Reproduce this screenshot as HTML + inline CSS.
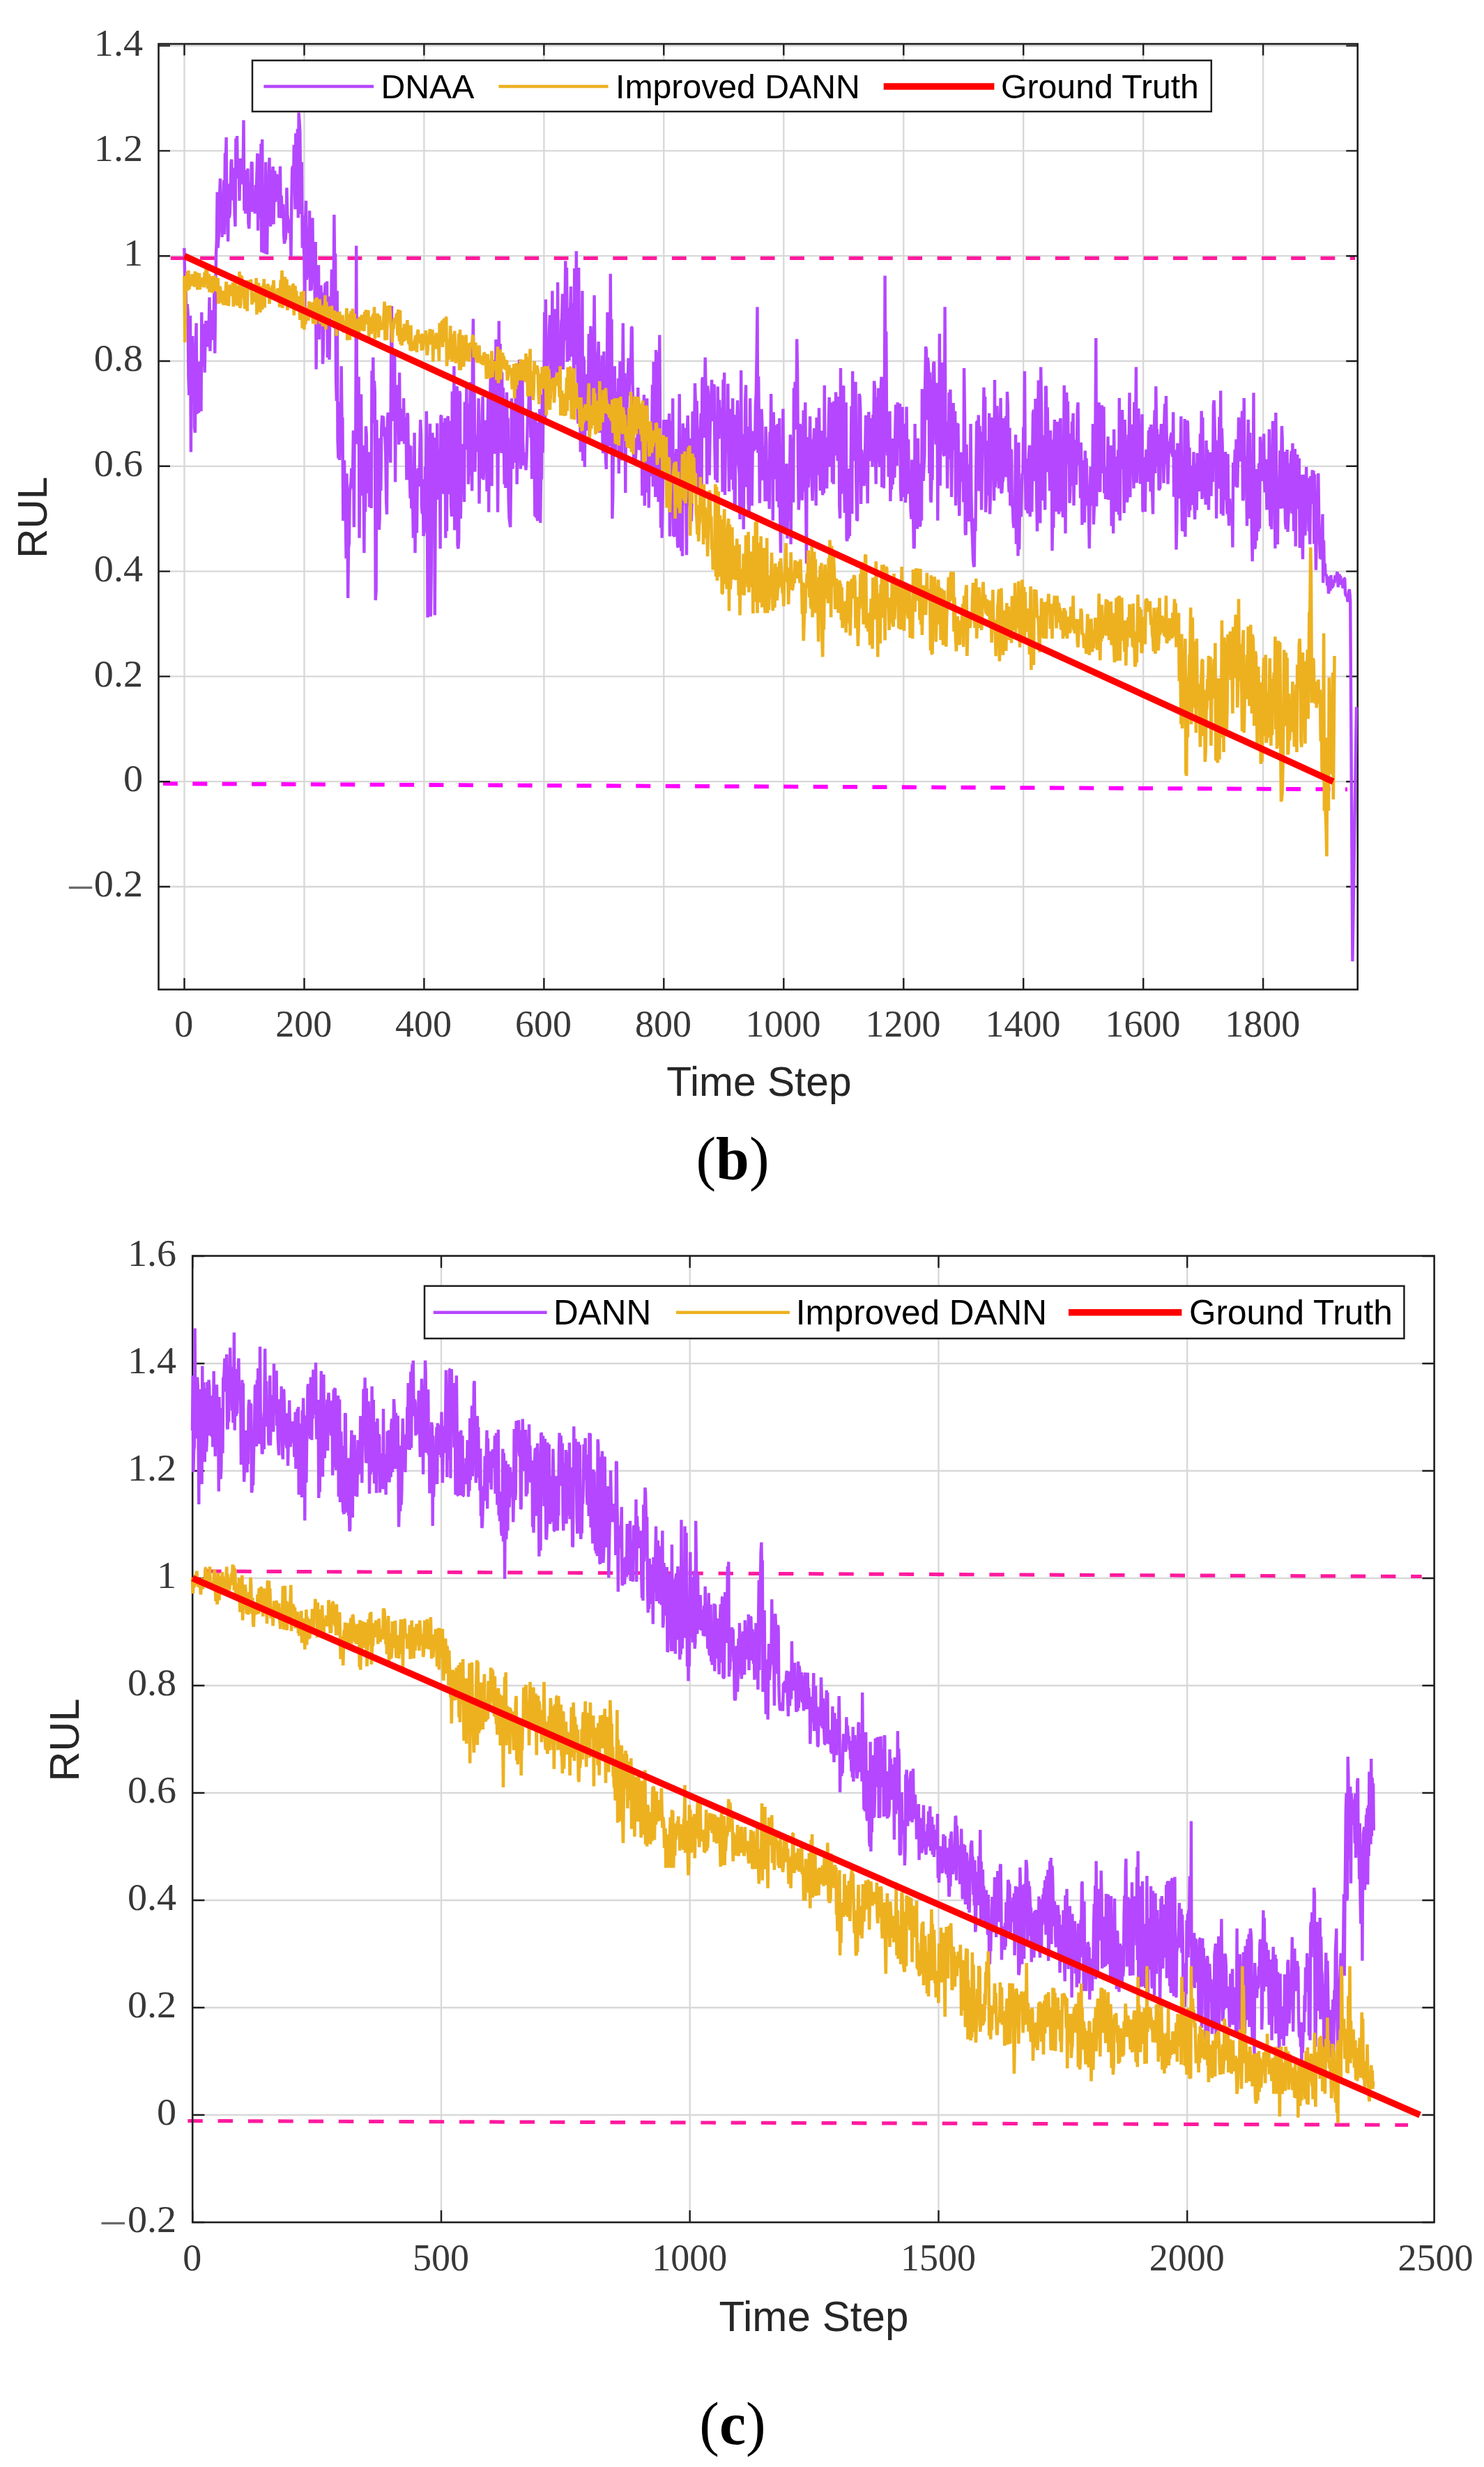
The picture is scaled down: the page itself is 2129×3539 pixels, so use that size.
<!DOCTYPE html>
<html><head><meta charset="utf-8"><title>RUL prediction</title>
<style>
html,body{margin:0;padding:0;background:#fff;}
svg{display:block;}
.tk{font-family:"Liberation Serif",serif;fill:#383838;}
.sn{font-family:"Liberation Sans",sans-serif;fill:#262626;}
.lg{font-family:"Liberation Sans",sans-serif;fill:#000;}
.cap{font-family:"Liberation Serif",serif;fill:#000;}
</style></head><body>
<svg width="2129" height="3539" viewBox="0 0 2129 3539">
<rect width="2129" height="3539" fill="#fff"/>
<path d="M264.5,63.0V1419.5 M436.5,63.0V1419.5 M608.4,63.0V1419.5 M780.4,63.0V1419.5 M952.3,63.0V1419.5 M1124.3,63.0V1419.5 M1296.3,63.0V1419.5 M1468.2,63.0V1419.5 M1640.2,63.0V1419.5 M1812.1,63.0V1419.5 M227.5,1272.0H1947.7 M227.5,1121.2H1947.7 M227.5,970.4H1947.7 M227.5,819.6H1947.7 M227.5,668.8H1947.7 M227.5,518.0H1947.7 M227.5,367.2H1947.7 M227.5,216.4H1947.7 M227.5,65.6H1947.7" stroke="#d8d8d8" stroke-width="2.3" fill="none"/>
<path d="M244.8,370.4 L1944,370.4" stroke="#ff1a9e" stroke-width="5.2" stroke-dasharray="20.8 21.5" fill="none"/>
<path d="M233.9,1124.2 L1933,1132.3" stroke="#ff00ff" stroke-width="5.8" stroke-dasharray="21 21.4" fill="none"/>
<path d="M264.5,1419.5v-16.5 M264.5,63.0v16.5 M436.5,1419.5v-16.5 M436.5,63.0v16.5 M608.4,1419.5v-16.5 M608.4,63.0v16.5 M780.4,1419.5v-16.5 M780.4,63.0v16.5 M952.3,1419.5v-16.5 M952.3,63.0v16.5 M1124.3,1419.5v-16.5 M1124.3,63.0v16.5 M1296.3,1419.5v-16.5 M1296.3,63.0v16.5 M1468.2,1419.5v-16.5 M1468.2,63.0v16.5 M1640.2,1419.5v-16.5 M1640.2,63.0v16.5 M1812.1,1419.5v-16.5 M1812.1,63.0v16.5 M227.5,1272.0h16.5 M1947.7,1272.0h-16.5 M227.5,1121.2h16.5 M1947.7,1121.2h-16.5 M227.5,970.4h16.5 M1947.7,970.4h-16.5 M227.5,819.6h16.5 M1947.7,819.6h-16.5 M227.5,668.8h16.5 M1947.7,668.8h-16.5 M227.5,518.0h16.5 M1947.7,518.0h-16.5 M227.5,367.2h16.5 M1947.7,367.2h-16.5 M227.5,216.4h16.5 M1947.7,216.4h-16.5 M227.5,65.6h16.5 M1947.7,65.6h-16.5" stroke="#1e1e1e" stroke-width="2.4" fill="none"/>
<rect x="227.5" y="63.0" width="1720.2" height="1356.5" fill="none" stroke="#1e1e1e" stroke-width="2.6"/>
<g fill="none" stroke-linejoin="bevel">
<path d="M264.4,355.7 L265.3,408.1 L266.1,389.8 L267.0,439.1 L267.8,465.6 L268.7,436.1 L269.6,448.1 L270.4,540.6 L271.3,566.8 L272.1,465.2 L273.0,452.7 L273.9,648.4 L274.7,513.0 L275.6,529.5 L276.4,481.9 L277.3,569.8 L278.2,498.6 L279.0,613.7 L279.9,620.7 L280.7,509.2 L281.6,463.5 L282.5,594.0 L283.3,565.0 L284.2,559.2 L285.0,592.3 L285.9,518.7 L286.8,568.8 L287.6,585.6 L288.5,589.9 L289.3,448.1 L290.2,526.3 L291.1,464.5 L291.9,476.5 L292.8,488.7 L293.6,534.4 L294.5,486.7 L295.4,460.1 L296.2,483.2 L297.1,468.8 L297.9,497.6 L298.8,465.8 L299.7,467.3 L300.5,426.6 L301.4,503.6 L302.2,469.6 L303.1,487.5 L304.0,445.1 L304.8,487.9 L305.7,469.7 L306.5,461.8 L307.4,417.3 L308.3,506.7 L309.1,434.9 L310.0,364.0 L310.8,347.2 L311.7,275.6 L312.6,355.7 L313.4,343.4 L314.3,327.4 L315.1,280.1 L316.0,256.2 L316.9,295.3 L317.7,280.9 L318.6,340.3 L319.4,301.1 L320.3,324.0 L321.2,258.6 L322.0,336.2 L322.9,219.4 L323.7,243.8 L324.6,197.0 L325.5,316.1 L326.3,312.0 L327.2,346.4 L328.0,263.4 L328.9,312.4 L329.8,306.4 L330.6,278.4 L331.5,232.4 L332.3,228.7 L333.2,287.2 L334.1,278.5 L334.9,240.9 L335.8,265.7 L336.6,305.9 L337.5,324.9 L338.4,198.5 L339.2,238.2 L340.1,195.0 L340.9,255.9 L341.8,239.9 L342.7,232.7 L343.5,287.9 L344.4,227.5 L345.2,232.1 L346.1,247.9 L347.0,244.9 L347.8,264.3 L348.7,242.3 L349.5,172.4 L350.4,302.2 L351.2,244.0 L352.1,306.4 L353.0,251.0 L353.8,253.6 L354.7,261.1 L355.5,241.7 L356.4,320.6 L357.3,328.0 L358.1,296.8 L359.0,262.3 L359.8,296.8 L360.7,234.0 L361.6,232.4 L362.4,303.8 L363.3,298.4 L364.1,280.4 L365.0,300.2 L365.9,306.2 L366.7,265.2 L367.6,277.7 L368.4,252.7 L369.3,220.1 L370.2,330.8 L371.0,220.9 L371.9,234.1 L372.7,260.8 L373.6,313.9 L374.5,205.9 L375.3,361.8 L376.2,200.1 L377.0,319.1 L377.9,362.8 L378.8,302.2 L379.6,326.0 L380.5,363.8 L381.3,232.4 L382.2,317.8 L383.1,364.9 L383.9,300.8 L384.8,257.0 L385.6,269.2 L386.5,226.3 L387.4,304.4 L388.2,324.9 L389.1,266.5 L389.9,309.3 L390.8,248.3 L391.7,238.9 L392.5,321.8 L393.4,274.9 L394.2,244.8 L395.1,289.6 L396.0,276.4 L396.8,249.7 L397.7,269.3 L398.5,251.1 L399.4,270.0 L400.3,312.5 L401.1,275.4 L402.0,238.6 L402.8,313.0 L403.7,280.7 L404.6,303.9 L405.4,301.1 L406.3,293.0 L407.1,336.5 L408.0,349.5 L408.9,344.1 L409.7,342.8 L410.6,323.7 L411.4,269.4 L412.3,307.9 L413.2,314.5 L414.0,316.7 L414.9,334.5 L415.7,322.1 L416.6,331.4 L417.5,368.0 L418.3,293.3 L419.2,242.5 L420.0,238.2 L420.9,273.4 L421.8,207.8 L422.6,245.5 L423.5,300.2 L424.3,191.3 L425.2,213.6 L426.1,251.9 L426.9,184.8 L427.8,312.5 L428.6,161.6 L429.5,172.9 L430.4,189.4 L431.2,271.0 L432.1,306.9 L432.9,232.4 L433.8,355.7 L434.7,309.3 L435.5,346.5 L436.4,366.0 L437.2,463.5 L438.1,320.1 L439.0,287.9 L439.8,401.5 L440.7,394.2 L441.5,326.5 L442.4,365.7 L443.3,381.0 L444.1,302.2 L445.0,417.3 L445.8,406.5 L446.7,416.2 L447.6,366.5 L448.4,312.5 L449.3,406.5 L450.1,404.8 L451.0,383.0 L451.9,434.6 L452.7,347.1 L453.6,529.8 L454.4,438.4 L455.3,446.3 L456.2,413.2 L457.0,380.3 L457.9,486.9 L458.7,425.4 L459.6,416.1 L460.5,409.3 L461.3,433.2 L462.2,422.6 L463.0,522.1 L463.9,500.2 L464.8,419.8 L465.6,429.7 L466.5,408.1 L467.3,406.1 L468.2,449.6 L469.1,403.5 L469.9,512.9 L470.8,425.3 L471.6,450.9 L472.5,515.9 L473.4,444.0 L474.2,426.6 L475.1,443.2 L475.9,386.5 L476.8,455.3 L477.7,448.1 L478.5,432.6 L479.4,307.9 L480.2,388.5 L481.1,363.7 L482.0,540.6 L482.8,575.1 L483.7,417.3 L484.5,631.4 L485.4,657.6 L486.3,576.7 L487.1,660.0 L488.0,599.2 L488.8,651.5 L489.7,525.2 L490.6,609.1 L491.4,598.7 L492.3,747.0 L493.1,734.4 L494.0,660.2 L494.9,712.5 L495.7,734.7 L496.6,801.3 L497.4,679.2 L498.3,725.9 L499.2,857.9 L500.0,786.3 L500.9,779.2 L501.7,706.8 L502.6,697.6 L503.5,691.3 L504.3,671.5 L505.2,700.9 L506.0,686.2 L506.9,617.6 L507.8,756.2 L508.6,629.7 L509.5,636.9 L510.3,615.4 L511.2,352.6 L512.1,602.2 L512.9,622.6 L513.8,637.1 L514.6,540.6 L515.5,771.7 L516.4,660.8 L517.2,695.8 L518.1,565.6 L518.9,711.0 L519.8,681.4 L520.7,639.1 L521.5,678.9 L522.4,793.2 L523.2,646.5 L524.1,734.2 L524.9,611.4 L525.8,624.0 L526.7,707.6 L527.5,672.1 L528.4,673.6 L529.2,648.6 L530.1,727.3 L531.0,725.4 L531.8,686.3 L532.7,729.0 L533.5,531.7 L534.4,607.1 L535.3,512.8 L536.1,595.0 L537.0,546.4 L537.8,562.1 L538.7,861.0 L539.6,847.5 L540.4,602.2 L541.3,687.6 L542.1,629.6 L543.0,686.5 L543.9,759.8 L544.7,742.3 L545.6,628.2 L546.4,703.9 L547.3,614.4 L548.2,596.0 L549.0,611.2 L549.9,597.4 L550.7,625.8 L551.6,612.8 L552.5,631.0 L553.3,653.1 L554.2,720.0 L555.0,737.8 L555.9,602.2 L556.8,591.7 L557.6,621.4 L558.5,652.1 L559.3,616.3 L560.2,663.8 L561.1,514.1 L561.9,438.9 L562.8,540.1 L563.6,528.1 L564.5,604.0 L565.4,570.5 L566.2,509.7 L567.1,691.5 L567.9,562.7 L568.8,571.2 L569.7,552.4 L570.5,615.6 L571.4,577.6 L572.2,637.8 L573.1,534.4 L574.0,633.0 L574.8,622.0 L575.7,586.4 L576.5,627.8 L577.4,632.1 L578.3,630.8 L579.1,571.4 L580.0,636.8 L580.8,598.8 L581.7,628.7 L582.6,615.2 L583.4,688.5 L584.3,592.6 L585.1,596.0 L586.0,666.8 L586.9,638.4 L587.7,681.4 L588.6,715.0 L589.4,639.6 L590.3,729.5 L591.2,706.4 L592.0,712.9 L592.9,771.6 L593.7,714.6 L594.6,620.7 L595.5,793.2 L596.3,708.7 L597.2,682.9 L598.0,764.6 L598.9,677.8 L599.8,671.8 L600.6,677.5 L601.5,697.8 L602.3,645.5 L603.2,602.2 L604.1,623.7 L604.9,725.4 L605.8,737.1 L606.6,687.5 L607.5,769.0 L608.4,763.3 L609.2,758.9 L610.1,669.2 L610.9,714.4 L611.8,589.9 L612.7,639.8 L613.5,885.7 L614.4,850.5 L615.2,808.2 L616.1,763.8 L617.0,607.8 L617.8,884.4 L618.7,819.5 L619.5,669.0 L620.4,620.7 L621.3,649.0 L622.1,646.5 L623.0,627.7 L623.8,882.6 L624.7,728.1 L625.6,694.5 L626.4,667.8 L627.3,607.2 L628.1,714.7 L629.0,715.1 L629.9,664.6 L630.7,643.7 L631.6,787.1 L632.4,596.9 L633.3,596.0 L634.2,670.9 L635.0,708.6 L635.9,606.1 L636.7,622.0 L637.6,686.4 L638.5,599.7 L639.3,771.7 L640.2,682.3 L641.0,761.9 L641.9,602.2 L642.8,597.0 L643.6,699.1 L644.5,708.8 L645.3,603.7 L646.2,660.1 L647.1,725.4 L647.9,740.8 L648.8,561.4 L649.6,668.2 L650.5,713.9 L651.4,525.2 L652.2,760.5 L653.1,636.9 L653.9,553.8 L654.8,620.2 L655.7,554.4 L656.5,782.0 L657.4,787.1 L658.2,774.8 L659.1,561.0 L660.0,565.2 L660.8,743.9 L661.7,690.3 L662.5,678.7 L663.4,636.9 L664.3,641.6 L665.1,657.6 L666.0,720.0 L666.8,576.4 L667.7,603.4 L668.6,622.3 L669.4,556.0 L670.3,645.0 L671.1,579.0 L672.0,694.6 L672.9,661.3 L673.7,682.2 L674.6,557.4 L675.4,548.2 L676.3,573.9 L677.2,704.3 L678.0,513.5 L678.9,457.4 L679.7,585.5 L680.6,563.7 L681.5,676.8 L682.3,623.8 L683.2,628.7 L684.0,645.8 L684.9,647.5 L685.8,623.7 L686.6,571.4 L687.5,722.4 L688.3,639.8 L689.2,686.5 L690.1,645.0 L690.9,622.3 L691.8,586.0 L692.6,568.5 L693.5,688.5 L694.3,662.3 L695.2,615.6 L696.1,609.2 L696.9,602.9 L697.8,634.8 L698.6,704.9 L699.5,616.4 L700.4,565.2 L701.2,734.7 L702.1,604.5 L702.9,585.4 L703.8,539.7 L704.7,620.5 L705.5,697.2 L706.4,522.1 L707.2,516.3 L708.1,579.6 L709.0,618.1 L709.8,650.9 L710.7,584.8 L711.5,487.1 L712.4,583.8 L713.3,613.2 L714.1,734.7 L715.0,613.5 L715.8,460.4 L716.7,617.8 L717.6,493.1 L718.4,577.6 L719.3,649.9 L720.1,533.8 L721.0,617.6 L721.9,556.0 L722.7,625.8 L723.6,694.6 L724.4,613.2 L725.3,700.1 L726.2,605.9 L727.0,562.7 L727.9,643.4 L728.7,599.6 L729.6,715.1 L730.5,743.3 L731.3,749.0 L732.2,756.2 L733.0,689.7 L733.9,571.4 L734.8,629.5 L735.6,672.8 L736.5,585.8 L737.3,663.6 L738.2,653.4 L739.1,662.8 L739.9,548.1 L740.8,537.0 L741.6,694.6 L742.5,639.8 L743.4,559.0 L744.2,587.9 L745.1,515.9 L745.9,624.7 L746.8,672.8 L747.7,636.3 L748.5,654.1 L749.4,534.4 L750.2,633.3 L751.1,667.6 L752.0,649.0 L752.8,663.8 L753.7,660.1 L754.5,674.3 L755.4,657.7 L756.3,629.2 L757.1,592.4 L758.0,608.2 L758.8,565.2 L759.7,566.8 L760.6,568.0 L761.4,627.7 L762.3,612.8 L763.1,687.0 L764.0,645.0 L764.9,626.4 L765.7,595.9 L766.6,658.5 L767.4,740.8 L768.3,591.8 L769.2,742.8 L770.0,605.9 L770.9,745.4 L771.7,746.7 L772.6,658.9 L773.5,624.2 L774.3,586.8 L775.2,750.1 L776.0,687.3 L776.9,686.9 L777.8,566.1 L778.6,649.4 L779.5,572.5 L780.3,558.2 L781.2,448.1 L782.1,602.2 L782.9,429.6 L783.8,538.4 L784.6,531.6 L785.5,497.5 L786.4,512.7 L787.2,511.5 L788.1,471.4 L788.9,452.0 L789.8,571.4 L790.7,509.0 L791.5,515.8 L792.4,417.3 L793.2,541.8 L794.1,559.7 L795.0,501.3 L795.8,443.2 L796.7,483.4 L797.5,527.5 L798.4,495.9 L799.3,546.8 L800.1,405.0 L801.0,531.5 L801.8,540.6 L802.7,538.9 L803.6,517.5 L804.4,513.7 L805.3,461.0 L806.1,457.2 L807.0,421.5 L807.9,529.9 L808.7,489.6 L809.6,485.3 L810.4,451.0 L811.3,374.2 L812.2,469.3 L813.0,383.9 L813.9,519.0 L814.7,441.3 L815.6,450.6 L816.5,517.0 L817.3,481.8 L818.2,442.5 L819.0,411.1 L819.9,511.5 L820.8,505.7 L821.6,500.3 L822.5,435.1 L823.3,571.4 L824.2,385.0 L825.1,422.5 L825.9,523.0 L826.8,360.3 L827.6,441.9 L828.5,518.9 L829.4,607.8 L830.2,383.9 L831.1,512.5 L831.9,525.2 L832.8,648.4 L833.7,629.2 L834.5,612.6 L835.4,417.3 L836.2,661.3 L837.1,511.2 L838.0,519.0 L838.8,670.0 L839.7,573.0 L840.5,607.7 L841.4,536.9 L842.3,567.3 L843.1,617.7 L844.0,560.4 L844.8,478.9 L845.7,631.6 L846.6,537.9 L847.4,467.7 L848.3,497.9 L849.1,544.6 L850.0,482.4 L850.9,602.2 L851.7,510.4 L852.6,423.5 L853.4,502.7 L854.3,515.0 L855.2,582.4 L856.0,612.1 L856.9,586.7 L857.7,526.3 L858.6,490.0 L859.5,531.6 L860.3,620.7 L861.2,562.1 L862.0,527.1 L862.9,612.0 L863.8,509.7 L864.6,645.2 L865.5,650.1 L866.3,504.2 L867.2,595.7 L868.0,561.2 L868.9,656.4 L869.8,673.1 L870.6,574.0 L871.5,448.1 L872.3,539.2 L873.2,624.7 L874.1,640.4 L874.9,626.3 L875.8,392.7 L876.6,545.9 L877.5,457.9 L878.4,743.9 L879.2,712.6 L880.1,621.1 L880.9,553.4 L881.8,525.2 L882.7,649.5 L883.5,609.2 L884.4,562.0 L885.2,610.1 L886.1,609.4 L887.0,542.7 L887.8,679.2 L888.7,578.6 L889.5,518.2 L890.4,538.2 L891.3,560.5 L892.1,660.5 L893.0,565.4 L893.8,463.5 L894.7,584.8 L895.6,607.0 L896.4,535.3 L897.3,706.9 L898.1,560.8 L899.0,604.1 L899.9,570.5 L900.7,551.3 L901.6,513.8 L902.4,567.5 L903.3,545.7 L904.2,548.8 L905.0,530.6 L905.9,469.4 L906.7,469.7 L907.6,551.5 L908.5,593.5 L909.3,663.8 L910.2,666.2 L911.0,660.0 L911.9,656.9 L912.8,641.4 L913.6,627.7 L914.5,645.1 L915.3,556.0 L916.2,643.9 L917.1,612.9 L917.9,645.6 L918.8,627.2 L919.6,637.3 L920.5,610.3 L921.4,710.9 L922.2,613.4 L923.1,623.4 L923.9,566.2 L924.8,725.4 L925.7,576.2 L926.5,656.8 L927.4,599.2 L928.2,571.4 L929.1,706.5 L930.0,640.4 L930.8,728.5 L931.7,639.6 L932.5,643.9 L933.4,683.5 L934.3,607.5 L935.1,624.0 L936.0,552.1 L936.8,698.0 L937.7,519.0 L938.6,614.3 L939.4,582.3 L940.3,713.1 L941.1,501.9 L942.0,586.5 L942.9,635.9 L943.7,505.3 L944.6,720.0 L945.4,595.8 L946.3,480.5 L947.2,633.5 L948.0,756.9 L948.9,661.9 L949.7,771.7 L950.6,717.7 L951.5,655.3 L952.3,602.2 L953.2,640.7 L954.0,617.6 L954.9,636.1 L955.8,602.1 L956.6,709.1 L957.5,688.4 L958.3,626.6 L959.2,631.5 L960.1,593.2 L960.9,769.4 L961.8,723.9 L962.6,603.7 L963.5,709.8 L964.4,687.4 L965.2,571.4 L966.1,768.6 L966.9,768.3 L967.8,769.5 L968.7,761.1 L969.5,661.6 L970.4,644.0 L971.2,748.9 L972.1,783.5 L973.0,785.3 L973.8,676.0 L974.7,565.2 L975.5,656.7 L976.4,701.9 L977.3,790.4 L978.1,731.9 L979.0,797.8 L979.8,607.4 L980.7,667.1 L981.6,711.0 L982.4,723.6 L983.3,613.7 L984.1,697.1 L985.0,796.3 L985.9,617.7 L986.7,596.0 L987.6,635.5 L988.4,629.0 L989.3,726.1 L990.2,628.9 L991.0,664.9 L991.9,747.8 L992.7,717.3 L993.6,591.0 L994.5,591.7 L995.3,689.4 L996.2,621.0 L997.0,549.8 L997.9,578.5 L998.8,710.0 L999.6,575.1 L1000.5,626.7 L1001.3,707.6 L1002.2,706.8 L1003.1,688.9 L1003.9,614.3 L1004.8,619.1 L1005.6,592.8 L1006.5,702.5 L1007.4,544.4 L1008.2,541.2 L1009.1,593.2 L1009.9,628.0 L1010.8,586.2 L1011.7,512.8 L1012.5,551.8 L1013.4,586.4 L1014.2,694.6 L1015.1,553.5 L1016.0,564.1 L1016.8,605.4 L1017.7,681.7 L1018.5,630.2 L1019.4,577.0 L1020.3,573.9 L1021.1,544.8 L1022.0,604.4 L1022.8,563.0 L1023.7,552.9 L1024.6,551.7 L1025.4,640.2 L1026.3,688.5 L1027.1,620.5 L1028.0,624.0 L1028.9,692.3 L1029.7,554.5 L1030.6,626.2 L1031.4,629.4 L1032.3,573.6 L1033.2,621.1 L1034.0,588.0 L1034.9,610.8 L1035.7,584.7 L1036.6,705.8 L1037.5,544.4 L1038.3,657.2 L1039.2,534.4 L1040.0,710.0 L1040.9,640.2 L1041.7,611.5 L1042.6,611.7 L1043.5,642.9 L1044.3,550.4 L1045.2,644.3 L1046.0,705.0 L1046.9,586.5 L1047.8,688.1 L1048.6,606.4 L1049.5,664.1 L1050.3,621.7 L1051.2,571.4 L1052.1,702.5 L1052.9,595.0 L1053.8,724.8 L1054.6,725.4 L1055.5,614.0 L1056.4,667.0 L1057.2,604.8 L1058.1,574.4 L1058.9,611.9 L1059.8,666.5 L1060.7,682.2 L1061.5,745.0 L1062.4,692.3 L1063.2,531.3 L1064.1,719.7 L1065.0,734.0 L1065.8,648.3 L1066.7,759.3 L1067.5,622.7 L1068.4,656.6 L1069.3,572.3 L1070.1,552.4 L1071.0,698.7 L1071.8,636.7 L1072.7,612.0 L1073.6,719.2 L1074.4,738.1 L1075.3,714.5 L1076.1,571.4 L1077.0,650.3 L1077.9,715.1 L1078.7,725.4 L1079.6,654.3 L1080.4,618.3 L1081.3,646.7 L1082.2,643.6 L1083.0,645.0 L1083.9,580.6 L1084.7,566.6 L1085.6,514.0 L1086.5,440.4 L1087.3,649.4 L1088.2,539.9 L1089.0,620.8 L1089.9,721.8 L1090.8,626.4 L1091.6,663.2 L1092.5,586.8 L1093.3,606.1 L1094.2,689.0 L1095.1,674.7 L1095.9,651.4 L1096.8,640.2 L1097.6,719.3 L1098.5,612.1 L1099.4,634.0 L1100.2,719.0 L1101.1,699.5 L1101.9,660.6 L1102.8,692.2 L1103.7,730.0 L1104.5,619.5 L1105.4,637.9 L1106.2,565.0 L1107.1,656.9 L1108.0,599.6 L1108.8,746.8 L1109.7,591.3 L1110.5,644.7 L1111.4,626.1 L1112.3,641.7 L1113.1,687.5 L1114.0,609.9 L1114.8,719.3 L1115.7,608.1 L1116.6,633.1 L1117.4,728.1 L1118.3,600.1 L1119.1,738.1 L1120.0,793.0 L1120.9,670.6 L1121.7,760.5 L1122.6,684.8 L1123.4,586.6 L1124.3,725.4 L1125.2,688.3 L1126.0,764.4 L1126.9,666.8 L1127.7,751.5 L1128.6,665.1 L1129.5,772.4 L1130.3,698.7 L1131.2,675.2 L1132.0,747.6 L1132.9,689.3 L1133.8,623.5 L1134.6,780.7 L1135.5,677.1 L1136.3,628.4 L1137.2,689.1 L1138.1,720.8 L1138.9,556.6 L1139.8,616.5 L1140.6,547.9 L1141.5,615.7 L1142.4,601.6 L1143.2,486.4 L1144.1,532.4 L1144.9,657.0 L1145.8,731.4 L1146.7,709.9 L1147.5,608.1 L1148.4,612.9 L1149.2,692.4 L1150.1,686.9 L1151.0,717.6 L1151.8,675.6 L1152.7,588.5 L1153.5,705.1 L1154.4,671.2 L1155.3,577.3 L1156.1,707.9 L1157.0,808.4 L1157.8,627.1 L1158.7,694.7 L1159.6,699.3 L1160.4,675.7 L1161.3,641.2 L1162.1,597.3 L1163.0,667.5 L1163.9,630.2 L1164.7,692.9 L1165.6,718.4 L1166.4,673.0 L1167.3,635.2 L1168.2,614.3 L1169.0,683.6 L1169.9,665.6 L1170.7,725.2 L1171.6,599.1 L1172.5,681.2 L1173.3,671.9 L1174.2,645.3 L1175.0,585.3 L1175.9,652.4 L1176.8,703.8 L1177.6,680.4 L1178.5,617.9 L1179.3,653.2 L1180.2,710.3 L1181.1,688.3 L1181.9,707.5 L1182.8,552.7 L1183.6,659.4 L1184.5,632.1 L1185.4,641.9 L1186.2,700.6 L1187.1,627.7 L1187.9,656.7 L1188.8,609.9 L1189.7,569.9 L1190.5,669.8 L1191.4,581.8 L1192.2,577.3 L1193.1,607.1 L1194.0,692.1 L1194.8,608.2 L1195.7,694.4 L1196.5,575.6 L1197.4,624.1 L1198.3,653.4 L1199.1,562.5 L1200.0,606.1 L1200.8,612.5 L1201.7,661.3 L1202.6,635.7 L1203.4,569.0 L1204.3,725.5 L1205.1,743.7 L1206.0,528.0 L1206.9,708.5 L1207.7,623.3 L1208.6,582.0 L1209.4,556.4 L1210.3,553.5 L1211.1,689.6 L1212.0,735.6 L1212.9,687.8 L1213.7,577.3 L1214.6,773.2 L1215.4,776.1 L1216.3,749.3 L1217.2,772.6 L1218.0,672.2 L1218.9,769.0 L1219.7,679.4 L1220.6,671.5 L1221.5,582.4 L1222.3,736.9 L1223.2,532.6 L1224.0,661.3 L1224.9,612.9 L1225.8,648.2 L1226.6,605.2 L1227.5,547.7 L1228.3,690.0 L1229.2,746.8 L1230.1,745.7 L1230.9,638.4 L1231.8,692.3 L1232.6,565.0 L1233.5,568.4 L1234.4,589.0 L1235.2,722.9 L1236.1,645.3 L1236.9,654.2 L1237.8,659.8 L1238.7,677.0 L1239.5,697.2 L1240.4,683.8 L1241.2,643.3 L1242.1,595.8 L1243.0,645.6 L1243.8,660.0 L1244.7,722.1 L1245.5,638.9 L1246.4,590.8 L1247.3,661.4 L1248.1,627.5 L1249.0,624.9 L1249.8,622.1 L1250.7,600.1 L1251.6,669.8 L1252.4,595.0 L1253.3,619.6 L1254.1,546.5 L1255.0,555.3 L1255.9,648.9 L1256.7,694.4 L1257.6,576.4 L1258.4,570.3 L1259.3,606.1 L1260.2,556.7 L1261.0,655.0 L1261.9,670.0 L1262.7,658.7 L1263.6,561.9 L1264.5,540.5 L1265.3,699.1 L1266.2,541.3 L1267.0,558.9 L1267.9,700.6 L1268.8,607.8 L1269.6,395.5 L1270.5,606.4 L1271.3,475.5 L1272.2,628.7 L1273.1,653.3 L1273.9,592.7 L1274.8,684.1 L1275.6,665.9 L1276.5,590.0 L1277.4,719.0 L1278.2,674.8 L1279.1,702.3 L1279.9,629.1 L1280.8,694.9 L1281.7,654.4 L1282.5,680.4 L1283.4,685.2 L1284.2,624.4 L1285.1,580.5 L1286.0,618.6 L1286.8,668.0 L1287.7,577.3 L1288.5,643.5 L1289.4,627.4 L1290.3,614.6 L1291.1,578.9 L1292.0,698.8 L1292.8,719.0 L1293.7,674.2 L1294.6,583.7 L1295.4,713.0 L1296.3,614.2 L1297.1,607.8 L1298.0,631.2 L1298.9,721.0 L1299.7,708.3 L1300.6,583.5 L1301.4,667.6 L1302.3,658.5 L1303.2,630.2 L1304.0,708.2 L1304.9,699.7 L1305.7,698.7 L1306.6,732.2 L1307.5,744.7 L1308.3,659.5 L1309.2,697.8 L1310.0,732.7 L1310.9,786.8 L1311.8,784.3 L1312.6,608.1 L1313.5,718.6 L1314.3,696.8 L1315.2,632.3 L1316.1,758.8 L1316.9,628.7 L1317.8,707.6 L1318.6,704.1 L1319.5,755.5 L1320.4,752.3 L1321.2,665.1 L1322.1,746.8 L1322.9,558.2 L1323.8,562.0 L1324.7,690.0 L1325.5,669.5 L1326.4,652.3 L1327.2,550.2 L1328.1,497.2 L1329.0,502.9 L1329.8,602.4 L1330.7,513.2 L1331.5,518.3 L1332.4,534.0 L1333.3,679.0 L1334.1,534.2 L1335.0,716.0 L1335.8,720.7 L1336.7,677.9 L1337.6,689.0 L1338.4,553.4 L1339.3,521.4 L1340.1,518.8 L1341.0,583.1 L1341.9,611.9 L1342.7,637.7 L1343.6,549.7 L1344.4,552.0 L1345.3,746.8 L1346.2,579.0 L1347.0,694.9 L1347.9,478.7 L1348.7,696.6 L1349.6,619.9 L1350.5,644.1 L1351.3,635.5 L1352.2,519.9 L1353.0,613.7 L1353.9,652.8 L1354.8,653.1 L1355.6,440.2 L1356.5,623.3 L1357.3,645.6 L1358.2,604.7 L1359.1,700.6 L1359.9,636.8 L1360.8,658.7 L1361.6,563.0 L1362.5,596.4 L1363.4,558.8 L1364.2,632.8 L1365.1,713.1 L1365.9,641.3 L1366.8,608.8 L1367.7,578.1 L1368.5,645.9 L1369.4,628.3 L1370.2,589.8 L1371.1,725.2 L1372.0,631.1 L1372.8,680.0 L1373.7,608.5 L1374.5,608.1 L1375.4,693.4 L1376.3,739.9 L1377.1,674.5 L1378.0,660.8 L1378.8,648.7 L1379.7,677.9 L1380.6,690.8 L1381.4,663.6 L1382.3,720.4 L1383.1,528.0 L1384.0,597.1 L1384.8,765.3 L1385.7,767.2 L1386.6,637.6 L1387.4,692.8 L1388.3,666.4 L1389.1,719.1 L1390.0,748.1 L1390.9,699.4 L1391.7,693.7 L1392.6,608.1 L1393.4,707.5 L1394.3,753.6 L1395.2,777.2 L1396.0,801.7 L1396.9,811.3 L1397.7,813.0 L1398.6,743.3 L1399.5,762.2 L1400.3,675.9 L1401.2,605.3 L1402.0,605.0 L1402.9,643.9 L1403.8,595.4 L1404.6,704.5 L1405.5,610.9 L1406.3,688.5 L1407.2,633.2 L1408.1,731.4 L1408.9,664.2 L1409.8,619.9 L1410.6,621.2 L1411.5,555.7 L1412.4,624.2 L1413.2,568.9 L1414.1,734.8 L1414.9,715.1 L1415.8,632.2 L1416.7,639.0 L1417.5,693.3 L1418.4,710.6 L1419.2,592.7 L1420.1,737.5 L1421.0,710.9 L1421.8,663.7 L1422.7,598.8 L1423.5,635.4 L1424.4,668.4 L1425.3,614.9 L1426.1,718.3 L1427.0,545.0 L1427.8,699.1 L1428.7,683.6 L1429.6,599.0 L1430.4,582.3 L1431.3,627.9 L1432.1,639.4 L1433.0,700.6 L1433.9,682.8 L1434.7,619.0 L1435.6,571.1 L1436.4,705.9 L1437.3,707.2 L1438.2,691.0 L1439.0,689.3 L1439.9,599.8 L1440.7,654.3 L1441.6,628.8 L1442.5,684.5 L1443.3,596.9 L1444.2,637.2 L1445.0,561.9 L1445.9,582.8 L1446.8,687.4 L1447.6,706.2 L1448.5,613.8 L1449.3,725.2 L1450.2,644.8 L1451.1,646.8 L1451.9,726.8 L1452.8,724.8 L1453.6,749.0 L1454.5,757.3 L1455.4,750.8 L1456.2,718.9 L1457.1,623.5 L1457.9,780.4 L1458.8,658.4 L1459.7,651.2 L1460.5,797.6 L1461.4,634.8 L1462.2,788.3 L1463.1,713.8 L1464.0,699.7 L1464.8,741.4 L1465.7,703.5 L1466.5,679.1 L1467.4,680.4 L1468.3,612.5 L1469.1,659.9 L1470.0,532.6 L1470.8,666.2 L1471.7,729.5 L1472.6,731.4 L1473.4,658.1 L1474.3,734.3 L1475.1,736.0 L1476.0,653.7 L1476.9,638.7 L1477.7,741.2 L1478.6,700.2 L1479.4,674.6 L1480.3,734.4 L1481.2,653.3 L1482.0,592.7 L1482.9,587.8 L1483.7,592.1 L1484.6,690.3 L1485.5,571.9 L1486.3,649.2 L1487.2,713.2 L1488.0,762.2 L1488.9,625.4 L1489.8,545.5 L1490.6,660.2 L1491.5,709.7 L1492.3,750.5 L1493.2,526.5 L1494.1,586.1 L1494.9,663.4 L1495.8,624.5 L1496.6,718.0 L1497.5,697.0 L1498.4,681.6 L1499.2,731.4 L1500.1,553.9 L1500.9,555.7 L1501.8,677.3 L1502.7,584.4 L1503.5,640.0 L1504.4,626.0 L1505.2,664.0 L1506.1,704.3 L1507.0,617.6 L1507.8,691.3 L1508.7,630.5 L1509.5,789.9 L1510.4,729.0 L1511.3,757.2 L1512.1,640.8 L1513.0,602.0 L1513.8,659.6 L1514.7,641.3 L1515.6,734.0 L1516.4,667.7 L1517.3,605.1 L1518.1,686.9 L1519.0,737.5 L1519.9,657.4 L1520.7,604.9 L1521.6,600.1 L1522.4,733.8 L1523.3,678.9 L1524.2,727.3 L1525.0,742.2 L1525.9,674.5 L1526.7,552.7 L1527.6,602.1 L1528.5,765.3 L1529.3,660.5 L1530.2,563.0 L1531.0,610.0 L1531.9,575.8 L1532.8,666.1 L1533.6,621.7 L1534.5,721.7 L1535.3,706.0 L1536.2,643.0 L1537.1,696.9 L1537.9,604.7 L1538.8,621.1 L1539.6,592.7 L1540.5,725.2 L1541.4,658.4 L1542.2,689.4 L1543.1,630.8 L1543.9,695.5 L1544.8,645.3 L1545.7,587.9 L1546.5,577.3 L1547.4,658.0 L1548.2,666.7 L1549.1,638.2 L1550.0,714.8 L1550.8,634.8 L1551.7,684.6 L1552.5,752.9 L1553.4,667.4 L1554.2,660.3 L1555.1,743.2 L1556.0,749.5 L1556.8,646.6 L1557.7,725.4 L1558.5,657.4 L1559.4,689.7 L1560.3,718.1 L1561.1,698.7 L1562.0,741.1 L1562.8,786.8 L1563.7,717.2 L1564.6,669.6 L1565.4,708.9 L1566.3,682.3 L1567.1,725.4 L1568.0,608.1 L1568.9,752.3 L1569.7,730.5 L1570.6,668.4 L1571.4,620.6 L1572.3,484.9 L1573.2,726.5 L1574.0,588.1 L1574.9,615.2 L1575.7,688.1 L1576.6,577.3 L1577.5,703.6 L1578.3,705.4 L1579.2,613.9 L1580.0,625.5 L1580.9,581.2 L1581.8,636.7 L1582.6,678.9 L1583.5,583.5 L1584.3,707.6 L1585.2,684.8 L1586.1,716.0 L1586.9,703.6 L1587.8,670.2 L1588.6,697.9 L1589.5,626.3 L1590.4,717.0 L1591.2,664.2 L1592.1,700.0 L1592.9,651.9 L1593.8,638.9 L1594.7,754.6 L1595.5,697.3 L1596.4,646.3 L1597.2,765.3 L1598.1,615.9 L1599.0,680.6 L1599.8,655.1 L1600.7,688.7 L1601.5,734.2 L1602.4,678.8 L1603.3,683.3 L1604.1,645.3 L1605.0,738.5 L1605.8,571.1 L1606.7,746.8 L1607.6,654.5 L1608.4,668.4 L1609.3,621.5 L1610.1,587.9 L1611.0,672.8 L1611.9,638.0 L1612.7,736.0 L1613.6,602.0 L1614.4,643.4 L1615.3,666.9 L1616.2,697.4 L1617.0,720.5 L1617.9,709.4 L1618.7,623.5 L1619.6,634.8 L1620.5,563.4 L1621.3,713.2 L1622.2,609.9 L1623.0,614.5 L1623.9,627.6 L1624.8,608.8 L1625.6,662.2 L1626.5,700.6 L1627.3,577.1 L1628.2,634.6 L1629.1,615.4 L1629.9,526.5 L1630.8,692.8 L1631.6,642.4 L1632.5,591.5 L1633.4,586.1 L1634.2,627.8 L1635.1,662.2 L1635.9,694.3 L1636.8,643.3 L1637.7,650.9 L1638.5,594.3 L1639.4,732.9 L1640.2,733.4 L1641.1,655.9 L1642.0,682.5 L1642.8,734.2 L1643.7,675.8 L1644.5,644.9 L1645.4,679.7 L1646.3,691.2 L1647.1,662.7 L1648.0,617.4 L1648.8,689.9 L1649.7,612.7 L1650.6,705.3 L1651.4,609.0 L1652.3,685.2 L1653.1,703.6 L1654.0,737.5 L1654.9,651.4 L1655.7,625.0 L1656.6,588.2 L1657.4,679.0 L1658.3,554.2 L1659.2,619.1 L1660.0,615.5 L1660.9,669.5 L1661.7,623.3 L1662.6,703.2 L1663.5,700.6 L1664.3,700.0 L1665.2,626.2 L1666.0,608.1 L1666.9,629.7 L1667.8,654.2 L1668.6,635.2 L1669.5,693.1 L1670.3,605.7 L1671.2,579.4 L1672.1,665.9 L1672.9,568.1 L1673.8,631.6 L1674.6,668.0 L1675.5,694.4 L1676.4,656.3 L1677.2,633.1 L1678.1,650.5 L1678.9,630.4 L1679.8,625.1 L1680.7,620.7 L1681.5,649.5 L1682.4,655.1 L1683.2,591.2 L1684.1,712.7 L1685.0,668.1 L1685.8,645.2 L1686.7,685.7 L1687.5,788.4 L1688.4,747.4 L1689.3,635.8 L1690.1,708.1 L1691.0,636.6 L1691.8,715.3 L1692.7,647.8 L1693.6,646.8 L1694.4,597.3 L1695.3,717.9 L1696.1,761.4 L1697.0,760.1 L1697.9,738.1 L1698.7,745.4 L1699.6,601.0 L1700.4,769.9 L1701.3,695.7 L1702.2,671.0 L1703.0,603.5 L1703.9,606.2 L1704.7,637.2 L1705.6,741.9 L1706.5,642.1 L1707.3,732.3 L1708.2,668.1 L1709.0,724.5 L1709.9,705.3 L1710.8,676.8 L1711.6,688.0 L1712.5,648.2 L1713.3,719.6 L1714.2,745.2 L1715.1,686.5 L1715.9,664.9 L1716.8,731.7 L1717.6,650.1 L1718.5,668.3 L1719.4,685.0 L1720.2,694.7 L1721.1,704.8 L1721.9,622.2 L1722.8,703.4 L1723.7,589.6 L1724.5,716.0 L1725.4,598.8 L1726.2,713.3 L1727.1,686.3 L1727.9,687.7 L1728.8,690.3 L1729.7,724.0 L1730.5,631.9 L1731.4,697.1 L1732.2,645.1 L1733.1,693.1 L1734.0,731.4 L1734.8,668.9 L1735.7,683.7 L1736.5,648.7 L1737.4,711.8 L1738.3,663.8 L1739.1,650.8 L1740.0,691.4 L1740.8,581.7 L1741.7,574.2 L1742.6,608.3 L1743.4,657.3 L1744.3,631.4 L1745.1,743.7 L1746.0,652.9 L1746.9,634.4 L1747.7,701.0 L1748.6,649.3 L1749.4,598.1 L1750.3,690.0 L1751.2,560.4 L1752.0,737.2 L1752.9,614.3 L1753.7,640.1 L1754.6,739.8 L1755.5,688.6 L1756.3,716.9 L1757.2,680.7 L1758.0,648.2 L1758.9,665.0 L1759.8,715.3 L1760.6,737.5 L1761.5,651.3 L1762.3,733.1 L1763.2,754.2 L1764.1,715.4 L1764.9,734.7 L1765.8,741.6 L1766.6,730.6 L1767.5,723.0 L1768.4,785.3 L1769.2,663.6 L1770.1,691.2 L1770.9,675.7 L1771.8,644.7 L1772.7,698.1 L1773.5,630.2 L1774.4,682.0 L1775.2,699.5 L1776.1,656.9 L1777.0,598.9 L1777.8,614.1 L1778.7,642.3 L1779.5,655.8 L1780.4,661.7 L1781.3,611.9 L1782.1,589.6 L1783.0,718.0 L1783.8,716.0 L1784.7,571.1 L1785.6,670.6 L1786.4,654.6 L1787.3,668.4 L1788.1,689.0 L1789.0,754.5 L1789.9,669.2 L1790.7,602.0 L1791.6,744.1 L1792.4,622.7 L1793.3,621.1 L1794.2,714.2 L1795.0,698.3 L1795.9,762.7 L1796.7,805.3 L1797.6,733.0 L1798.5,563.4 L1799.3,763.4 L1800.2,787.5 L1801.0,783.1 L1801.9,672.8 L1802.8,775.4 L1803.6,704.0 L1804.5,760.1 L1805.3,762.2 L1806.2,664.5 L1807.1,758.3 L1807.9,626.6 L1808.8,676.1 L1809.6,670.3 L1810.5,690.1 L1811.4,635.9 L1812.2,641.2 L1813.1,622.4 L1813.9,683.2 L1814.8,706.3 L1815.7,688.5 L1816.5,658.7 L1817.4,731.4 L1818.2,691.8 L1819.1,685.3 L1820.0,721.9 L1820.8,615.8 L1821.7,722.4 L1822.5,754.9 L1823.4,701.0 L1824.3,759.3 L1825.1,661.8 L1826.0,604.0 L1826.8,651.7 L1827.7,664.8 L1828.6,698.3 L1829.4,786.8 L1830.3,592.1 L1831.1,673.7 L1832.0,711.3 L1832.9,781.0 L1833.7,686.3 L1834.6,692.7 L1835.4,728.6 L1836.3,646.2 L1837.2,729.8 L1838.0,672.2 L1838.9,611.2 L1839.7,630.4 L1840.6,729.3 L1841.5,662.8 L1842.3,648.1 L1843.2,706.0 L1844.0,749.5 L1844.9,759.1 L1845.8,689.6 L1846.6,645.1 L1847.5,763.0 L1848.3,740.4 L1849.2,727.3 L1850.1,664.9 L1850.9,732.9 L1851.8,662.5 L1852.6,646.9 L1853.5,736.7 L1854.4,635.9 L1855.2,691.5 L1856.1,762.0 L1856.9,726.0 L1857.8,644.0 L1858.7,783.8 L1859.5,679.4 L1860.4,708.1 L1861.2,652.1 L1862.1,701.1 L1863.0,729.7 L1863.8,657.4 L1864.7,785.9 L1865.5,746.3 L1866.4,731.8 L1867.3,681.1 L1868.1,759.7 L1869.0,802.2 L1869.8,681.1 L1870.7,684.5 L1871.6,746.6 L1872.4,768.3 L1873.3,730.4 L1874.1,669.7 L1875.0,723.9 L1875.9,685.8 L1876.7,712.7 L1877.6,762.0 L1878.4,745.7 L1879.3,780.7 L1880.2,682.9 L1881.0,693.0 L1881.9,723.0 L1882.7,674.3 L1883.6,697.8 L1884.5,675.3 L1885.3,780.3 L1886.2,680.2 L1887.0,745.7 L1887.9,817.6 L1888.8,771.3 L1889.6,752.7 L1890.5,744.8 L1891.3,679.0 L1892.2,744.6 L1893.1,776.2 L1893.9,801.4 L1894.8,798.2 L1895.6,802.3 L1896.5,785.4 L1897.4,737.5 L1898.2,836.1 L1899.1,775.4 L1899.9,824.0 L1900.8,808.4 L1901.6,825.5 L1902.5,823.8 L1903.4,827.2 L1904.2,840.1 L1905.1,826.9 L1905.9,851.5 L1906.8,846.5 L1907.7,844.8 L1908.5,847.5 L1909.4,825.0 L1910.2,843.4 L1911.1,842.1 L1912.0,841.5 L1912.8,838.8 L1913.7,831.9 L1914.5,836.5 L1915.4,825.5 L1916.3,831.4 L1917.1,833.4 L1918.0,822.0 L1918.8,820.7 L1919.7,842.3 L1920.6,825.6 L1921.4,823.6 L1922.3,834.4 L1923.1,825.9 L1924.0,838.8 L1924.9,833.9 L1925.7,832.4 L1926.6,844.0 L1927.4,836.8 L1928.3,829.5 L1929.2,830.0 L1930.0,851.5 L1930.9,854.7 L1931.7,854.6 L1932.6,854.4 L1933.5,863.6 L1934.3,853.0 L1935.2,847.9 L1936.0,845.4 L1937.2,861.1 L1940.4,1379.1 L1946.0,1014.1" stroke="#b447ff" stroke-width="4.4"/>
<path d="M264.4,395.7 L265.3,491.3 L266.1,415.9 L267.0,417.3 L267.8,404.6 L268.7,390.7 L269.6,416.6 L270.4,388.0 L271.3,414.7 L272.1,407.2 L273.0,410.0 L273.9,407.6 L274.7,410.0 L275.6,393.1 L276.4,401.8 L277.3,409.3 L278.2,394.5 L279.0,411.7 L279.9,389.4 L280.7,400.2 L281.6,393.8 L282.5,391.2 L283.3,415.6 L284.2,400.5 L285.0,404.7 L285.9,391.9 L286.8,415.3 L287.6,407.0 L288.5,404.0 L289.3,398.1 L290.2,407.8 L291.1,410.6 L291.9,405.6 L292.8,412.2 L293.6,390.7 L294.5,404.8 L295.4,386.6 L296.2,389.9 L297.1,386.5 L297.9,414.2 L298.8,404.5 L299.7,393.1 L300.5,419.1 L301.4,397.3 L302.2,408.5 L303.1,406.5 L304.0,396.2 L304.8,420.3 L305.7,407.5 L306.5,397.9 L307.4,412.0 L308.3,395.5 L309.1,412.0 L310.0,416.9 L310.8,416.5 L311.7,417.4 L312.6,398.8 L313.4,435.8 L314.3,415.5 L315.1,411.4 L316.0,412.7 L316.9,425.4 L317.7,430.1 L318.6,434.6 L319.4,417.1 L320.3,437.4 L321.2,420.3 L322.0,437.7 L322.9,426.6 L323.7,418.6 L324.6,404.1 L325.5,416.7 L326.3,437.9 L327.2,431.7 L328.0,438.9 L328.9,409.0 L329.8,410.5 L330.6,416.3 L331.5,417.6 L332.3,413.4 L333.2,424.9 L334.1,405.2 L334.9,439.6 L335.8,433.8 L336.6,429.0 L337.5,398.2 L338.4,431.5 L339.2,437.0 L340.1,411.8 L340.9,438.6 L341.8,410.4 L342.7,424.5 L343.5,389.6 L344.4,442.0 L345.2,436.0 L346.1,396.8 L347.0,396.6 L347.8,425.6 L348.7,409.1 L349.5,426.8 L350.4,427.5 L351.2,442.8 L352.1,426.9 L353.0,405.4 L353.8,432.9 L354.7,446.3 L355.5,401.9 L356.4,410.9 L357.3,416.2 L358.1,404.0 L359.0,413.5 L359.8,400.8 L360.7,408.3 L361.6,436.9 L362.4,420.4 L363.3,423.8 L364.1,433.4 L365.0,424.9 L365.9,419.4 L366.7,432.7 L367.6,398.8 L368.4,451.2 L369.3,415.3 L370.2,413.7 L371.0,405.8 L371.9,423.5 L372.7,447.2 L373.6,446.4 L374.5,410.0 L375.3,428.6 L376.2,444.3 L377.0,409.7 L377.9,416.1 L378.8,400.2 L379.6,441.4 L380.5,412.4 L381.3,425.3 L382.2,415.4 L383.1,416.7 L383.9,407.8 L384.8,409.8 L385.6,412.6 L386.5,435.8 L387.4,421.9 L388.2,413.3 L389.1,415.4 L389.9,424.8 L390.8,409.0 L391.7,418.2 L392.5,401.9 L393.4,417.2 L394.2,428.5 L395.1,428.9 L396.0,424.3 L396.8,423.0 L397.7,421.8 L398.5,413.7 L399.4,416.9 L400.3,416.8 L401.1,440.7 L402.0,419.7 L402.8,401.6 L403.7,406.4 L404.6,388.0 L405.4,442.0 L406.3,409.3 L407.1,409.6 L408.0,401.1 L408.9,397.3 L409.7,412.5 L410.6,437.3 L411.4,400.5 L412.3,445.2 L413.2,431.7 L414.0,428.2 L414.9,409.5 L415.7,420.3 L416.6,434.6 L417.5,424.9 L418.3,413.0 L419.2,442.2 L420.0,408.1 L420.9,408.4 L421.8,452.5 L422.6,422.6 L423.5,410.0 L424.3,437.6 L425.2,417.3 L426.1,441.1 L426.9,437.4 L427.8,426.8 L428.6,426.0 L429.5,442.8 L430.4,458.8 L431.2,436.1 L432.1,418.7 L432.9,429.8 L433.8,470.9 L434.7,450.5 L435.5,417.3 L436.4,472.8 L437.2,450.5 L438.1,465.2 L439.0,458.0 L439.8,457.4 L440.7,440.7 L441.5,448.4 L442.4,459.9 L443.3,432.3 L444.1,453.1 L445.0,444.9 L445.8,453.3 L446.7,453.2 L447.6,433.6 L448.4,453.5 L449.3,464.2 L450.1,438.4 L451.0,455.0 L451.9,428.7 L452.7,465.4 L453.6,440.6 L454.4,426.6 L455.3,460.7 L456.2,444.7 L457.0,456.1 L457.9,442.8 L458.7,429.3 L459.6,464.5 L460.5,444.3 L461.3,439.0 L462.2,443.8 L463.0,468.2 L463.9,439.7 L464.8,438.5 L465.6,461.9 L466.5,423.5 L467.3,472.8 L468.2,433.2 L469.1,452.8 L469.9,451.0 L470.8,442.5 L471.6,459.6 L472.5,439.7 L473.4,455.6 L474.2,442.8 L475.1,456.4 L475.9,438.6 L476.8,453.3 L477.7,456.0 L478.5,454.8 L479.4,470.8 L480.2,445.5 L481.1,453.0 L482.0,448.1 L482.8,482.0 L483.7,447.6 L484.5,454.1 L485.4,451.9 L486.3,454.3 L487.1,446.8 L488.0,465.4 L488.8,461.1 L489.7,453.2 L490.6,468.3 L491.4,451.8 L492.3,472.2 L493.1,477.0 L494.0,460.2 L494.9,472.2 L495.7,464.0 L496.6,460.9 L497.4,442.0 L498.3,488.2 L499.2,450.0 L500.0,456.7 L500.9,471.0 L501.7,487.7 L502.6,469.0 L503.5,446.3 L504.3,468.4 L505.2,453.4 L506.0,442.8 L506.9,464.7 L507.8,477.3 L508.6,450.1 L509.5,469.4 L510.3,460.6 L511.2,476.8 L512.1,472.1 L512.9,457.3 L513.8,473.3 L514.6,483.0 L515.5,469.8 L516.4,454.5 L517.2,458.5 L518.1,474.3 L518.9,451.6 L519.8,468.9 L520.7,464.0 L521.5,471.6 L522.4,474.9 L523.2,447.4 L524.1,465.5 L524.9,444.7 L525.8,449.6 L526.7,463.9 L527.5,460.1 L528.4,445.0 L529.2,485.1 L530.1,455.8 L531.0,476.6 L531.8,465.9 L532.7,479.1 L533.5,453.7 L534.4,469.7 L535.3,450.4 L536.1,475.0 L537.0,440.3 L537.8,486.4 L538.7,449.9 L539.6,459.1 L540.4,464.1 L541.3,455.3 L542.1,449.9 L543.0,484.2 L543.9,461.5 L544.7,453.0 L545.6,468.0 L546.4,463.2 L547.3,473.0 L548.2,469.4 L549.0,464.2 L549.9,463.7 L550.7,452.0 L551.6,432.7 L552.5,488.2 L553.3,477.0 L554.2,480.8 L555.0,487.6 L555.9,438.6 L556.8,459.9 L557.6,444.5 L558.5,449.9 L559.3,438.2 L560.2,460.9 L561.1,471.9 L561.9,472.8 L562.8,491.3 L563.6,468.0 L564.5,472.1 L565.4,458.7 L566.2,456.3 L567.1,464.1 L567.9,460.9 L568.8,450.7 L569.7,450.4 L570.5,481.4 L571.4,444.0 L572.2,475.7 L573.1,489.7 L574.0,445.0 L574.8,494.3 L575.7,473.3 L576.5,495.6 L577.4,480.7 L578.3,470.4 L579.1,490.2 L580.0,464.6 L580.8,481.7 L581.7,468.7 L582.6,488.3 L583.4,478.2 L584.3,459.0 L585.1,476.0 L586.0,490.7 L586.9,493.7 L587.7,472.1 L588.6,502.9 L589.4,466.6 L590.3,503.6 L591.2,492.3 L592.0,488.8 L592.9,497.3 L593.7,490.1 L594.6,502.8 L595.5,485.9 L596.3,481.2 L597.2,499.7 L598.0,505.1 L598.9,478.0 L599.8,472.8 L600.6,492.5 L601.5,482.5 L602.3,486.9 L603.2,482.6 L604.1,482.1 L604.9,503.0 L605.8,478.7 L606.6,501.6 L607.5,484.8 L608.4,484.6 L609.2,493.5 L610.1,486.8 L610.9,474.1 L611.8,493.2 L612.7,509.7 L613.5,502.9 L614.4,490.1 L615.2,494.5 L616.1,479.4 L617.0,472.1 L617.8,488.7 L618.7,493.8 L619.5,484.1 L620.4,472.8 L621.3,519.0 L622.1,483.3 L623.0,495.5 L623.8,482.1 L624.7,500.7 L625.6,477.5 L626.4,491.3 L627.3,486.6 L628.1,484.7 L629.0,491.3 L629.9,518.1 L630.7,463.4 L631.6,481.1 L632.4,480.8 L633.3,470.2 L634.2,460.2 L635.0,498.0 L635.9,458.6 L636.7,462.2 L637.6,457.0 L638.5,491.0 L639.3,458.8 L640.2,454.3 L641.0,525.2 L641.9,510.3 L642.8,486.8 L643.6,516.3 L644.5,503.5 L645.3,497.5 L646.2,467.4 L647.1,514.9 L647.9,489.7 L648.8,518.9 L649.6,479.2 L650.5,495.6 L651.4,511.8 L652.2,474.9 L653.1,505.3 L653.9,521.1 L654.8,511.8 L655.7,505.8 L656.5,511.2 L657.4,504.3 L658.2,478.6 L659.1,531.0 L660.0,472.8 L660.8,531.3 L661.7,501.0 L662.5,495.3 L663.4,481.0 L664.3,490.6 L665.1,526.2 L666.0,506.6 L666.8,508.5 L667.7,495.6 L668.6,480.5 L669.4,517.5 L670.3,493.5 L671.1,494.3 L672.0,507.3 L672.9,518.5 L673.7,509.6 L674.6,496.3 L675.4,491.4 L676.3,497.0 L677.2,495.8 L678.0,481.8 L678.9,482.0 L679.7,512.8 L680.6,500.5 L681.5,495.3 L682.3,491.5 L683.2,516.8 L684.0,498.0 L684.9,520.3 L685.8,514.8 L686.6,502.0 L687.5,495.5 L688.3,517.8 L689.2,512.9 L690.1,521.7 L690.9,510.1 L691.8,520.5 L692.6,523.0 L693.5,521.1 L694.3,505.8 L695.2,507.1 L696.1,516.7 L696.9,509.7 L697.8,543.6 L698.6,523.7 L699.5,507.9 L700.4,529.8 L701.2,536.0 L702.1,540.7 L702.9,542.0 L703.8,526.5 L704.7,516.1 L705.5,503.5 L706.4,541.1 L707.2,519.5 L708.1,530.3 L709.0,525.8 L709.8,523.0 L710.7,518.2 L711.5,525.4 L712.4,545.2 L713.3,512.3 L714.1,497.4 L715.0,549.8 L715.8,506.1 L716.7,507.5 L717.6,501.3 L718.4,544.3 L719.3,524.0 L720.1,529.6 L721.0,505.9 L721.9,514.9 L722.7,511.2 L723.6,518.9 L724.4,524.2 L725.3,530.3 L726.2,518.3 L727.0,517.1 L727.9,545.7 L728.7,541.5 L729.6,531.5 L730.5,523.6 L731.3,537.2 L732.2,530.6 L733.0,528.2 L733.9,536.6 L734.8,558.4 L735.6,546.2 L736.5,547.9 L737.3,522.1 L738.2,571.4 L739.1,533.7 L739.9,558.2 L740.8,520.7 L741.6,552.5 L742.5,529.5 L743.4,521.9 L744.2,532.8 L745.1,528.2 L745.9,545.7 L746.8,515.6 L747.7,523.1 L748.5,522.6 L749.4,545.3 L750.2,539.7 L751.1,516.0 L752.0,541.3 L752.8,525.5 L753.7,548.2 L754.5,507.0 L755.4,546.0 L756.3,517.4 L757.1,568.7 L758.0,511.9 L758.8,534.0 L759.7,519.7 L760.6,500.5 L761.4,568.3 L762.3,532.2 L763.1,556.4 L764.0,539.7 L764.9,574.0 L765.7,559.3 L766.6,518.1 L767.4,532.4 L768.3,534.3 L769.2,536.3 L770.0,524.4 L770.9,527.4 L771.7,532.6 L772.6,565.4 L773.5,579.9 L774.3,540.1 L775.2,565.7 L776.0,535.9 L776.9,550.5 L777.8,526.4 L778.6,557.6 L779.5,529.0 L780.3,539.4 L781.2,553.1 L782.1,528.6 L782.9,525.2 L783.8,596.0 L784.6,570.4 L785.5,525.2 L786.4,561.8 L787.2,529.3 L788.1,541.8 L788.9,587.9 L789.8,561.2 L790.7,559.4 L791.5,554.4 L792.4,543.7 L793.2,548.5 L794.1,542.1 L795.0,577.7 L795.8,563.1 L796.7,541.0 L797.5,550.2 L798.4,553.4 L799.3,537.0 L800.1,534.9 L801.0,539.2 L801.8,544.1 L802.7,569.6 L803.6,525.2 L804.4,596.0 L805.3,584.4 L806.1,560.4 L807.0,595.8 L807.9,590.0 L808.7,564.5 L809.6,596.8 L810.4,578.8 L811.3,595.8 L812.2,576.8 L813.0,541.5 L813.9,589.6 L814.7,526.9 L815.6,573.8 L816.5,545.7 L817.3,527.3 L818.2,527.4 L819.0,543.5 L819.9,601.1 L820.8,546.3 L821.6,535.3 L822.5,554.6 L823.3,528.2 L824.2,602.2 L825.1,552.8 L825.9,583.2 L826.8,549.4 L827.6,581.2 L828.5,580.3 L829.4,586.0 L830.2,569.9 L831.1,590.1 L831.9,612.3 L832.8,610.3 L833.7,570.0 L834.5,616.6 L835.4,617.7 L836.2,596.0 L837.1,606.8 L838.0,584.6 L838.8,594.7 L839.7,580.0 L840.5,589.0 L841.4,598.3 L842.3,603.4 L843.1,589.5 L844.0,570.6 L844.8,549.8 L845.7,629.9 L846.6,613.5 L847.4,587.7 L848.3,615.1 L849.1,581.5 L850.0,596.3 L850.9,610.2 L851.7,556.7 L852.6,573.9 L853.4,564.3 L854.3,621.2 L855.2,621.7 L856.0,575.0 L856.9,579.3 L857.7,584.1 L858.6,618.9 L859.5,611.8 L860.3,546.7 L861.2,617.6 L862.0,570.6 L862.9,585.7 L863.8,577.1 L864.6,605.7 L865.5,559.4 L866.3,563.8 L867.2,583.4 L868.0,592.8 L868.9,556.6 L869.8,572.7 L870.6,578.4 L871.5,580.6 L872.3,594.4 L873.2,580.1 L874.1,597.4 L874.9,598.3 L875.8,594.1 L876.6,601.7 L877.5,603.0 L878.4,573.1 L879.2,621.0 L880.1,613.2 L880.9,587.1 L881.8,571.4 L882.7,636.1 L883.5,593.9 L884.4,637.4 L885.2,587.9 L886.1,571.3 L887.0,605.9 L887.8,639.3 L888.7,574.8 L889.5,605.2 L890.4,569.0 L891.3,616.7 L892.1,587.3 L893.0,622.7 L893.8,584.4 L894.7,591.0 L895.6,615.1 L896.4,595.1 L897.3,614.2 L898.1,632.9 L899.0,612.0 L899.9,641.6 L900.7,613.3 L901.6,642.7 L902.4,585.4 L903.3,599.1 L904.2,643.1 L905.0,562.1 L905.9,648.4 L906.7,593.7 L907.6,588.2 L908.5,651.6 L909.3,599.8 L910.2,568.7 L911.0,572.4 L911.9,620.2 L912.8,622.6 L913.6,590.0 L914.5,569.1 L915.3,615.1 L916.2,570.3 L917.1,599.3 L917.9,578.8 L918.8,607.0 L919.6,623.4 L920.5,617.8 L921.4,633.2 L922.2,574.5 L923.1,663.8 L923.9,624.7 L924.8,658.2 L925.7,662.1 L926.5,582.3 L927.4,583.7 L928.2,586.3 L929.1,617.0 L930.0,624.3 L930.8,633.4 L931.7,654.8 L932.5,604.7 L933.4,607.5 L934.3,637.5 L935.1,649.5 L936.0,635.7 L936.8,641.0 L937.7,620.8 L938.6,617.9 L939.4,632.7 L940.3,632.6 L941.1,607.0 L942.0,608.3 L942.9,666.9 L943.7,654.7 L944.6,615.8 L945.4,656.8 L946.3,614.2 L947.2,649.9 L948.0,629.5 L948.9,630.7 L949.7,637.5 L950.6,677.5 L951.5,624.1 L952.3,662.3 L953.2,667.2 L954.0,664.0 L954.9,674.6 L955.8,626.8 L956.6,728.5 L957.5,686.3 L958.3,677.5 L959.2,655.9 L960.1,660.8 L960.9,734.9 L961.8,706.2 L962.6,687.3 L963.5,690.4 L964.4,691.2 L965.2,683.2 L966.1,681.0 L966.9,670.8 L967.8,663.8 L968.7,743.9 L969.5,662.2 L970.4,683.4 L971.2,678.9 L972.1,723.9 L973.0,676.8 L973.8,729.3 L974.7,700.8 L975.5,736.2 L976.4,698.9 L977.3,701.2 L978.1,714.6 L979.0,651.4 L979.8,706.7 L980.7,711.2 L981.6,718.2 L982.4,647.5 L983.3,722.2 L984.1,712.5 L985.0,658.9 L985.9,685.6 L986.7,681.3 L987.6,641.6 L988.4,701.9 L989.3,639.2 L990.2,768.6 L991.0,697.1 L991.9,682.9 L992.7,722.3 L993.6,650.9 L994.5,701.8 L995.3,656.0 L996.2,692.4 L997.0,680.0 L997.9,679.2 L998.8,735.2 L999.6,744.9 L1000.5,766.6 L1001.3,724.5 L1002.2,776.7 L1003.1,752.2 L1003.9,748.7 L1004.8,684.4 L1005.6,740.4 L1006.5,726.8 L1007.4,736.1 L1008.2,694.6 L1009.1,780.9 L1009.9,694.6 L1010.8,764.2 L1011.7,727.9 L1012.5,772.5 L1013.4,743.7 L1014.2,740.4 L1015.1,798.2 L1016.0,757.0 L1016.8,714.5 L1017.7,703.6 L1018.5,706.8 L1019.4,758.9 L1020.3,740.5 L1021.1,788.4 L1022.0,778.7 L1022.8,817.5 L1023.7,799.7 L1024.6,792.9 L1025.4,795.6 L1026.3,694.6 L1027.1,827.1 L1028.0,698.2 L1028.9,832.9 L1029.7,790.4 L1030.6,705.0 L1031.4,793.4 L1032.3,827.5 L1033.2,739.3 L1034.0,817.9 L1034.9,745.2 L1035.7,851.3 L1036.6,850.9 L1037.5,800.5 L1038.3,757.9 L1039.2,730.4 L1040.0,815.0 L1040.9,838.0 L1041.7,791.0 L1042.6,844.9 L1043.5,776.8 L1044.3,754.0 L1045.2,743.9 L1046.0,876.4 L1046.9,752.4 L1047.8,845.3 L1048.6,828.4 L1049.5,800.4 L1050.3,756.4 L1051.2,813.6 L1052.1,820.3 L1052.9,831.1 L1053.8,782.7 L1054.6,786.1 L1055.5,832.2 L1056.4,814.9 L1057.2,772.9 L1058.1,809.0 L1058.9,793.0 L1059.8,854.2 L1060.7,780.9 L1061.5,882.6 L1062.4,817.4 L1063.2,845.5 L1064.1,822.2 L1065.0,815.9 L1065.8,852.9 L1066.7,794.2 L1067.5,854.3 L1068.4,809.5 L1069.3,829.8 L1070.1,767.7 L1071.0,820.9 L1071.8,815.3 L1072.7,842.4 L1073.6,763.0 L1074.4,849.8 L1075.3,813.6 L1076.1,817.4 L1077.0,830.3 L1077.9,791.3 L1078.7,842.2 L1079.6,816.9 L1080.4,880.1 L1081.3,768.8 L1082.2,863.4 L1083.0,840.8 L1083.9,748.8 L1084.7,833.8 L1085.6,747.0 L1086.5,879.5 L1087.3,817.0 L1088.2,802.2 L1089.0,802.6 L1089.9,778.6 L1090.8,864.6 L1091.6,769.3 L1092.5,830.4 L1093.3,871.2 L1094.2,799.5 L1095.1,791.0 L1095.9,786.1 L1096.8,858.5 L1097.6,879.5 L1098.5,829.8 L1099.4,871.2 L1100.2,771.7 L1101.1,879.5 L1101.9,825.2 L1102.8,874.9 L1103.7,853.2 L1104.5,834.0 L1105.4,852.2 L1106.2,831.9 L1107.1,792.8 L1108.0,846.1 L1108.8,876.2 L1109.7,835.2 L1110.5,821.5 L1111.4,871.8 L1112.3,808.4 L1113.1,861.5 L1114.0,813.3 L1114.8,861.4 L1115.7,845.6 L1116.6,842.4 L1117.4,842.2 L1118.3,805.6 L1119.1,836.3 L1120.0,801.0 L1120.9,815.9 L1121.7,826.6 L1122.6,851.5 L1123.4,840.6 L1124.3,869.7 L1125.2,823.6 L1126.0,834.9 L1126.9,802.1 L1127.7,779.1 L1128.6,826.4 L1129.5,814.1 L1130.3,826.2 L1131.2,866.9 L1132.0,838.7 L1132.9,841.5 L1133.8,838.9 L1134.6,792.2 L1135.5,822.8 L1136.3,845.7 L1137.2,845.3 L1138.1,836.7 L1138.9,823.9 L1139.8,836.7 L1140.6,803.7 L1141.5,810.2 L1142.4,819.5 L1143.2,808.4 L1144.1,829.5 L1144.9,827.9 L1145.8,805.4 L1146.7,814.0 L1147.5,836.4 L1148.4,802.4 L1149.2,831.0 L1150.1,837.4 L1151.0,881.2 L1151.8,835.5 L1152.7,919.3 L1153.5,895.9 L1154.4,861.8 L1155.3,880.3 L1156.1,836.8 L1157.0,843.5 L1157.8,822.3 L1158.7,840.1 L1159.6,789.6 L1160.4,816.7 L1161.3,857.0 L1162.1,823.6 L1163.0,867.4 L1163.9,873.1 L1164.7,783.8 L1165.6,885.4 L1166.4,806.8 L1167.3,835.2 L1168.2,791.5 L1169.0,879.4 L1169.9,802.4 L1170.7,864.9 L1171.6,833.2 L1172.5,866.0 L1173.3,866.9 L1174.2,920.5 L1175.0,827.7 L1175.9,840.0 L1176.8,811.5 L1177.6,875.0 L1178.5,807.6 L1179.3,912.5 L1180.2,942.4 L1181.1,857.2 L1181.9,903.4 L1182.8,833.9 L1183.6,809.8 L1184.5,834.8 L1185.4,842.6 L1186.2,858.9 L1187.1,822.5 L1187.9,865.5 L1188.8,800.3 L1189.7,833.8 L1190.5,774.5 L1191.4,799.3 L1192.2,885.4 L1193.1,783.3 L1194.0,815.4 L1194.8,840.9 L1195.7,794.9 L1196.5,812.3 L1197.4,835.4 L1198.3,873.9 L1199.1,862.7 L1200.0,829.7 L1200.8,863.9 L1201.7,834.4 L1202.6,879.3 L1203.4,854.2 L1204.3,832.5 L1205.1,837.5 L1206.0,838.2 L1206.9,889.5 L1207.7,842.3 L1208.6,900.8 L1209.4,889.8 L1210.3,873.8 L1211.1,864.5 L1212.0,874.5 L1212.9,862.4 L1213.7,907.5 L1214.6,872.4 L1215.4,869.1 L1216.3,835.5 L1217.2,834.8 L1218.0,894.3 L1218.9,846.0 L1219.7,911.8 L1220.6,875.5 L1221.5,831.4 L1222.3,858.6 L1223.2,830.0 L1224.0,844.4 L1224.9,826.9 L1225.8,825.4 L1226.6,835.2 L1227.5,901.1 L1228.3,885.6 L1229.2,856.2 L1230.1,890.4 L1230.9,927.0 L1231.8,898.2 L1232.6,863.0 L1233.5,873.5 L1234.4,823.2 L1235.2,859.0 L1236.1,806.4 L1236.9,812.6 L1237.8,837.7 L1238.7,895.6 L1239.5,859.3 L1240.4,851.1 L1241.2,797.0 L1242.1,796.1 L1243.0,901.3 L1243.8,880.9 L1244.7,879.2 L1245.5,906.1 L1246.4,887.9 L1247.3,883.3 L1248.1,925.5 L1249.0,884.7 L1249.8,858.8 L1250.7,895.5 L1251.6,930.8 L1252.4,828.6 L1253.3,869.6 L1254.1,888.6 L1255.0,879.2 L1255.9,878.4 L1256.7,805.3 L1257.6,843.3 L1258.4,856.3 L1259.3,942.4 L1260.2,851.5 L1261.0,884.3 L1261.9,873.0 L1262.7,923.1 L1263.6,838.4 L1264.5,851.8 L1265.3,810.2 L1266.2,886.3 L1267.0,811.3 L1267.9,811.8 L1268.8,847.3 L1269.6,918.4 L1270.5,856.6 L1271.3,814.4 L1272.2,814.6 L1273.1,860.4 L1273.9,872.1 L1274.8,857.2 L1275.6,903.9 L1276.5,883.0 L1277.4,877.9 L1278.2,874.4 L1279.1,872.4 L1279.9,833.0 L1280.8,892.9 L1281.7,899.1 L1282.5,822.9 L1283.4,888.5 L1284.2,854.7 L1285.1,830.2 L1286.0,848.1 L1286.8,859.4 L1287.7,853.6 L1288.5,867.1 L1289.4,901.4 L1290.3,833.5 L1291.1,894.3 L1292.0,903.0 L1292.8,871.2 L1293.7,813.0 L1294.6,890.4 L1295.4,894.2 L1296.3,899.7 L1297.1,904.8 L1298.0,835.5 L1298.9,862.9 L1299.7,846.2 L1300.6,873.6 L1301.4,867.4 L1302.3,882.8 L1303.2,887.4 L1304.0,841.6 L1304.9,856.0 L1305.7,914.9 L1306.6,890.6 L1307.5,893.1 L1308.3,868.6 L1309.2,916.2 L1310.0,817.0 L1310.9,855.3 L1311.8,841.8 L1312.6,877.6 L1313.5,847.2 L1314.3,815.4 L1315.2,838.3 L1316.1,815.6 L1316.9,832.5 L1317.8,862.0 L1318.6,820.0 L1319.5,889.1 L1320.4,816.1 L1321.2,895.9 L1322.1,863.2 L1322.9,910.9 L1323.8,860.9 L1324.7,839.7 L1325.5,846.0 L1326.4,869.1 L1327.2,868.9 L1328.1,882.2 L1329.0,856.0 L1329.8,821.7 L1330.7,857.2 L1331.5,861.3 L1332.4,848.0 L1333.3,855.7 L1334.1,845.4 L1335.0,933.2 L1335.8,825.2 L1336.7,937.4 L1337.6,937.8 L1338.4,856.3 L1339.3,853.6 L1340.1,827.8 L1341.0,829.8 L1341.9,855.9 L1342.7,920.6 L1343.6,889.7 L1344.4,863.0 L1345.3,895.6 L1346.2,831.5 L1347.0,870.3 L1347.9,844.2 L1348.7,844.7 L1349.6,918.1 L1350.5,844.3 L1351.3,861.1 L1352.2,845.9 L1353.0,925.5 L1353.9,858.1 L1354.8,847.4 L1355.6,894.2 L1356.5,867.1 L1357.3,927.6 L1358.2,883.5 L1359.1,863.1 L1359.9,863.7 L1360.8,828.3 L1361.6,870.2 L1362.5,837.3 L1363.4,829.2 L1364.2,822.0 L1365.1,821.5 L1365.9,862.1 L1366.8,820.7 L1367.7,822.2 L1368.5,905.9 L1369.4,856.5 L1370.2,886.0 L1371.1,918.3 L1372.0,934.3 L1372.8,905.7 L1373.7,884.1 L1374.5,902.3 L1375.4,915.9 L1376.3,922.8 L1377.1,924.8 L1378.0,890.4 L1378.8,896.7 L1379.7,897.8 L1380.6,874.7 L1381.4,866.6 L1382.3,927.9 L1383.1,854.6 L1384.0,877.8 L1384.8,901.6 L1385.7,848.5 L1386.6,839.2 L1387.4,940.9 L1388.3,902.6 L1389.1,898.0 L1390.0,884.9 L1390.9,879.5 L1391.7,900.8 L1392.6,888.2 L1393.4,879.6 L1394.3,889.1 L1395.2,858.7 L1396.0,836.1 L1396.9,880.0 L1397.7,878.6 L1398.6,900.6 L1399.5,889.2 L1400.3,830.0 L1401.2,915.8 L1402.0,891.7 L1402.9,855.8 L1403.8,873.0 L1404.6,842.6 L1405.5,878.9 L1406.3,900.8 L1407.2,866.3 L1408.1,903.9 L1408.9,888.8 L1409.8,845.8 L1410.6,834.8 L1411.5,867.2 L1412.4,866.2 L1413.2,853.2 L1414.1,875.0 L1414.9,880.5 L1415.8,859.6 L1416.7,882.8 L1417.5,863.3 L1418.4,884.0 L1419.2,861.4 L1420.1,896.9 L1421.0,885.3 L1421.8,882.0 L1422.7,921.8 L1423.5,882.1 L1424.4,846.1 L1425.3,894.5 L1426.1,888.7 L1427.0,897.8 L1427.8,900.8 L1428.7,941.2 L1429.6,910.8 L1430.4,926.1 L1431.3,869.4 L1432.1,864.2 L1433.0,845.4 L1433.9,948.6 L1434.7,919.8 L1435.6,859.2 L1436.4,843.9 L1437.3,880.1 L1438.2,895.5 L1439.0,939.7 L1439.9,892.6 L1440.7,875.5 L1441.6,909.4 L1442.5,903.8 L1443.3,933.7 L1444.2,865.2 L1445.0,877.6 L1445.9,872.8 L1446.8,870.2 L1447.6,897.2 L1448.5,918.2 L1449.3,894.7 L1450.2,888.9 L1451.1,922.4 L1451.9,855.3 L1452.8,858.2 L1453.6,893.0 L1454.5,904.0 L1455.4,899.0 L1456.2,836.4 L1457.1,907.6 L1457.9,864.9 L1458.8,898.6 L1459.7,901.4 L1460.5,891.6 L1461.4,833.7 L1462.2,868.5 L1463.1,928.8 L1464.0,869.9 L1464.8,853.6 L1465.7,898.5 L1466.5,831.5 L1467.4,921.6 L1468.3,863.2 L1469.1,842.0 L1470.0,918.4 L1470.8,849.2 L1471.7,894.6 L1472.6,890.8 L1473.4,894.9 L1474.3,906.4 L1475.1,888.4 L1476.0,872.9 L1476.9,939.0 L1477.7,905.9 L1478.6,841.3 L1479.4,960.9 L1480.3,905.4 L1481.2,950.6 L1482.0,913.0 L1482.9,954.0 L1483.7,845.4 L1484.6,883.7 L1485.5,879.7 L1486.3,846.2 L1487.2,864.6 L1488.0,885.9 L1488.9,883.5 L1489.8,891.2 L1490.6,920.2 L1491.5,935.6 L1492.3,889.6 L1493.2,914.3 L1494.1,858.3 L1494.9,881.6 L1495.8,906.6 L1496.6,864.4 L1497.5,916.0 L1498.4,863.6 L1499.2,873.8 L1500.1,867.5 L1500.9,916.2 L1501.8,875.1 L1502.7,863.7 L1503.5,863.7 L1504.4,851.9 L1505.2,879.6 L1506.1,865.6 L1507.0,902.0 L1507.8,875.8 L1508.7,880.9 L1509.5,916.2 L1510.4,868.3 L1511.3,867.8 L1512.1,868.6 L1513.0,854.6 L1513.8,883.0 L1514.7,862.3 L1515.6,901.5 L1516.4,854.6 L1517.3,869.0 L1518.1,893.0 L1519.0,864.7 L1519.9,875.3 L1520.7,872.2 L1521.6,895.2 L1522.4,903.6 L1523.3,880.8 L1524.2,877.4 L1525.0,916.2 L1525.9,876.8 L1526.7,872.3 L1527.6,900.8 L1528.5,875.8 L1529.3,912.5 L1530.2,900.9 L1531.0,916.2 L1531.9,893.6 L1532.8,887.1 L1533.6,885.0 L1534.5,906.8 L1535.3,906.6 L1536.2,870.4 L1537.1,883.2 L1537.9,884.4 L1538.8,901.0 L1539.6,854.6 L1540.5,903.9 L1541.4,903.2 L1542.2,908.4 L1543.1,894.7 L1543.9,892.9 L1544.8,888.1 L1545.7,920.6 L1546.5,928.6 L1547.4,908.7 L1548.2,888.6 L1549.1,897.3 L1550.0,898.4 L1550.8,873.1 L1551.7,878.4 L1552.5,909.7 L1553.4,909.7 L1554.2,908.1 L1555.1,929.6 L1556.0,911.2 L1556.8,916.0 L1557.7,927.3 L1558.5,937.8 L1559.4,907.5 L1560.3,880.8 L1561.1,899.9 L1562.0,898.5 L1562.8,939.8 L1563.7,924.4 L1564.6,904.7 L1565.4,887.7 L1566.3,911.9 L1567.1,935.1 L1568.0,907.9 L1568.9,930.2 L1569.7,903.4 L1570.6,918.7 L1571.4,886.1 L1572.3,917.3 L1573.2,898.0 L1574.0,932.4 L1574.9,900.8 L1575.7,923.4 L1576.6,851.5 L1577.5,913.5 L1578.3,947.1 L1579.2,897.2 L1580.0,920.3 L1580.9,867.6 L1581.8,915.9 L1582.6,883.3 L1583.5,897.1 L1584.3,903.0 L1585.2,911.3 L1586.1,878.6 L1586.9,859.5 L1587.8,911.9 L1588.6,861.0 L1589.5,883.4 L1590.4,891.6 L1591.2,918.1 L1592.1,863.9 L1592.9,891.3 L1593.8,862.9 L1594.7,925.5 L1595.5,908.8 L1596.4,879.4 L1597.2,913.2 L1598.1,928.0 L1599.0,950.1 L1599.8,938.7 L1600.7,916.3 L1601.5,857.8 L1602.4,947.9 L1603.3,925.6 L1604.1,856.0 L1605.0,863.2 L1605.8,854.6 L1606.7,947.6 L1607.6,898.3 L1608.4,864.9 L1609.3,857.3 L1610.1,900.3 L1611.0,918.6 L1611.9,913.4 L1612.7,911.3 L1613.6,935.0 L1614.4,890.0 L1615.3,954.8 L1616.2,914.0 L1617.0,928.1 L1617.9,893.4 L1618.7,885.7 L1619.6,909.8 L1620.5,866.9 L1621.3,882.0 L1622.2,915.3 L1623.0,901.9 L1623.9,886.8 L1624.8,927.4 L1625.6,865.8 L1626.5,929.5 L1627.3,905.8 L1628.2,956.3 L1629.1,953.8 L1629.9,933.1 L1630.8,950.4 L1631.6,903.3 L1632.5,853.1 L1633.4,921.1 L1634.2,916.2 L1635.1,870.9 L1635.9,917.6 L1636.8,874.2 L1637.7,936.6 L1638.5,934.7 L1639.4,902.2 L1640.2,915.7 L1641.1,885.1 L1642.0,887.5 L1642.8,924.3 L1643.7,862.2 L1644.5,859.7 L1645.4,860.2 L1646.3,864.9 L1647.1,874.6 L1648.0,877.1 L1648.8,869.7 L1649.7,862.3 L1650.6,883.2 L1651.4,896.7 L1652.3,888.3 L1653.1,910.2 L1654.0,914.8 L1654.9,934.4 L1655.7,871.9 L1656.6,897.1 L1657.4,937.8 L1658.3,928.1 L1659.2,901.2 L1660.0,890.9 L1660.9,871.3 L1661.7,933.2 L1662.6,916.7 L1663.5,857.8 L1664.3,910.8 L1665.2,888.2 L1666.0,907.7 L1666.9,883.4 L1667.8,886.5 L1668.6,900.5 L1669.5,900.8 L1670.3,911.5 L1671.2,910.9 L1672.1,913.3 L1672.9,854.6 L1673.8,922.4 L1674.6,920.8 L1675.5,890.8 L1676.4,891.5 L1677.2,918.9 L1678.1,886.9 L1678.9,892.1 L1679.8,916.1 L1680.7,906.2 L1681.5,915.6 L1682.4,878.7 L1683.2,891.2 L1684.1,889.4 L1685.0,859.2 L1685.8,913.2 L1686.7,865.3 L1687.5,928.4 L1688.4,912.4 L1689.3,920.3 L1690.1,912.6 L1691.0,879.3 L1691.8,977.3 L1692.7,926.7 L1693.6,973.4 L1694.4,1038.9 L1695.3,909.5 L1696.1,1044.9 L1697.0,1001.6 L1697.9,946.2 L1698.7,986.6 L1699.6,958.6 L1700.4,916.2 L1701.3,1108.4 L1702.2,1112.9 L1703.0,999.3 L1703.9,1057.7 L1704.7,979.6 L1705.6,969.0 L1706.5,938.9 L1707.3,939.7 L1708.2,871.6 L1709.0,1038.9 L1709.9,1018.4 L1710.8,885.7 L1711.6,961.8 L1712.5,928.4 L1713.3,1015.3 L1714.2,919.7 L1715.1,943.6 L1715.9,1051.3 L1716.8,916.2 L1717.6,987.4 L1718.5,984.6 L1719.4,989.5 L1720.2,981.1 L1721.1,1030.8 L1721.9,1071.5 L1722.8,986.4 L1723.7,967.3 L1724.5,947.1 L1725.4,946.7 L1726.2,1055.8 L1727.1,1029.6 L1727.9,989.8 L1728.8,1092.9 L1729.7,1076.9 L1730.5,1020.4 L1731.4,1014.0 L1732.2,974.0 L1733.1,991.3 L1734.0,940.9 L1734.8,1005.0 L1735.7,1000.5 L1736.5,942.3 L1737.4,1069.7 L1738.3,1000.6 L1739.1,965.0 L1740.0,979.5 L1740.8,971.2 L1741.7,945.3 L1742.6,1002.1 L1743.4,922.4 L1744.3,1088.7 L1745.1,1090.9 L1746.0,1024.5 L1746.9,1094.4 L1747.7,977.5 L1748.6,973.3 L1749.4,1089.4 L1750.3,1002.4 L1751.2,1023.6 L1752.0,1058.0 L1752.9,890.1 L1753.7,958.5 L1754.6,919.4 L1755.5,1079.0 L1756.3,914.5 L1757.2,929.8 L1758.0,1026.6 L1758.9,1004.2 L1759.8,1046.2 L1760.6,1012.4 L1761.5,910.1 L1762.3,925.9 L1763.2,937.4 L1764.1,967.1 L1764.9,905.8 L1765.8,975.4 L1766.6,934.0 L1767.5,959.9 L1768.4,1023.5 L1769.2,899.3 L1770.1,960.3 L1770.9,972.5 L1771.8,928.5 L1772.7,881.7 L1773.5,971.7 L1774.4,934.3 L1775.2,1014.9 L1776.1,984.5 L1777.0,859.2 L1777.8,951.1 L1778.7,977.3 L1779.5,968.5 L1780.4,924.2 L1781.3,987.5 L1782.1,1048.9 L1783.0,921.9 L1783.8,903.9 L1784.7,1051.3 L1785.6,1007.4 L1786.4,953.8 L1787.3,989.1 L1788.1,1002.9 L1789.0,939.3 L1789.9,983.0 L1790.7,898.7 L1791.6,941.6 L1792.4,1012.8 L1793.3,972.4 L1794.2,896.2 L1795.0,946.8 L1795.9,1023.5 L1796.7,910.4 L1797.6,915.2 L1798.5,939.5 L1799.3,1041.3 L1800.2,986.2 L1801.0,934.3 L1801.9,941.6 L1802.8,999.5 L1803.6,1067.6 L1804.5,1005.1 L1805.3,956.3 L1806.2,1029.9 L1807.1,985.3 L1807.9,978.9 L1808.8,1095.9 L1809.6,1032.0 L1810.5,1092.7 L1811.4,1040.8 L1812.2,978.9 L1813.1,943.6 L1813.9,1056.0 L1814.8,1005.1 L1815.7,939.4 L1816.5,1065.5 L1817.4,1061.5 L1818.2,992.7 L1819.1,996.0 L1820.0,1058.3 L1820.8,1009.1 L1821.7,944.4 L1822.5,993.4 L1823.4,1069.7 L1824.3,984.7 L1825.1,1054.5 L1826.0,973.6 L1826.8,1012.0 L1827.7,964.8 L1828.6,993.8 L1829.4,913.2 L1830.3,1046.6 L1831.1,988.2 L1832.0,1073.9 L1832.9,1066.3 L1833.7,919.3 L1834.6,957.9 L1835.4,921.9 L1836.3,923.2 L1837.2,1068.5 L1838.0,1149.9 L1838.9,1145.4 L1839.7,1133.6 L1840.6,1093.9 L1841.5,1007.8 L1842.3,932.2 L1843.2,1031.3 L1844.0,1041.5 L1844.9,936.3 L1845.8,1009.5 L1846.6,943.4 L1847.5,1082.5 L1848.3,1079.0 L1849.2,995.1 L1850.1,1062.1 L1850.9,1036.6 L1851.8,1016.4 L1852.6,1050.4 L1853.5,1029.5 L1854.4,977.9 L1855.2,1034.1 L1856.1,1018.3 L1856.9,1071.2 L1857.8,1030.1 L1858.7,1029.6 L1859.5,981.9 L1860.4,1079.0 L1861.2,953.6 L1862.1,956.6 L1863.0,987.8 L1863.8,923.4 L1864.7,916.2 L1865.5,962.6 L1866.4,1062.3 L1867.3,1071.8 L1868.1,973.8 L1869.0,936.1 L1869.8,1008.1 L1870.7,963.8 L1871.6,1001.0 L1872.4,1066.7 L1873.3,948.6 L1874.1,953.6 L1875.0,963.1 L1875.9,931.7 L1876.7,1031.2 L1877.6,955.6 L1878.4,877.6 L1879.3,886.9 L1880.2,785.3 L1881.0,832.2 L1881.9,1008.1 L1882.7,956.1 L1883.6,944.5 L1884.5,947.1 L1885.3,980.5 L1886.2,1001.5 L1887.0,1009.3 L1887.9,977.9 L1888.8,1015.4 L1889.6,988.1 L1890.5,1009.2 L1891.3,974.9 L1892.2,1007.4 L1893.1,1007.6 L1893.9,989.6 L1894.8,1063.6 L1895.6,1010.0 L1896.5,1101.9 L1897.4,1117.2 L1898.2,1083.4 L1899.1,908.5 L1899.9,1163.2 L1900.8,1124.6 L1901.6,1163.6 L1902.5,1185.9 L1903.4,1228.4 L1904.2,1058.0 L1905.1,1154.9 L1905.9,1163.0 L1906.8,971.7 L1907.7,1044.7 L1908.5,1100.6 L1909.4,1110.5 L1910.2,1029.4 L1911.1,1071.0 L1912.0,964.7 L1912.8,1146.8 L1913.7,1039.9 L1914.5,940.9" stroke="#edb120" stroke-width="4.6"/>
<path d="M264.5,367.2 L1912.7,1121.2" stroke="#ff0000" stroke-width="9.5" stroke-linecap="butt"/>
</g>
<text class="tk" transform="translate(263.7,1487.3) scale(1.0,1)" font-size="54" text-anchor="middle">0</text>
<text class="tk" transform="translate(435.7,1487.3) scale(1.0,1)" font-size="54" text-anchor="middle">200</text>
<text class="tk" transform="translate(607.6,1487.3) scale(1.0,1)" font-size="54" text-anchor="middle">400</text>
<text class="tk" transform="translate(779.6,1487.3) scale(1.0,1)" font-size="54" text-anchor="middle">600</text>
<text class="tk" transform="translate(951.5,1487.3) scale(1.0,1)" font-size="54" text-anchor="middle">800</text>
<text class="tk" transform="translate(1123.5,1487.3) scale(1.0,1)" font-size="54" text-anchor="middle">1000</text>
<text class="tk" transform="translate(1295.5,1487.3) scale(1.0,1)" font-size="54" text-anchor="middle">1200</text>
<text class="tk" transform="translate(1467.4,1487.3) scale(1.0,1)" font-size="54" text-anchor="middle">1400</text>
<text class="tk" transform="translate(1639.4,1487.3) scale(1.0,1)" font-size="54" text-anchor="middle">1600</text>
<text class="tk" transform="translate(1811.3,1487.3) scale(1.0,1)" font-size="54" text-anchor="middle">1800</text>
<text class="tk" style="fill:#6a6a6a" transform="translate(135.8,1293.8) scale(1.33,1.15)" font-size="54" text-anchor="end">−</text>
<text class="tk" transform="translate(205.0,1286.2) scale(1.04,1)" font-size="54" text-anchor="end">0.2</text>
<text class="tk" transform="translate(205.0,1135.4) scale(1.04,1)" font-size="54" text-anchor="end">0</text>
<text class="tk" transform="translate(205.0,984.6) scale(1.04,1)" font-size="54" text-anchor="end">0.2</text>
<text class="tk" transform="translate(205.0,833.8) scale(1.04,1)" font-size="54" text-anchor="end">0.4</text>
<text class="tk" transform="translate(205.0,683.0) scale(1.04,1)" font-size="54" text-anchor="end">0.6</text>
<text class="tk" transform="translate(205.0,532.2) scale(1.04,1)" font-size="54" text-anchor="end">0.8</text>
<text class="tk" transform="translate(205.0,381.4) scale(1.04,1)" font-size="54" text-anchor="end">1</text>
<text class="tk" transform="translate(205.0,230.6) scale(1.04,1)" font-size="54" text-anchor="end">1.2</text>
<text class="tk" transform="translate(205.0,79.8) scale(1.04,1)" font-size="54" text-anchor="end">1.4</text>
<text class="sn" transform="translate(67,742.3) rotate(-90)" font-size="58.5" text-anchor="middle">RUL</text>
<text class="sn" x="1089" y="1572" font-size="58.7" text-anchor="middle">Time Step</text>
<rect x="362" y="86.7" width="1375.8" height="73.3" fill="#fff" stroke="#1e1e1e" stroke-width="2.5"/>
<path d="M378.4,124 H536.1" stroke="#b447ff" stroke-width="4.4"/>
<text class="lg" x="546.5" y="141.2" font-size="48.2">DNAA</text>
<path d="M715.4,124 H872.6" stroke="#edb120" stroke-width="4.6"/>
<text class="lg" x="883" y="141.2" font-size="48.2">Improved DANN</text>
<path d="M1267.7,124 H1426.4" stroke="#ff0000" stroke-width="9.5"/>
<text class="lg" x="1436" y="141.2" font-size="48.2">Ground Truth</text>
<text class="cap" x="1051" y="1691" font-size="86" text-anchor="middle">(<tspan font-weight="bold">b</tspan>)</text>
<path d="M633.0,1801.6V3188.0 M989.7,1801.6V3188.0 M1346.5,1801.6V3188.0 M1703.2,1801.6V3188.0 M276.2,3034.0H2057.6 M276.2,2880.0H2057.6 M276.2,2726.0H2057.6 M276.2,2572.0H2057.6 M276.2,2418.0H2057.6 M276.2,2264.0H2057.6 M276.2,2110.0H2057.6 M276.2,1956.0H2057.6" stroke="#d8d8d8" stroke-width="2.3" fill="none"/>
<path d="M296.2,2254 L2039.7,2261.5" stroke="#ff1a9e" stroke-width="5.2" stroke-dasharray="21.4 21.8" fill="none"/>
<path d="M269.3,3042.5 L2020,3048.4" stroke="#ff1a9e" stroke-width="5.2" stroke-dasharray="21.5 21.8" fill="none"/>
<path d="M276.2,3188.0v-17.2 M276.2,1801.6v17.2 M633.0,3188.0v-17.2 M633.0,1801.6v17.2 M989.7,3188.0v-17.2 M989.7,1801.6v17.2 M1346.5,3188.0v-17.2 M1346.5,1801.6v17.2 M1703.2,3188.0v-17.2 M1703.2,1801.6v17.2 M276.2,3188.0h17.2 M2057.6,3188.0h-17.2 M276.2,3034.0h17.2 M2057.6,3034.0h-17.2 M276.2,2880.0h17.2 M2057.6,2880.0h-17.2 M276.2,2726.0h17.2 M2057.6,2726.0h-17.2 M276.2,2572.0h17.2 M2057.6,2572.0h-17.2 M276.2,2418.0h17.2 M2057.6,2418.0h-17.2 M276.2,2264.0h17.2 M2057.6,2264.0h-17.2 M276.2,2110.0h17.2 M2057.6,2110.0h-17.2 M276.2,1956.0h17.2 M2057.6,1956.0h-17.2 M276.2,1802.0h17.2 M2057.6,1802.0h-17.2" stroke="#1e1e1e" stroke-width="2.4" fill="none"/>
<rect x="276.2" y="1801.6" width="1781.3999999999999" height="1386.4" fill="none" stroke="#1e1e1e" stroke-width="2.6"/>
<g fill="none" stroke-linejoin="bevel">
<path d="M276.0,2052.0 L276.7,1973.2 L277.4,2111.9 L278.1,2080.7 L278.9,2074.9 L279.6,1905.5 L280.3,2042.6 L281.0,2055.6 L281.7,2063.5 L282.4,1994.1 L283.1,1975.5 L283.8,1988.7 L284.6,2066.9 L285.3,2158.1 L286.0,1993.1 L286.7,1997.6 L287.4,1992.8 L288.1,2042.7 L288.8,2086.0 L289.6,2129.1 L290.3,1959.4 L291.0,2040.0 L291.7,2054.3 L292.4,1983.1 L293.1,2051.9 L293.8,2097.2 L294.6,1991.3 L295.3,2068.9 L296.0,2082.6 L296.7,2068.8 L297.4,1982.5 L298.1,2009.0 L298.8,2045.7 L299.5,1979.5 L300.3,1989.7 L301.0,2059.5 L301.7,2027.3 L302.4,2045.5 L303.1,2036.0 L303.8,2061.2 L304.5,2001.9 L305.3,2075.7 L306.0,2031.4 L306.7,1967.1 L307.4,2048.7 L308.1,2049.9 L308.8,2089.3 L309.5,2038.7 L310.3,2027.2 L311.0,1986.2 L311.7,2034.4 L312.4,2054.3 L313.1,2026.1 L313.8,2139.6 L314.5,2004.1 L315.2,2060.7 L316.0,2092.8 L316.7,2121.6 L317.4,2104.0 L318.1,2024.3 L318.8,2019.8 L319.5,2084.8 L320.2,1975.8 L321.0,1981.6 L321.7,1965.6 L322.4,1948.6 L323.1,1986.2 L323.8,1996.4 L324.5,1978.7 L325.2,1942.9 L326.0,2048.0 L326.7,2050.3 L327.4,2005.9 L328.1,2039.8 L328.8,1996.0 L329.5,1974.7 L330.2,1933.2 L330.9,1982.7 L331.7,1961.2 L332.4,1971.0 L333.1,2023.8 L333.8,2007.1 L334.5,2041.0 L335.2,2005.4 L335.9,1911.6 L336.7,2051.8 L337.4,1984.0 L338.1,1963.9 L338.8,2031.4 L339.5,1970.6 L340.2,2028.0 L340.9,1999.2 L341.7,1966.8 L342.4,1948.6 L343.1,2003.0 L343.8,2000.9 L344.5,1997.6 L345.2,2007.5 L345.9,2101.2 L346.6,2082.0 L347.4,1979.4 L348.1,2068.5 L348.8,1984.2 L349.5,2080.5 L350.2,2125.8 L350.9,2103.5 L351.6,2108.1 L352.4,2052.1 L353.1,2079.5 L353.8,2093.2 L354.5,2112.2 L355.2,2059.2 L355.9,2100.4 L356.6,2018.2 L357.4,2008.0 L358.1,2019.8 L358.8,2071.9 L359.5,2013.3 L360.2,2016.0 L360.9,2141.2 L361.6,2138.5 L362.3,2097.8 L363.1,2130.6 L363.8,2092.3 L364.5,2064.6 L365.2,2034.2 L365.9,1989.3 L366.6,1986.6 L367.3,2027.2 L368.1,2074.9 L368.8,1979.4 L369.5,2062.3 L370.2,1962.9 L370.9,1986.6 L371.6,2050.0 L372.3,2071.5 L373.0,1931.7 L373.8,2023.8 L374.5,2030.3 L375.2,2064.8 L375.9,2085.6 L376.6,2084.2 L377.3,2034.0 L378.0,2044.2 L378.8,2079.0 L379.5,1995.6 L380.2,1934.7 L380.9,2015.0 L381.6,2017.1 L382.3,1981.3 L383.0,2046.3 L383.8,2037.2 L384.5,2016.7 L385.2,2067.8 L385.9,2073.3 L386.6,2070.0 L387.3,1973.2 L388.0,2073.4 L388.7,2027.4 L389.5,2027.9 L390.2,2001.3 L390.9,2039.6 L391.6,2006.4 L392.3,2053.9 L393.0,1956.3 L393.7,2030.1 L394.5,2013.0 L395.2,1988.9 L395.9,2017.2 L396.6,1966.3 L397.3,2045.2 L398.0,2019.0 L398.7,2061.9 L399.5,2077.9 L400.2,2087.6 L400.9,2007.2 L401.6,2046.0 L402.3,2010.8 L403.0,2055.2 L403.7,1988.7 L404.4,2044.1 L405.2,2086.5 L405.9,2093.4 L406.6,1993.4 L407.3,1994.7 L408.0,2023.7 L408.7,2052.9 L409.4,2064.0 L410.2,2068.9 L410.9,2073.9 L411.6,2077.2 L412.3,2027.2 L413.0,2102.7 L413.7,2071.0 L414.4,2052.2 L415.2,2008.7 L415.9,2044.6 L416.6,2075.5 L417.3,2066.5 L418.0,2044.8 L418.7,2068.5 L419.4,2039.1 L420.1,2046.1 L420.9,2069.6 L421.6,2056.8 L422.3,2090.3 L423.0,2076.2 L423.7,2025.6 L424.4,2107.0 L425.1,2094.8 L425.9,2065.7 L426.6,2021.0 L427.3,2069.9 L428.0,2018.3 L428.7,2144.3 L429.4,2042.1 L430.1,2066.0 L430.9,2081.4 L431.6,2057.0 L432.3,2059.4 L433.0,2148.0 L433.7,2023.3 L434.4,2052.5 L435.1,2005.6 L435.8,2041.7 L436.6,2060.4 L437.3,2181.2 L438.0,2030.4 L438.7,2126.0 L439.4,2126.3 L440.1,2069.7 L440.8,2041.1 L441.6,1988.2 L442.3,1985.6 L443.0,2020.1 L443.7,2049.3 L444.4,2051.8 L445.1,2064.0 L445.8,1975.6 L446.6,1993.3 L447.3,2065.7 L448.0,1979.6 L448.7,2035.0 L449.4,1964.8 L450.1,1984.3 L450.8,1973.2 L451.5,2006.5 L452.3,2028.8 L453.0,1954.8 L453.7,2039.7 L454.4,2064.6 L455.1,2059.0 L455.8,2049.2 L456.5,2008.1 L457.3,2148.9 L458.0,2068.6 L458.7,2140.4 L459.4,2068.8 L460.1,2042.8 L460.8,1966.8 L461.5,2101.5 L462.2,2010.2 L463.0,2118.5 L463.7,2022.4 L464.4,1971.7 L465.1,2088.3 L465.8,2091.7 L466.5,2055.1 L467.2,2066.4 L468.0,2055.5 L468.7,2031.4 L469.4,2007.7 L470.1,2081.1 L470.8,2008.9 L471.5,1997.9 L472.2,2015.0 L473.0,2054.7 L473.7,2051.7 L474.4,2044.8 L475.1,2059.4 L475.8,2046.8 L476.5,2009.3 L477.2,2116.5 L477.9,2061.8 L478.7,1993.3 L479.4,2104.7 L480.1,1992.4 L480.8,1991.7 L481.5,2042.8 L482.2,2109.0 L482.9,2071.6 L483.7,2098.5 L484.4,2065.9 L485.1,2002.0 L485.8,2146.9 L486.5,2096.5 L487.2,2007.5 L487.9,2155.0 L488.7,2138.4 L489.4,2053.5 L490.1,2096.6 L490.8,2073.9 L491.5,2147.0 L492.2,2167.5 L492.9,2169.7 L493.6,2171.9 L494.4,2141.4 L495.1,2027.2 L495.8,2029.5 L496.5,2134.4 L497.2,2169.6 L497.9,2115.1 L498.6,2130.4 L499.4,2091.6 L500.1,2174.2 L500.8,2161.3 L501.5,2196.6 L502.2,2193.3 L502.9,2125.5 L503.6,2087.4 L504.4,2051.8 L505.1,2115.9 L505.8,2176.9 L506.5,2091.4 L507.2,2061.3 L507.9,2073.4 L508.6,2058.5 L509.3,2146.0 L510.1,2097.3 L510.8,2083.9 L511.5,2120.9 L512.2,2147.3 L512.9,2095.8 L513.6,2065.7 L514.3,2115.1 L515.1,2108.9 L515.8,2109.4 L516.5,2089.4 L517.2,2031.4 L517.9,2053.2 L518.6,2049.5 L519.3,2127.3 L520.1,2036.7 L520.8,2074.0 L521.5,1992.6 L522.2,1996.0 L522.9,2031.3 L523.6,1976.3 L524.3,2074.5 L525.0,2098.4 L525.8,1991.5 L526.5,2099.1 L527.2,2094.0 L527.9,2045.4 L528.6,2010.2 L529.3,2046.0 L530.0,2142.7 L530.8,2088.2 L531.5,2115.2 L532.2,2031.5 L532.9,2075.8 L533.6,1988.7 L534.3,2064.6 L535.0,2111.7 L535.8,2008.1 L536.5,2105.0 L537.2,2128.1 L537.9,2039.7 L538.6,2055.1 L539.3,2069.3 L540.0,2141.7 L540.7,2063.0 L541.5,2034.9 L542.2,2098.2 L542.9,2063.7 L543.6,2057.4 L544.3,2061.2 L545.0,2141.2 L545.7,2110.1 L546.5,2092.5 L547.2,2094.0 L547.9,2094.4 L548.6,2085.0 L549.3,2136.1 L550.0,2021.0 L550.7,2112.4 L551.4,2094.7 L552.2,2091.8 L552.9,2109.6 L553.6,2144.3 L554.3,2086.2 L555.0,2122.1 L555.7,2053.2 L556.4,2125.6 L557.2,2055.4 L557.9,2051.8 L558.6,2126.4 L559.3,2073.6 L560.0,2102.4 L560.7,2118.9 L561.4,2043.2 L562.2,2035.2 L562.9,2111.9 L563.6,2043.2 L564.3,2068.0 L565.0,2007.1 L565.7,2019.5 L566.4,2050.5 L567.1,2107.1 L567.9,2026.7 L568.6,2078.2 L569.3,2067.8 L570.0,2046.8 L570.7,2030.7 L571.4,2097.6 L572.1,2190.5 L572.9,2153.4 L573.6,2082.4 L574.3,2168.0 L575.0,2073.8 L575.7,2158.6 L576.4,2138.4 L577.1,2074.9 L577.9,2034.9 L578.6,2106.6 L579.3,2084.2 L580.0,2095.1 L580.7,2082.7 L581.4,2111.9 L582.1,2062.5 L582.8,2057.8 L583.6,2079.3 L584.3,2018.4 L585.0,2053.2 L585.7,1984.0 L586.4,2017.2 L587.1,1996.5 L587.8,2080.0 L588.6,2033.1 L589.3,1967.6 L590.0,2077.1 L590.7,2009.8 L591.4,1957.4 L592.1,1993.0 L592.8,1951.7 L593.6,2024.3 L594.3,2031.3 L595.0,2007.6 L595.7,2012.2 L596.4,2059.5 L597.1,2027.4 L597.8,2029.1 L598.5,2027.3 L599.3,2057.4 L600.0,2036.8 L600.7,1995.0 L601.4,1997.9 L602.1,2051.4 L602.8,2090.1 L603.5,2037.2 L604.3,2015.2 L605.0,1977.9 L605.7,2029.2 L606.4,2047.1 L607.1,2115.0 L607.8,1997.9 L608.5,1986.8 L609.3,2032.8 L610.0,1951.7 L610.7,1968.3 L611.4,2083.8 L612.1,2050.6 L612.8,2084.4 L613.5,2064.7 L614.2,1993.2 L615.0,2087.5 L615.7,2064.0 L616.4,2142.2 L617.1,2048.7 L617.8,2091.3 L618.5,2097.5 L619.2,2040.4 L620.0,2047.2 L620.7,2188.9 L621.4,2059.5 L622.1,2147.5 L622.8,2117.8 L623.5,2090.2 L624.2,2129.3 L625.0,2075.9 L625.7,2089.5 L626.4,2047.2 L627.1,2128.9 L627.8,2041.5 L628.5,2078.3 L629.2,2086.7 L629.9,2053.4 L630.7,2083.7 L631.4,2068.4 L632.1,2043.9 L632.8,2090.8 L633.5,2025.6 L634.2,2088.5 L634.9,2127.3 L635.7,2083.6 L636.4,2046.0 L637.1,2069.2 L637.8,2084.5 L638.5,2053.2 L639.2,2024.0 L639.9,1965.5 L640.6,2006.1 L641.4,2119.0 L642.1,2013.0 L642.8,2093.6 L643.5,2050.3 L644.2,2051.7 L644.9,1964.5 L645.6,1964.4 L646.4,2120.6 L647.1,1984.8 L647.8,1964.0 L648.5,2013.3 L649.2,2026.2 L649.9,2009.1 L650.6,1983.9 L651.4,2076.5 L652.1,2065.0 L652.8,2035.9 L653.5,2144.3 L654.2,2018.7 L654.9,1973.2 L655.6,2044.1 L656.3,2144.6 L657.1,2144.8 L657.8,2139.2 L658.5,2072.5 L659.2,2053.8 L659.9,2121.1 L660.6,2145.3 L661.3,2051.8 L662.1,2119.3 L662.8,2135.6 L663.5,2059.5 L664.2,2145.8 L664.9,2145.6 L665.6,2104.2 L666.3,2100.7 L667.1,2102.0 L667.8,2129.1 L668.5,2091.8 L669.2,2113.4 L669.9,2121.0 L670.6,2065.7 L671.3,2107.6 L672.0,2147.3 L672.8,2102.3 L673.5,2138.8 L674.2,2034.5 L674.9,2123.3 L675.6,2062.2 L676.3,2106.3 L677.0,2016.4 L677.8,2117.8 L678.5,2043.4 L679.2,2053.0 L679.9,1985.4 L680.6,1981.0 L681.3,2046.7 L682.0,2082.0 L682.8,2127.3 L683.5,2076.6 L684.2,2038.4 L684.9,2031.3 L685.6,2101.6 L686.3,2047.3 L687.0,2119.7 L687.7,2109.6 L688.5,2138.1 L689.2,2078.0 L689.9,2175.0 L690.6,2139.5 L691.3,2192.0 L692.0,2188.8 L692.7,2163.4 L693.5,2144.5 L694.2,2131.7 L694.9,2153.0 L695.6,2088.8 L696.3,2092.1 L697.0,2117.9 L697.7,2087.5 L698.5,2051.8 L699.2,2164.3 L699.9,2063.6 L700.6,2124.3 L701.3,2114.5 L702.0,2127.0 L702.7,2082.1 L703.4,2122.6 L704.2,2112.9 L704.9,2136.6 L705.6,2087.1 L706.3,2083.3 L707.0,2079.4 L707.7,2087.7 L708.4,2105.9 L709.2,2100.1 L709.9,2059.5 L710.6,2142.7 L711.3,2122.8 L712.0,2055.8 L712.7,2104.3 L713.4,2158.7 L714.2,2101.0 L714.9,2050.9 L715.6,2173.7 L716.3,2149.7 L717.0,2182.3 L717.7,2169.0 L718.4,2139.9 L719.1,2195.7 L719.9,2202.9 L720.6,2186.6 L721.3,2078.5 L722.0,2211.6 L722.7,2084.4 L723.4,2106.0 L724.1,2265.0 L724.9,2140.0 L725.6,2095.5 L726.3,2208.2 L727.0,2187.5 L727.7,2180.3 L728.4,2195.7 L729.1,2100.6 L729.8,2141.9 L730.6,2162.5 L731.3,2142.2 L732.0,2104.9 L732.7,2139.7 L733.4,2140.8 L734.1,2147.3 L734.8,2111.7 L735.6,2135.6 L736.3,2183.4 L737.0,2145.9 L737.7,2050.1 L738.4,2112.1 L739.1,2151.8 L739.8,2140.4 L740.6,2038.5 L741.3,2044.4 L742.0,2038.2 L742.7,2051.7 L743.4,2044.8 L744.1,2037.4 L744.8,2083.5 L745.5,2089.2 L746.3,2051.8 L747.0,2164.9 L747.7,2163.2 L748.4,2092.0 L749.1,2092.9 L749.8,2035.5 L750.5,2079.0 L751.3,2110.3 L752.0,2059.2 L752.7,2108.2 L753.4,2083.7 L754.1,2051.0 L754.8,2146.6 L755.5,2091.3 L756.3,2143.3 L757.0,2109.0 L757.7,2083.5 L758.4,2075.0 L759.1,2043.2 L759.8,2107.7 L760.5,2073.8 L761.2,2126.7 L762.0,2121.2 L762.7,2123.2 L763.4,2094.9 L764.1,2190.6 L764.8,2122.0 L765.5,2198.8 L766.2,2146.2 L767.0,2098.7 L767.7,2078.4 L768.4,2078.6 L769.1,2153.8 L769.8,2174.6 L770.5,2090.2 L771.2,2070.5 L772.0,2096.4 L772.7,2115.3 L773.4,2232.7 L774.1,2106.6 L774.8,2148.6 L775.5,2224.2 L776.2,2055.5 L776.9,2056.5 L777.7,2113.0 L778.4,2139.6 L779.1,2059.8 L779.8,2108.7 L780.5,2160.6 L781.2,2075.5 L781.9,2064.0 L782.7,2128.6 L783.4,2208.0 L784.1,2207.2 L784.8,2190.0 L785.5,2069.4 L786.2,2123.6 L786.9,2135.0 L787.7,2071.9 L788.4,2133.9 L789.1,2186.3 L789.8,2135.2 L790.5,2117.2 L791.2,2183.4 L791.9,2134.4 L792.6,2157.1 L793.4,2078.6 L794.1,2113.1 L794.8,2195.7 L795.5,2195.7 L796.2,2172.5 L796.9,2163.8 L797.6,2144.8 L798.4,2117.4 L799.1,2130.6 L799.8,2195.7 L800.5,2157.9 L801.2,2174.6 L801.9,2084.3 L802.6,2055.5 L803.4,2131.6 L804.1,2059.7 L804.8,2061.5 L805.5,2110.9 L806.2,2111.0 L806.9,2070.4 L807.6,2170.1 L808.3,2195.7 L809.1,2149.8 L809.8,2099.0 L810.5,2175.1 L811.2,2175.8 L811.9,2079.9 L812.6,2185.8 L813.3,2083.2 L814.1,2147.7 L814.8,2163.6 L815.5,2101.2 L816.2,2174.0 L816.9,2069.4 L817.6,2179.2 L818.3,2131.4 L819.0,2124.2 L819.8,2105.1 L820.5,2137.0 L821.2,2218.8 L821.9,2217.9 L822.6,2135.6 L823.3,2046.2 L824.0,2110.6 L824.8,2099.1 L825.5,2064.0 L826.2,2130.3 L826.9,2111.3 L827.6,2175.5 L828.3,2199.9 L829.0,2174.5 L829.8,2068.4 L830.5,2096.0 L831.2,2153.7 L831.9,2072.4 L832.6,2191.5 L833.3,2208.0 L834.0,2192.1 L834.7,2200.0 L835.5,2143.6 L836.2,2157.1 L836.9,2125.2 L837.6,2072.1 L838.3,2078.7 L839.0,2122.9 L839.7,2063.0 L840.5,2120.3 L841.2,2086.9 L841.9,2144.1 L842.6,2158.7 L843.3,2109.6 L844.0,2100.0 L844.7,2174.9 L845.5,2055.5 L846.2,2114.3 L846.9,2056.5 L847.6,2191.2 L848.3,2112.4 L849.0,2116.6 L849.7,2192.1 L850.4,2214.2 L851.2,2108.0 L851.9,2186.0 L852.6,2111.0 L853.3,2174.1 L854.0,2224.5 L854.7,2204.8 L855.4,2228.4 L856.2,2207.0 L856.9,2232.3 L857.6,2064.7 L858.3,2073.2 L859.0,2171.1 L859.7,2164.2 L860.4,2242.0 L861.2,2243.4 L861.9,2089.8 L862.6,2200.2 L863.3,2097.5 L864.0,2081.7 L864.7,2150.1 L865.4,2241.8 L866.1,2228.5 L866.9,2194.2 L867.6,2089.6 L868.3,2154.4 L869.0,2219.8 L869.7,2153.9 L870.4,2214.8 L871.1,2210.3 L871.9,2177.0 L872.6,2132.1 L873.3,2263.5 L874.0,2217.9 L874.7,2182.6 L875.4,2171.2 L876.1,2109.4 L876.9,2161.2 L877.6,2183.4 L878.3,2164.4 L879.0,2170.7 L879.7,2167.9 L880.4,2157.2 L881.1,2170.3 L881.8,2183.7 L882.6,2161.3 L883.3,2231.0 L884.0,2098.0 L884.7,2096.5 L885.4,2163.6 L886.1,2190.7 L886.8,2283.5 L887.6,2199.9 L888.3,2188.6 L889.0,2218.7 L889.7,2204.0 L890.4,2220.9 L891.1,2191.3 L891.8,2161.8 L892.6,2274.3 L893.3,2272.4 L894.0,2247.8 L894.7,2235.3 L895.4,2245.5 L896.1,2272.7 L896.8,2255.7 L897.5,2233.2 L898.3,2249.8 L899.0,2262.3 L899.7,2186.1 L900.4,2214.7 L901.1,2247.6 L901.8,2257.8 L902.5,2220.5 L903.3,2222.6 L904.0,2181.8 L904.7,2268.0 L905.4,2237.4 L906.1,2239.8 L906.8,2211.6 L907.5,2266.6 L908.2,2268.5 L909.0,2191.2 L909.7,2188.4 L910.4,2208.9 L911.1,2188.9 L911.8,2236.1 L912.5,2151.0 L913.2,2268.9 L914.0,2175.1 L914.7,2196.3 L915.4,2189.8 L916.1,2209.2 L916.8,2213.5 L917.5,2220.7 L918.2,2199.9 L919.0,2205.6 L919.7,2195.7 L920.4,2267.3 L921.1,2292.7 L921.8,2243.8 L922.5,2296.2 L923.2,2158.6 L923.9,2239.8 L924.7,2212.9 L925.4,2134.1 L926.1,2140.7 L926.8,2172.4 L927.5,2205.0 L928.2,2176.0 L928.9,2273.1 L929.7,2313.4 L930.4,2273.0 L931.1,2308.0 L931.8,2235.7 L932.5,2297.5 L933.2,2299.4 L933.9,2298.8 L934.7,2285.8 L935.4,2244.4 L936.1,2274.0 L936.8,2329.7 L937.5,2233.7 L938.2,2258.5 L938.9,2254.8 L939.6,2284.7 L940.4,2224.1 L941.1,2189.5 L941.8,2296.9 L942.5,2271.8 L943.2,2240.7 L943.9,2209.7 L944.6,2266.1 L945.4,2217.8 L946.1,2300.4 L946.8,2277.0 L947.5,2263.6 L948.2,2265.6 L948.9,2302.4 L949.6,2239.9 L950.4,2195.7 L951.1,2334.8 L951.8,2326.5 L952.5,2242.1 L953.2,2266.1 L953.9,2315.8 L954.6,2316.6 L955.3,2310.5 L956.1,2317.5 L956.8,2248.1 L957.5,2369.8 L958.2,2368.5 L958.9,2338.7 L959.6,2306.9 L960.3,2257.0 L961.1,2284.1 L961.8,2280.8 L962.5,2257.7 L963.2,2368.7 L963.9,2215.7 L964.6,2315.3 L965.3,2265.4 L966.1,2368.2 L966.8,2366.5 L967.5,2361.1 L968.2,2283.9 L968.9,2372.5 L969.6,2263.4 L970.3,2257.3 L971.0,2352.4 L971.8,2263.3 L972.5,2247.0 L973.2,2267.5 L973.9,2312.8 L974.6,2323.0 L975.3,2380.6 L976.0,2361.2 L976.8,2373.5 L977.5,2180.3 L978.2,2330.6 L978.9,2364.9 L979.6,2323.9 L980.3,2257.7 L981.0,2320.3 L981.8,2336.9 L982.5,2189.5 L983.2,2349.7 L983.9,2243.0 L984.6,2198.7 L985.3,2300.6 L986.0,2390.5 L986.7,2309.6 L987.5,2411.4 L988.2,2303.5 L988.9,2390.4 L989.6,2299.0 L990.3,2226.5 L991.0,2319.8 L991.7,2349.7 L992.5,2262.4 L993.2,2305.4 L993.9,2356.2 L994.6,2290.1 L995.3,2347.9 L996.0,2253.4 L996.7,2365.2 L997.4,2356.1 L998.2,2181.8 L998.9,2237.3 L999.6,2305.5 L1000.3,2344.0 L1001.0,2256.9 L1001.7,2307.2 L1002.4,2302.9 L1003.2,2337.8 L1003.9,2315.9 L1004.6,2288.1 L1005.3,2304.5 L1006.0,2339.0 L1006.7,2324.6 L1007.4,2309.6 L1008.2,2331.2 L1008.9,2346.6 L1009.6,2321.8 L1010.3,2303.4 L1011.0,2347.4 L1011.7,2275.8 L1012.4,2339.7 L1013.1,2301.6 L1013.9,2320.6 L1014.6,2332.4 L1015.3,2365.2 L1016.0,2326.9 L1016.7,2285.3 L1017.4,2369.8 L1018.1,2374.6 L1018.9,2340.6 L1019.6,2301.8 L1020.3,2383.5 L1021.0,2367.7 L1021.7,2388.5 L1022.4,2345.9 L1023.1,2353.7 L1023.9,2355.7 L1024.6,2300.4 L1025.3,2397.5 L1026.0,2301.8 L1026.7,2328.9 L1027.4,2321.4 L1028.1,2335.8 L1028.8,2379.2 L1029.6,2338.6 L1030.3,2322.0 L1031.0,2384.4 L1031.7,2401.8 L1032.4,2332.6 L1033.1,2320.2 L1033.8,2301.4 L1034.6,2385.2 L1035.3,2365.0 L1036.0,2291.7 L1036.7,2291.2 L1037.4,2406.3 L1038.1,2406.8 L1038.8,2406.6 L1039.6,2333.5 L1040.3,2284.1 L1041.0,2340.6 L1041.7,2303.6 L1042.4,2357.0 L1043.1,2332.0 L1043.8,2247.1 L1044.5,2290.7 L1045.3,2240.4 L1046.0,2405.2 L1046.7,2383.3 L1047.4,2395.6 L1048.1,2350.8 L1048.8,2347.5 L1049.5,2348.2 L1050.3,2334.5 L1051.0,2366.6 L1051.7,2337.4 L1052.4,2382.6 L1053.1,2383.6 L1053.8,2436.5 L1054.5,2439.1 L1055.3,2436.5 L1056.0,2376.8 L1056.7,2361.0 L1057.4,2387.7 L1058.1,2427.0 L1058.8,2397.8 L1059.5,2350.7 L1060.2,2400.0 L1061.0,2328.2 L1061.7,2366.7 L1062.4,2386.4 L1063.1,2397.0 L1063.8,2408.3 L1064.5,2397.3 L1065.2,2353.3 L1066.0,2340.3 L1066.7,2375.9 L1067.4,2375.5 L1068.1,2402.5 L1068.8,2324.2 L1069.5,2346.7 L1070.2,2335.7 L1071.0,2358.0 L1071.7,2380.4 L1072.4,2360.7 L1073.1,2376.6 L1073.8,2315.9 L1074.5,2396.0 L1075.2,2324.0 L1075.9,2370.5 L1076.7,2319.4 L1077.4,2320.2 L1078.1,2358.4 L1078.8,2382.0 L1079.5,2337.0 L1080.2,2353.0 L1080.9,2386.8 L1081.7,2354.5 L1082.4,2409.7 L1083.1,2340.8 L1083.8,2407.4 L1084.5,2328.2 L1085.2,2378.3 L1085.9,2363.9 L1086.6,2371.2 L1087.4,2423.7 L1088.1,2321.4 L1088.8,2266.8 L1089.5,2395.9 L1090.2,2303.7 L1090.9,2265.4 L1091.6,2227.1 L1092.4,2212.6 L1093.1,2266.1 L1093.8,2238.6 L1094.5,2427.1 L1095.2,2370.2 L1095.9,2356.9 L1096.6,2310.1 L1097.4,2409.3 L1098.1,2398.3 L1098.8,2458.9 L1099.5,2380.6 L1100.2,2430.2 L1100.9,2417.7 L1101.6,2466.8 L1102.3,2400.0 L1103.1,2358.1 L1103.8,2410.1 L1104.5,2397.3 L1105.2,2388.6 L1105.9,2385.5 L1106.6,2362.2 L1107.3,2294.3 L1108.1,2376.7 L1108.8,2381.3 L1109.5,2387.8 L1110.2,2379.5 L1110.9,2446.8 L1111.6,2318.8 L1112.3,2315.1 L1113.1,2335.6 L1113.8,2394.0 L1114.5,2373.4 L1115.2,2401.2 L1115.9,2331.3 L1116.6,2335.4 L1117.3,2415.8 L1118.0,2439.7 L1118.8,2451.9 L1119.5,2452.4 L1120.2,2452.8 L1120.9,2448.2 L1121.6,2453.7 L1122.3,2442.5 L1123.0,2454.5 L1123.8,2418.3 L1124.5,2414.2 L1125.2,2423.1 L1125.9,2411.4 L1126.6,2423.1 L1127.3,2428.2 L1128.0,2404.7 L1128.8,2396.8 L1129.5,2423.9 L1130.2,2443.6 L1130.9,2462.2 L1131.6,2399.8 L1132.3,2398.1 L1133.0,2447.2 L1133.7,2425.0 L1134.5,2430.3 L1135.2,2437.5 L1135.9,2354.4 L1136.6,2395.9 L1137.3,2404.5 L1138.0,2423.5 L1138.7,2423.1 L1139.5,2424.1 L1140.2,2385.2 L1140.9,2424.0 L1141.6,2418.0 L1142.3,2455.8 L1143.0,2452.4 L1143.7,2437.4 L1144.5,2454.5 L1145.2,2383.5 L1145.9,2450.0 L1146.6,2389.6 L1147.3,2396.5 L1148.0,2425.4 L1148.7,2439.1 L1149.4,2419.9 L1150.2,2399.0 L1150.9,2442.2 L1151.6,2439.8 L1152.3,2439.3 L1153.0,2454.1 L1153.7,2404.5 L1154.4,2440.4 L1155.2,2399.4 L1155.9,2416.2 L1156.6,2414.4 L1157.3,2451.9 L1158.0,2437.2 L1158.7,2399.6 L1159.4,2450.9 L1160.2,2421.0 L1160.9,2436.4 L1161.6,2435.1 L1162.3,2501.8 L1163.0,2472.5 L1163.7,2466.5 L1164.4,2470.0 L1165.1,2434.1 L1165.9,2457.2 L1166.6,2432.0 L1167.3,2400.1 L1168.0,2483.2 L1168.7,2463.9 L1169.4,2433.7 L1170.1,2418.6 L1170.9,2470.9 L1171.6,2447.7 L1172.3,2477.0 L1173.0,2504.9 L1173.7,2504.7 L1174.4,2471.2 L1175.1,2476.4 L1175.8,2453.2 L1176.6,2448.6 L1177.3,2465.5 L1178.0,2406.3 L1178.7,2430.2 L1179.4,2472.2 L1180.1,2479.4 L1180.8,2436.4 L1181.6,2466.9 L1182.3,2485.4 L1183.0,2501.9 L1183.7,2501.7 L1184.4,2457.8 L1185.1,2454.9 L1185.8,2424.8 L1186.6,2444.7 L1187.3,2428.0 L1188.0,2500.4 L1188.7,2500.3 L1189.4,2500.6 L1190.1,2485.6 L1190.8,2481.6 L1191.5,2494.9 L1192.3,2513.8 L1193.0,2511.4 L1193.7,2515.8 L1194.4,2447.9 L1195.1,2487.6 L1195.8,2500.1 L1196.5,2528.0 L1197.3,2457.3 L1198.0,2482.2 L1198.7,2504.0 L1199.4,2497.8 L1200.1,2517.8 L1200.8,2466.1 L1201.5,2490.7 L1202.3,2483.1 L1203.0,2476.2 L1203.7,2433.1 L1204.4,2467.7 L1205.1,2571.1 L1205.8,2528.1 L1206.5,2539.0 L1207.2,2548.0 L1208.0,2520.7 L1208.7,2543.6 L1209.4,2503.7 L1210.1,2487.3 L1210.8,2504.5 L1211.5,2499.8 L1212.2,2492.6 L1213.0,2512.9 L1213.7,2507.7 L1214.4,2463.3 L1215.1,2500.3 L1215.8,2475.4 L1216.5,2485.8 L1217.2,2501.1 L1218.0,2490.6 L1218.7,2510.3 L1219.4,2497.4 L1220.1,2523.6 L1220.8,2519.5 L1221.5,2541.2 L1222.2,2519.7 L1222.9,2549.7 L1223.7,2477.2 L1224.4,2555.7 L1225.1,2513.9 L1225.8,2507.5 L1226.5,2489.1 L1227.2,2511.8 L1227.9,2538.9 L1228.7,2510.6 L1229.4,2551.2 L1230.1,2545.3 L1230.8,2528.7 L1231.5,2472.5 L1232.2,2471.0 L1232.9,2542.1 L1233.7,2506.3 L1234.4,2494.7 L1235.1,2509.8 L1235.8,2486.9 L1236.5,2555.5 L1237.2,2427.9 L1237.9,2498.0 L1238.6,2529.9 L1239.4,2595.8 L1240.1,2530.5 L1240.8,2598.5 L1241.5,2539.8 L1242.2,2484.9 L1242.9,2580.4 L1243.6,2608.1 L1244.4,2612.0 L1245.1,2548.3 L1245.8,2539.8 L1246.5,2581.6 L1247.2,2641.5 L1247.9,2648.9 L1248.6,2498.7 L1249.4,2655.9 L1250.1,2595.1 L1250.8,2628.6 L1251.5,2517.7 L1252.2,2547.5 L1252.9,2608.1 L1253.6,2561.5 L1254.3,2606.8 L1255.1,2574.5 L1255.8,2494.0 L1256.5,2521.0 L1257.2,2526.5 L1257.9,2492.6 L1258.6,2563.7 L1259.3,2497.5 L1260.1,2491.9 L1260.8,2608.1 L1261.5,2582.5 L1262.2,2607.8 L1262.9,2529.3 L1263.6,2490.9 L1264.3,2563.6 L1265.0,2530.6 L1265.8,2522.8 L1266.5,2537.7 L1267.2,2509.1 L1267.9,2606.1 L1268.6,2489.5 L1269.3,2491.3 L1270.0,2578.0 L1270.8,2571.7 L1271.5,2605.0 L1272.2,2541.1 L1272.9,2608.8 L1273.6,2546.1 L1274.3,2606.3 L1275.0,2604.0 L1275.8,2594.5 L1276.5,2509.5 L1277.2,2574.2 L1277.9,2522.8 L1278.6,2581.9 L1279.3,2564.0 L1280.0,2541.5 L1280.7,2573.4 L1281.5,2562.2 L1282.2,2531.1 L1282.9,2638.9 L1283.6,2521.0 L1284.3,2544.7 L1285.0,2602.3 L1285.7,2592.8 L1286.5,2593.7 L1287.2,2550.8 L1287.9,2483.3 L1288.6,2596.2 L1289.3,2508.4 L1290.0,2526.5 L1290.7,2659.6 L1291.5,2660.5 L1292.2,2659.0 L1292.9,2619.3 L1293.6,2571.1 L1294.3,2627.8 L1295.0,2611.1 L1295.7,2630.9 L1296.4,2624.5 L1297.2,2619.7 L1297.9,2675.9 L1298.6,2654.9 L1299.3,2545.8 L1300.0,2549.5 L1300.7,2538.8 L1301.4,2562.8 L1302.2,2619.6 L1302.9,2601.9 L1303.6,2575.6 L1304.3,2612.1 L1305.0,2567.8 L1305.7,2552.7 L1306.4,2544.8 L1307.2,2540.9 L1307.9,2555.7 L1308.6,2614.3 L1309.3,2558.4 L1310.0,2537.3 L1310.7,2591.7 L1311.4,2609.4 L1312.1,2584.1 L1312.9,2574.4 L1313.6,2599.0 L1314.3,2592.7 L1315.0,2638.4 L1315.7,2630.0 L1316.4,2617.4 L1317.1,2631.3 L1317.9,2588.1 L1318.6,2668.2 L1319.3,2608.3 L1320.0,2610.0 L1320.7,2608.8 L1321.4,2638.2 L1322.1,2658.1 L1322.9,2653.4 L1323.6,2638.0 L1324.3,2620.3 L1325.0,2589.5 L1325.7,2651.1 L1326.4,2640.3 L1327.1,2643.4 L1327.8,2655.9 L1328.6,2660.5 L1329.3,2627.2 L1330.0,2649.6 L1330.7,2616.6 L1331.4,2648.1 L1332.1,2598.2 L1332.8,2615.0 L1333.6,2617.0 L1334.3,2591.2 L1335.0,2655.1 L1335.7,2644.3 L1336.4,2623.1 L1337.1,2606.2 L1337.8,2660.5 L1338.6,2629.9 L1339.3,2617.6 L1340.0,2663.9 L1340.7,2646.5 L1341.4,2624.8 L1342.1,2653.2 L1342.8,2638.7 L1343.5,2640.6 L1344.3,2652.8 L1345.0,2602.0 L1345.7,2694.0 L1346.4,2672.4 L1347.1,2700.6 L1347.8,2672.2 L1348.5,2648.4 L1349.3,2664.7 L1350.0,2663.9 L1350.7,2687.5 L1351.4,2672.8 L1352.1,2686.7 L1352.8,2662.6 L1353.5,2631.2 L1354.2,2676.3 L1355.0,2651.7 L1355.7,2633.7 L1356.4,2672.6 L1357.1,2684.3 L1357.8,2688.5 L1358.5,2669.4 L1359.2,2650.5 L1360.0,2694.3 L1360.7,2686.3 L1361.4,2720.6 L1362.1,2718.1 L1362.8,2637.4 L1363.5,2706.1 L1364.2,2632.5 L1365.0,2627.5 L1365.7,2663.1 L1366.4,2655.3 L1367.1,2688.6 L1367.8,2678.6 L1368.5,2659.3 L1369.2,2662.2 L1369.9,2645.1 L1370.7,2605.0 L1371.4,2607.2 L1372.1,2697.5 L1372.8,2618.9 L1373.5,2635.5 L1374.2,2659.2 L1374.9,2665.4 L1375.7,2655.5 L1376.4,2652.4 L1377.1,2703.0 L1377.8,2647.3 L1378.5,2675.1 L1379.2,2623.5 L1379.9,2656.3 L1380.7,2722.4 L1381.4,2723.7 L1382.1,2645.4 L1382.8,2665.3 L1383.5,2657.7 L1384.2,2646.9 L1384.9,2732.0 L1385.6,2687.8 L1386.4,2657.6 L1387.1,2661.1 L1387.8,2675.7 L1388.5,2669.7 L1389.2,2739.1 L1389.9,2716.4 L1390.6,2743.7 L1391.4,2708.1 L1392.1,2671.9 L1392.8,2647.5 L1393.5,2643.5 L1394.2,2640.5 L1394.9,2674.0 L1395.6,2663.6 L1396.4,2717.9 L1397.1,2683.2 L1397.8,2733.2 L1398.5,2668.6 L1399.2,2771.4 L1399.9,2765.3 L1400.6,2722.9 L1401.3,2685.2 L1402.1,2731.2 L1402.8,2724.0 L1403.5,2733.0 L1404.2,2662.6 L1404.9,2706.7 L1405.6,2687.0 L1406.3,2625.1 L1407.1,2756.3 L1407.8,2670.4 L1408.5,2752.9 L1409.2,2753.5 L1409.9,2682.1 L1410.6,2722.3 L1411.3,2705.6 L1412.1,2723.0 L1412.8,2758.9 L1413.5,2725.3 L1414.2,2754.4 L1414.9,2711.3 L1415.6,2762.2 L1416.3,2751.4 L1417.0,2775.6 L1417.8,2718.0 L1418.5,2739.1 L1419.2,2812.6 L1419.9,2817.6 L1420.6,2780.1 L1421.3,2799.3 L1422.0,2758.0 L1422.8,2771.9 L1423.5,2721.1 L1424.2,2768.3 L1424.9,2742.2 L1425.6,2726.7 L1426.3,2733.8 L1427.0,2692.9 L1427.8,2771.4 L1428.5,2707.4 L1429.2,2779.0 L1429.9,2716.7 L1430.6,2711.9 L1431.3,2684.0 L1432.0,2730.0 L1432.7,2757.3 L1433.5,2721.7 L1434.2,2748.1 L1434.9,2676.2 L1435.6,2674.4 L1436.3,2728.3 L1437.0,2811.5 L1437.7,2775.2 L1438.5,2787.1 L1439.2,2763.2 L1439.9,2788.9 L1440.6,2773.5 L1441.3,2797.3 L1442.0,2758.5 L1442.7,2792.4 L1443.4,2728.6 L1444.2,2777.8 L1444.9,2762.3 L1445.6,2725.2 L1446.3,2696.8 L1447.0,2699.0 L1447.7,2762.3 L1448.4,2702.4 L1449.2,2771.4 L1449.9,2771.7 L1450.6,2727.7 L1451.3,2744.4 L1452.0,2739.5 L1452.7,2756.4 L1453.4,2722.0 L1454.2,2757.2 L1454.9,2716.1 L1455.6,2804.9 L1456.3,2767.1 L1457.0,2705.9 L1457.7,2763.6 L1458.4,2706.7 L1459.1,2779.8 L1459.9,2706.7 L1460.6,2759.6 L1461.3,2833.1 L1462.0,2830.7 L1462.7,2818.3 L1463.4,2679.0 L1464.1,2707.0 L1464.9,2747.9 L1465.6,2757.1 L1466.3,2817.8 L1467.0,2704.2 L1467.7,2706.5 L1468.4,2746.9 L1469.1,2809.9 L1469.9,2702.6 L1470.6,2709.1 L1471.3,2719.4 L1472.0,2668.2 L1472.7,2672.6 L1473.4,2684.0 L1474.1,2789.2 L1474.8,2761.6 L1475.6,2698.6 L1476.3,2776.9 L1477.0,2705.9 L1477.7,2725.7 L1478.4,2740.3 L1479.1,2736.4 L1479.8,2814.6 L1480.6,2765.2 L1481.3,2783.9 L1482.0,2744.4 L1482.7,2755.8 L1483.4,2808.2 L1484.1,2743.7 L1484.8,2741.7 L1485.6,2766.2 L1486.3,2739.9 L1487.0,2790.5 L1487.7,2776.1 L1488.4,2779.2 L1489.1,2755.0 L1489.8,2784.3 L1490.5,2720.6 L1491.3,2785.4 L1492.0,2808.4 L1492.7,2766.2 L1493.4,2767.9 L1494.1,2797.9 L1494.8,2724.2 L1495.5,2761.2 L1496.3,2717.9 L1497.0,2755.9 L1497.7,2708.4 L1498.4,2757.7 L1499.1,2697.2 L1499.8,2735.1 L1500.5,2775.5 L1501.3,2691.3 L1502.0,2770.2 L1502.7,2722.3 L1503.4,2682.3 L1504.1,2813.0 L1504.8,2795.7 L1505.5,2760.3 L1506.2,2670.1 L1507.0,2725.8 L1507.7,2665.1 L1508.4,2789.0 L1509.1,2676.2 L1509.8,2681.0 L1510.5,2706.5 L1511.2,2761.1 L1512.0,2761.5 L1512.7,2727.5 L1513.4,2733.0 L1514.1,2777.3 L1514.8,2793.4 L1515.5,2782.0 L1516.2,2788.4 L1517.0,2756.0 L1517.7,2733.0 L1518.4,2744.5 L1519.1,2805.6 L1519.8,2746.8 L1520.5,2830.0 L1521.2,2794.4 L1521.9,2797.0 L1522.7,2764.6 L1523.4,2805.0 L1524.1,2761.3 L1524.8,2806.3 L1525.5,2740.2 L1526.2,2789.9 L1526.9,2809.9 L1527.7,2842.3 L1528.4,2719.1 L1529.1,2791.1 L1529.8,2761.8 L1530.5,2709.8 L1531.2,2785.6 L1531.9,2782.4 L1532.6,2824.8 L1533.4,2772.7 L1534.1,2787.0 L1534.8,2734.4 L1535.5,2787.5 L1536.2,2775.3 L1536.9,2768.6 L1537.6,2865.4 L1538.4,2745.6 L1539.1,2803.1 L1539.8,2815.2 L1540.5,2805.6 L1541.2,2759.1 L1541.9,2755.9 L1542.6,2831.2 L1543.4,2810.9 L1544.1,2771.5 L1544.8,2850.7 L1545.5,2820.6 L1546.2,2787.9 L1546.9,2759.4 L1547.6,2845.4 L1548.3,2835.2 L1549.1,2782.5 L1549.8,2807.8 L1550.5,2754.3 L1551.2,2779.8 L1551.9,2703.2 L1552.6,2699.0 L1553.3,2769.5 L1554.1,2783.4 L1554.8,2856.3 L1555.5,2727.6 L1556.2,2839.7 L1556.9,2812.4 L1557.6,2791.7 L1558.3,2856.2 L1559.1,2796.0 L1559.8,2822.0 L1560.5,2786.9 L1561.2,2787.2 L1561.9,2804.7 L1562.6,2793.0 L1563.3,2868.5 L1564.0,2823.3 L1564.8,2850.4 L1565.5,2809.8 L1566.2,2847.5 L1566.9,2855.8 L1567.6,2813.5 L1568.3,2815.7 L1569.0,2765.4 L1569.8,2731.0 L1570.5,2792.8 L1571.2,2705.0 L1571.9,2839.2 L1572.6,2669.7 L1573.3,2755.2 L1574.0,2755.7 L1574.8,2834.8 L1575.5,2733.7 L1576.2,2709.9 L1576.9,2759.2 L1577.6,2725.9 L1578.3,2754.9 L1579.0,2783.7 L1579.7,2683.6 L1580.5,2721.4 L1581.2,2823.8 L1581.9,2752.3 L1582.6,2797.9 L1583.3,2802.4 L1584.0,2821.9 L1584.7,2749.5 L1585.5,2779.7 L1586.2,2820.4 L1586.9,2716.8 L1587.6,2741.7 L1588.3,2746.8 L1589.0,2764.9 L1589.7,2717.5 L1590.5,2817.6 L1591.2,2776.5 L1591.9,2795.4 L1592.6,2809.7 L1593.3,2843.6 L1594.0,2720.1 L1594.7,2778.9 L1595.4,2775.0 L1596.2,2811.4 L1596.9,2757.5 L1597.6,2841.6 L1598.3,2794.7 L1599.0,2723.4 L1599.7,2789.7 L1600.4,2845.5 L1601.2,2770.4 L1601.9,2853.5 L1602.6,2769.7 L1603.3,2772.6 L1604.0,2812.3 L1604.7,2818.6 L1605.4,2857.5 L1606.2,2824.3 L1606.9,2788.1 L1607.6,2833.3 L1608.3,2819.2 L1609.0,2790.8 L1609.7,2849.3 L1610.4,2813.4 L1611.1,2835.0 L1611.9,2823.0 L1612.6,2745.4 L1613.3,2719.2 L1614.0,2780.0 L1614.7,2683.8 L1615.4,2666.4 L1616.1,2747.7 L1616.9,2820.9 L1617.6,2815.0 L1618.3,2721.6 L1619.0,2726.5 L1619.7,2724.0 L1620.4,2739.3 L1621.1,2834.3 L1621.8,2797.7 L1622.6,2764.1 L1623.3,2779.6 L1624.0,2700.3 L1624.7,2809.9 L1625.4,2833.7 L1626.1,2739.9 L1626.8,2728.2 L1627.6,2777.5 L1628.3,2720.3 L1629.0,2773.1 L1629.7,2738.5 L1630.4,2790.6 L1631.1,2678.2 L1631.8,2811.7 L1632.6,2655.6 L1633.3,2865.2 L1634.0,2764.2 L1634.7,2705.7 L1635.4,2753.2 L1636.1,2714.2 L1636.8,2803.6 L1637.5,2849.9 L1638.3,2740.6 L1639.0,2698.8 L1639.7,2776.1 L1640.4,2816.2 L1641.1,2849.5 L1641.8,2759.8 L1642.5,2822.9 L1643.3,2852.0 L1644.0,2782.8 L1644.7,2821.4 L1645.4,2691.1 L1646.1,2800.8 L1646.8,2865.2 L1647.5,2762.1 L1648.3,2795.5 L1649.0,2751.9 L1649.7,2759.2 L1650.4,2825.6 L1651.1,2705.7 L1651.8,2784.9 L1652.5,2849.5 L1653.2,2852.3 L1654.0,2712.6 L1654.7,2765.7 L1655.4,2788.3 L1656.1,2862.4 L1656.8,2774.4 L1657.5,2716.1 L1658.2,2788.1 L1659.0,2831.5 L1659.7,2761.4 L1660.4,2740.0 L1661.1,2796.7 L1661.8,2805.5 L1662.5,2767.9 L1663.2,2753.3 L1664.0,2880.6 L1664.7,2832.7 L1665.4,2723.4 L1666.1,2799.6 L1666.8,2720.1 L1667.5,2773.0 L1668.2,2823.9 L1668.9,2774.0 L1669.7,2737.4 L1670.4,2765.4 L1671.1,2732.1 L1671.8,2757.0 L1672.5,2808.3 L1673.2,2704.1 L1673.9,2837.7 L1674.7,2700.3 L1675.4,2699.9 L1676.1,2807.8 L1676.8,2801.6 L1677.5,2698.3 L1678.2,2849.3 L1678.9,2765.5 L1679.7,2859.0 L1680.4,2826.3 L1681.1,2695.8 L1681.8,2695.3 L1682.5,2815.5 L1683.2,2694.2 L1683.9,2863.6 L1684.6,2830.1 L1685.4,2692.6 L1686.1,2809.0 L1686.8,2833.9 L1687.5,2865.6 L1688.2,2799.6 L1688.9,2794.8 L1689.6,2781.3 L1690.4,2779.3 L1691.1,2764.9 L1691.8,2729.9 L1692.5,2773.1 L1693.2,2794.1 L1693.9,2785.1 L1694.6,2738.2 L1695.4,2801.4 L1696.1,2746.5 L1696.8,2780.8 L1697.5,2877.5 L1698.2,2816.4 L1698.9,2856.7 L1699.6,2879.0 L1700.3,2856.9 L1701.1,2835.7 L1701.8,2860.6 L1702.5,2754.9 L1703.2,2769.3 L1703.9,2745.0 L1704.6,2807.9 L1705.3,2740.6 L1706.1,2748.6 L1706.8,2691.5 L1707.5,2793.3 L1708.2,2787.7 L1708.9,2612.5 L1709.6,2849.9 L1710.3,2838.1 L1711.0,2818.5 L1711.8,2794.3 L1712.5,2834.3 L1713.2,2772.7 L1713.9,2852.1 L1714.6,2780.6 L1715.3,2823.7 L1716.0,2782.0 L1716.8,2804.8 L1717.5,2817.2 L1718.2,2843.8 L1718.9,2791.9 L1719.6,2896.0 L1720.3,2819.6 L1721.0,2781.2 L1721.8,2781.1 L1722.5,2790.3 L1723.2,2854.7 L1723.9,2908.9 L1724.6,2881.0 L1725.3,2780.4 L1726.0,2847.1 L1726.7,2794.5 L1727.5,2859.8 L1728.2,2826.8 L1728.9,2810.4 L1729.6,2925.4 L1730.3,2887.2 L1731.0,2850.5 L1731.7,2806.1 L1732.5,2809.1 L1733.2,2936.0 L1733.9,2839.6 L1734.6,2818.9 L1735.3,2817.3 L1736.0,2836.4 L1736.7,2872.5 L1737.5,2839.4 L1738.2,2859.0 L1738.9,2917.6 L1739.6,2901.3 L1740.3,2881.1 L1741.0,2882.1 L1741.7,2910.7 L1742.4,2804.5 L1743.2,2796.4 L1743.9,2788.1 L1744.6,2917.9 L1745.3,2860.1 L1746.0,2837.4 L1746.7,2803.1 L1747.4,2867.3 L1748.2,2777.8 L1748.9,2911.4 L1749.6,2831.5 L1750.3,2794.8 L1751.0,2829.9 L1751.7,2804.9 L1752.4,2752.7 L1753.2,2842.0 L1753.9,2897.2 L1754.6,2898.7 L1755.3,2871.5 L1756.0,2882.9 L1756.7,2814.1 L1757.4,2802.6 L1758.1,2806.4 L1758.9,2820.5 L1759.6,2868.5 L1760.3,2880.1 L1761.0,2876.9 L1761.7,2854.7 L1762.4,2849.7 L1763.1,2877.1 L1763.9,2908.3 L1764.6,2899.2 L1765.3,2831.3 L1766.0,2869.0 L1766.7,2849.5 L1767.4,2841.4 L1768.1,2824.5 L1768.9,2904.8 L1769.6,2850.9 L1770.3,2861.2 L1771.0,2879.6 L1771.7,2864.7 L1772.4,2856.2 L1773.1,2921.2 L1773.8,2908.5 L1774.6,2766.6 L1775.3,2923.7 L1776.0,2863.9 L1776.7,2889.9 L1777.4,2853.1 L1778.1,2865.3 L1778.8,2803.3 L1779.6,2846.0 L1780.3,2929.1 L1781.0,2838.6 L1781.7,2903.7 L1782.4,2931.2 L1783.1,2883.0 L1783.8,2800.4 L1784.6,2877.9 L1785.3,2849.9 L1786.0,2916.9 L1786.7,2791.6 L1787.4,2840.9 L1788.1,2897.7 L1788.8,2878.5 L1789.5,2781.8 L1790.3,2826.3 L1791.0,2838.0 L1791.7,2774.4 L1792.4,2907.7 L1793.1,2795.9 L1793.8,2766.6 L1794.5,2771.0 L1795.3,2784.7 L1796.0,2892.1 L1796.7,2933.2 L1797.4,2899.7 L1798.1,2842.3 L1798.8,2872.3 L1799.5,2948.3 L1800.2,2815.8 L1801.0,2843.0 L1801.7,2840.3 L1802.4,2834.3 L1803.1,2866.1 L1803.8,2846.5 L1804.5,2852.6 L1805.2,2849.3 L1806.0,2820.8 L1806.7,2842.6 L1807.4,2788.8 L1808.1,2782.0 L1808.8,2823.1 L1809.5,2795.5 L1810.2,2911.4 L1811.0,2886.6 L1811.7,2799.8 L1812.4,2740.4 L1813.1,2856.8 L1813.8,2751.2 L1814.5,2808.0 L1815.2,2847.8 L1815.9,2787.8 L1816.7,2788.2 L1817.4,2849.8 L1818.1,2835.0 L1818.8,2801.5 L1819.5,2797.4 L1820.2,2852.7 L1820.9,2904.8 L1821.7,2830.0 L1822.4,2818.5 L1823.1,2859.0 L1823.8,2810.9 L1824.5,2926.8 L1825.2,2879.1 L1825.9,2832.6 L1826.7,2792.7 L1827.4,2880.2 L1828.1,2892.4 L1828.8,2880.5 L1829.5,2804.0 L1830.2,2917.3 L1830.9,2809.9 L1831.6,2893.8 L1832.4,2861.7 L1833.1,2829.0 L1833.8,2853.2 L1834.5,2903.7 L1835.2,2957.6 L1835.9,2889.8 L1836.6,2831.3 L1837.4,2925.1 L1838.1,2905.6 L1838.8,2886.9 L1839.5,2878.2 L1840.2,2905.4 L1840.9,2885.8 L1841.6,2934.7 L1842.4,2897.9 L1843.1,2832.2 L1843.8,2856.7 L1844.5,2905.6 L1845.2,2914.7 L1845.9,2920.6 L1846.6,2901.8 L1847.3,2815.9 L1848.1,2811.6 L1848.8,2845.5 L1849.5,2902.7 L1850.2,2876.9 L1850.9,2832.0 L1851.6,2840.7 L1852.3,2882.3 L1853.1,2829.0 L1853.8,2778.9 L1854.5,2859.2 L1855.2,2914.5 L1855.9,2846.4 L1856.6,2845.2 L1857.3,2795.3 L1858.1,2856.3 L1858.8,2844.1 L1859.5,2848.7 L1860.2,2847.3 L1860.9,2813.1 L1861.6,2821.4 L1862.3,2822.0 L1863.0,2888.0 L1863.8,2918.6 L1864.5,2922.5 L1865.2,2902.2 L1865.9,2936.3 L1866.6,2901.1 L1867.3,2960.7 L1868.0,2920.9 L1868.8,2944.4 L1869.5,2917.4 L1870.2,2908.4 L1870.9,2915.3 L1871.6,2862.3 L1872.3,2885.9 L1873.0,2822.3 L1873.8,2840.7 L1874.5,2846.5 L1875.2,2802.0 L1875.9,2857.6 L1876.6,2808.4 L1877.3,2826.9 L1878.0,2920.2 L1878.7,2884.9 L1879.5,2926.8 L1880.2,2764.6 L1880.9,2757.3 L1881.6,2807.8 L1882.3,2743.3 L1883.0,2791.7 L1883.7,2744.3 L1884.5,2762.9 L1885.2,2708.0 L1885.9,2717.3 L1886.6,2909.0 L1887.3,2936.2 L1888.0,2888.1 L1888.7,2757.3 L1889.4,2759.9 L1890.2,2874.4 L1890.9,2884.6 L1891.6,2876.8 L1892.3,2848.7 L1893.0,2796.5 L1893.7,2751.1 L1894.4,2896.7 L1895.2,2778.2 L1895.9,2826.5 L1896.6,2831.8 L1897.3,2865.0 L1898.0,2846.1 L1898.7,2868.7 L1899.4,2951.4 L1900.2,2951.4 L1900.9,2923.7 L1901.6,2835.1 L1902.3,2801.4 L1903.0,2851.2 L1903.7,2951.4 L1904.4,2812.8 L1905.1,2853.3 L1905.9,2906.2 L1906.6,2948.0 L1907.3,2925.5 L1908.0,2899.9 L1908.7,2951.4 L1909.4,2883.8 L1910.1,2884.2 L1910.9,2894.9 L1911.6,2926.0 L1912.3,2868.2 L1913.0,2951.4 L1913.7,2908.0 L1914.4,2854.7 L1915.1,2884.3 L1915.9,2797.4 L1916.6,2784.3 L1917.3,2766.6 L1918.0,2882.7 L1918.7,2913.9 L1919.4,2951.4 L1920.1,2889.2 L1920.8,2861.1 L1921.6,2854.2 L1922.3,2836.5 L1923.0,2818.9 L1923.7,2801.9 L1924.4,2880.6 L1925.1,2819.4 L1925.8,2818.0 L1926.6,2823.1 L1927.3,2777.9 L1928.0,2717.3 L1928.7,2834.3 L1929.4,2731.7 L1930.1,2672.9 L1930.8,2598.9 L1931.6,2572.4 L1932.3,2726.5 L1933.0,2720.8 L1933.7,2520.1 L1934.4,2548.3 L1935.1,2667.1 L1935.8,2650.1 L1936.5,2568.5 L1937.3,2563.1 L1938.0,2701.8 L1938.7,2572.7 L1939.4,2581.7 L1940.1,2616.3 L1940.8,2616.7 L1941.5,2599.8 L1942.3,2581.3 L1943.0,2604.0 L1943.7,2644.1 L1944.4,2572.4 L1945.1,2664.9 L1945.8,2635.1 L1946.5,2654.0 L1947.3,2555.5 L1948.0,2550.9 L1948.7,2659.5 L1949.4,2629.5 L1950.1,2695.7 L1950.8,2615.6 L1951.5,2719.9 L1952.2,2759.7 L1953.0,2684.1 L1953.7,2646.4 L1954.4,2812.8 L1955.1,2678.7 L1955.8,2630.8 L1956.5,2625.8 L1957.2,2620.8 L1958.0,2711.1 L1958.7,2671.2 L1959.4,2641.6 L1960.1,2603.2 L1960.8,2633.7 L1961.5,2593.8 L1962.2,2703.4 L1963.0,2589.8 L1963.7,2662.5 L1964.4,2541.6 L1965.1,2566.2 L1965.8,2620.3 L1966.5,2645.7 L1967.2,2523.1 L1967.9,2634.1 L1968.7,2550.4 L1969.4,2590.7 L1970.1,2558.3 L1970.8,2625.7" stroke="#b447ff" stroke-width="4.4"/>
<path d="M276.0,2262.9 L276.7,2286.0 L277.4,2271.8 L278.1,2276.9 L278.9,2274.9 L279.6,2270.0 L280.3,2263.4 L281.0,2258.4 L281.7,2272.2 L282.4,2253.6 L283.1,2273.4 L283.8,2268.5 L284.6,2276.6 L285.3,2266.2 L286.0,2271.4 L286.7,2275.1 L287.4,2278.0 L288.1,2287.5 L288.8,2267.9 L289.6,2265.1 L290.3,2264.5 L291.0,2279.4 L291.7,2265.0 L292.4,2266.2 L293.1,2268.8 L293.8,2266.2 L294.6,2249.6 L295.3,2249.3 L296.0,2271.3 L296.7,2263.2 L297.4,2260.0 L298.1,2254.1 L298.8,2270.8 L299.5,2270.6 L300.3,2260.1 L301.0,2247.5 L301.7,2278.3 L302.4,2274.9 L303.1,2271.9 L303.8,2269.2 L304.5,2270.8 L305.3,2278.1 L306.0,2273.4 L306.7,2268.2 L307.4,2252.4 L308.1,2253.0 L308.8,2277.5 L309.5,2297.0 L310.3,2292.8 L311.0,2294.6 L311.7,2301.4 L312.4,2286.6 L313.1,2256.7 L313.8,2280.8 L314.5,2295.7 L315.2,2263.0 L316.0,2262.4 L316.7,2269.5 L317.4,2265.7 L318.1,2286.0 L318.8,2255.2 L319.5,2273.4 L320.2,2273.4 L321.0,2277.6 L321.7,2282.5 L322.4,2285.2 L323.1,2261.8 L323.8,2263.9 L324.5,2262.7 L325.2,2247.5 L326.0,2281.4 L326.7,2258.4 L327.4,2270.0 L328.1,2266.8 L328.8,2281.4 L329.5,2276.7 L330.2,2265.4 L330.9,2273.6 L331.7,2267.7 L332.4,2256.3 L333.1,2272.9 L333.8,2244.4 L334.5,2270.1 L335.2,2246.1 L335.9,2281.4 L336.7,2250.0 L337.4,2260.6 L338.1,2288.3 L338.8,2291.0 L339.5,2279.6 L340.2,2271.3 L340.9,2291.4 L341.7,2280.3 L342.4,2288.0 L343.1,2263.3 L343.8,2296.8 L344.5,2312.6 L345.2,2283.6 L345.9,2285.9 L346.6,2282.1 L347.4,2259.8 L348.1,2324.5 L348.8,2300.2 L349.5,2280.7 L350.2,2280.4 L350.9,2300.2 L351.6,2273.2 L352.4,2280.6 L353.1,2302.0 L353.8,2314.8 L354.5,2293.0 L355.2,2287.5 L355.9,2316.3 L356.6,2301.5 L357.4,2283.9 L358.1,2292.8 L358.8,2303.9 L359.5,2262.9 L360.2,2274.2 L360.9,2314.9 L361.6,2301.2 L362.3,2292.0 L363.1,2328.1 L363.8,2333.8 L364.5,2314.4 L365.2,2303.6 L365.9,2299.3 L366.6,2316.1 L367.3,2312.4 L368.1,2306.0 L368.8,2315.4 L369.5,2287.2 L370.2,2291.4 L370.9,2315.2 L371.6,2278.3 L372.3,2297.5 L373.0,2285.0 L373.8,2299.6 L374.5,2276.1 L375.2,2311.8 L375.9,2303.4 L376.6,2307.0 L377.3,2318.8 L378.0,2296.7 L378.8,2278.5 L379.5,2310.9 L380.2,2297.3 L380.9,2307.1 L381.6,2294.7 L382.3,2300.8 L383.0,2329.1 L383.8,2268.9 L384.5,2268.3 L385.2,2309.4 L385.9,2267.5 L386.6,2292.7 L387.3,2278.8 L388.0,2310.5 L388.7,2321.4 L389.5,2305.8 L390.2,2316.4 L390.9,2312.3 L391.6,2332.4 L392.3,2316.4 L393.0,2296.6 L393.7,2317.9 L394.5,2303.0 L395.2,2317.0 L395.9,2302.8 L396.6,2296.1 L397.3,2304.0 L398.0,2301.1 L398.7,2313.1 L399.5,2312.2 L400.2,2300.1 L400.9,2317.3 L401.6,2327.2 L402.3,2336.8 L403.0,2311.5 L403.7,2306.8 L404.4,2308.5 L405.2,2312.4 L405.9,2275.2 L406.6,2303.7 L407.3,2337.8 L408.0,2297.9 L408.7,2274.8 L409.4,2302.8 L410.2,2306.7 L410.9,2296.7 L411.6,2338.7 L412.3,2323.9 L413.0,2329.0 L413.7,2304.0 L414.4,2298.3 L415.2,2328.5 L415.9,2304.4 L416.6,2296.7 L417.3,2273.7 L418.0,2339.9 L418.7,2306.1 L419.4,2300.7 L420.1,2309.1 L420.9,2301.9 L421.6,2309.9 L422.3,2320.2 L423.0,2305.9 L423.7,2335.7 L424.4,2331.1 L425.1,2312.0 L425.9,2319.9 L426.6,2316.5 L427.3,2312.2 L428.0,2343.0 L428.7,2336.1 L429.4,2346.6 L430.1,2328.7 L430.9,2319.6 L431.6,2332.2 L432.3,2310.9 L433.0,2356.7 L433.7,2350.8 L434.4,2348.0 L435.1,2341.5 L435.8,2321.7 L436.6,2334.0 L437.3,2366.1 L438.0,2328.4 L438.7,2340.1 L439.4,2309.1 L440.1,2359.6 L440.8,2319.3 L441.6,2351.4 L442.3,2329.9 L443.0,2322.4 L443.7,2349.4 L444.4,2349.3 L445.1,2334.8 L445.8,2329.9 L446.6,2323.5 L447.3,2334.9 L448.0,2308.0 L448.7,2328.6 L449.4,2342.3 L450.1,2313.5 L450.8,2312.0 L451.5,2321.2 L452.3,2293.7 L453.0,2303.8 L453.7,2308.8 L454.4,2317.5 L455.1,2349.2 L455.8,2298.7 L456.5,2331.6 L457.3,2332.3 L458.0,2330.9 L458.7,2313.2 L459.4,2308.8 L460.1,2342.4 L460.8,2344.8 L461.5,2337.8 L462.2,2302.9 L463.0,2333.5 L463.7,2325.6 L464.4,2346.0 L465.1,2322.4 L465.8,2328.1 L466.5,2322.1 L467.2,2328.5 L468.0,2317.4 L468.7,2333.0 L469.4,2325.8 L470.1,2319.0 L470.8,2327.3 L471.5,2295.2 L472.2,2303.6 L473.0,2320.5 L473.7,2343.0 L474.4,2307.9 L475.1,2342.8 L475.8,2309.3 L476.5,2306.1 L477.2,2298.3 L477.9,2298.7 L478.7,2315.5 L479.4,2323.5 L480.1,2328.4 L480.8,2332.3 L481.5,2327.3 L482.2,2345.8 L482.9,2301.4 L483.7,2344.7 L484.4,2337.7 L485.1,2343.6 L485.8,2344.0 L486.5,2340.5 L487.2,2312.8 L487.9,2346.8 L488.7,2380.0 L489.4,2354.8 L490.1,2347.6 L490.8,2356.6 L491.5,2359.6 L492.2,2389.2 L492.9,2357.3 L493.6,2338.4 L494.4,2351.6 L495.1,2327.6 L495.8,2355.4 L496.5,2359.5 L497.2,2352.8 L497.9,2328.4 L498.6,2337.0 L499.4,2333.1 L500.1,2346.7 L500.8,2344.8 L501.5,2364.3 L502.2,2349.5 L502.9,2326.7 L503.6,2321.1 L504.4,2358.4 L505.1,2334.0 L505.8,2316.8 L506.5,2317.3 L507.2,2327.5 L507.9,2330.7 L508.6,2336.2 L509.3,2355.3 L510.1,2345.9 L510.8,2358.5 L511.5,2330.8 L512.2,2345.1 L512.9,2329.8 L513.6,2331.4 L514.3,2339.0 L515.1,2345.1 L515.8,2391.5 L516.5,2324.0 L517.2,2395.4 L517.9,2363.3 L518.6,2371.9 L519.3,2326.1 L520.1,2328.8 L520.8,2357.4 L521.5,2326.9 L522.2,2354.9 L522.9,2353.8 L523.6,2363.9 L524.3,2362.9 L525.0,2327.5 L525.8,2362.1 L526.5,2390.5 L527.2,2367.7 L527.9,2355.9 L528.6,2322.7 L529.3,2359.7 L530.0,2345.4 L530.8,2314.1 L531.5,2345.9 L532.2,2312.2 L532.9,2387.7 L533.6,2371.7 L534.3,2348.3 L535.0,2361.3 L535.8,2337.5 L536.5,2328.5 L537.2,2336.7 L537.9,2342.1 L538.6,2336.0 L539.3,2324.3 L540.0,2349.0 L540.7,2329.7 L541.5,2327.6 L542.2,2358.4 L542.9,2349.5 L543.6,2321.9 L544.3,2336.0 L545.0,2348.9 L545.7,2355.4 L546.5,2338.6 L547.2,2338.2 L547.9,2347.3 L548.6,2342.4 L549.3,2351.7 L550.0,2307.6 L550.7,2308.9 L551.4,2310.0 L552.2,2326.9 L552.9,2340.5 L553.6,2359.0 L554.3,2346.4 L555.0,2373.0 L555.7,2362.9 L556.4,2332.6 L557.2,2318.1 L557.9,2383.1 L558.6,2347.3 L559.3,2343.4 L560.0,2376.0 L560.7,2378.1 L561.4,2378.5 L562.2,2367.9 L562.9,2326.1 L563.6,2359.5 L564.3,2342.6 L565.0,2344.3 L565.7,2345.7 L566.4,2364.2 L567.1,2324.9 L567.9,2361.6 L568.6,2378.4 L569.3,2364.0 L570.0,2358.6 L570.7,2345.5 L571.4,2364.0 L572.1,2379.2 L572.9,2352.5 L573.6,2372.8 L574.3,2345.5 L575.0,2323.0 L575.7,2343.5 L576.4,2323.1 L577.1,2350.5 L577.9,2392.3 L578.6,2352.7 L579.3,2329.2 L580.0,2323.5 L580.7,2323.7 L581.4,2343.5 L582.1,2349.7 L582.8,2348.3 L583.6,2343.7 L584.3,2365.3 L585.0,2349.8 L585.7,2356.4 L586.4,2364.6 L587.1,2353.5 L587.8,2331.3 L588.6,2380.0 L589.3,2352.1 L590.0,2344.0 L590.7,2324.5 L591.4,2361.3 L592.1,2365.2 L592.8,2360.2 L593.6,2379.2 L594.3,2334.6 L595.0,2361.1 L595.7,2367.6 L596.4,2353.3 L597.1,2334.5 L597.8,2329.6 L598.5,2360.3 L599.3,2335.6 L600.0,2344.3 L600.7,2348.9 L601.4,2368.0 L602.1,2324.5 L602.8,2334.9 L603.5,2346.8 L604.3,2350.3 L605.0,2361.1 L605.7,2346.0 L606.4,2345.0 L607.1,2376.9 L607.8,2372.1 L608.5,2347.3 L609.3,2324.5 L610.0,2330.5 L610.7,2334.9 L611.4,2365.2 L612.1,2353.1 L612.8,2322.5 L613.5,2350.4 L614.2,2338.9 L615.0,2335.8 L615.7,2366.3 L616.4,2344.2 L617.1,2353.2 L617.8,2319.9 L618.5,2347.8 L619.2,2379.5 L620.0,2354.3 L620.7,2361.4 L621.4,2377.3 L622.1,2358.6 L622.8,2344.9 L623.5,2351.3 L624.2,2356.3 L625.0,2336.8 L625.7,2363.6 L626.4,2363.0 L627.1,2390.8 L627.8,2351.1 L628.5,2366.0 L629.2,2335.3 L629.9,2395.3 L630.7,2354.4 L631.4,2362.0 L632.1,2336.1 L632.8,2377.9 L633.5,2351.8 L634.2,2375.8 L634.9,2336.8 L635.7,2404.6 L636.4,2410.6 L637.1,2379.4 L637.8,2364.2 L638.5,2401.0 L639.2,2350.5 L639.9,2376.4 L640.6,2397.6 L641.4,2361.0 L642.1,2368.4 L642.8,2376.3 L643.5,2417.7 L644.2,2367.6 L644.9,2388.9 L645.6,2408.9 L646.4,2434.4 L647.1,2411.0 L647.8,2472.4 L648.5,2425.3 L649.2,2416.4 L649.9,2395.5 L650.6,2404.8 L651.4,2439.4 L652.1,2427.8 L652.8,2432.3 L653.5,2418.8 L654.2,2438.7 L654.9,2392.3 L655.6,2418.0 L656.3,2418.9 L657.1,2408.4 L657.8,2388.8 L658.5,2463.2 L659.2,2445.7 L659.9,2470.6 L660.6,2385.0 L661.3,2406.0 L662.1,2400.8 L662.8,2444.1 L663.5,2394.9 L664.2,2380.0 L664.9,2444.2 L665.6,2497.1 L666.3,2430.7 L667.1,2489.8 L667.8,2466.9 L668.5,2407.5 L669.2,2501.4 L669.9,2422.6 L670.6,2442.3 L671.3,2407.9 L672.0,2430.1 L672.8,2436.5 L673.5,2386.1 L674.2,2529.4 L674.9,2393.8 L675.6,2442.6 L676.3,2445.5 L677.0,2384.7 L677.8,2447.3 L678.5,2452.2 L679.2,2494.4 L679.9,2514.2 L680.6,2483.9 L681.3,2493.4 L682.0,2459.4 L682.8,2435.0 L683.5,2405.0 L684.2,2381.5 L684.9,2503.2 L685.6,2383.7 L686.3,2442.8 L687.0,2486.3 L687.7,2471.2 L688.5,2482.5 L689.2,2432.1 L689.9,2413.6 L690.6,2433.2 L691.3,2448.9 L692.0,2435.0 L692.7,2481.0 L693.5,2458.8 L694.2,2430.2 L694.9,2401.5 L695.6,2457.3 L696.3,2464.8 L697.0,2469.6 L697.7,2438.5 L698.5,2466.2 L699.2,2464.1 L699.9,2465.8 L700.6,2411.6 L701.3,2414.5 L702.0,2412.1 L702.7,2447.8 L703.4,2439.2 L704.2,2392.3 L704.9,2435.5 L705.6,2394.8 L706.3,2396.4 L707.0,2398.5 L707.7,2435.7 L708.4,2447.1 L709.2,2462.0 L709.9,2404.6 L710.6,2463.2 L711.3,2455.8 L712.0,2473.2 L712.7,2465.3 L713.4,2488.4 L714.2,2443.1 L714.9,2421.5 L715.6,2435.6 L716.3,2442.6 L717.0,2430.4 L717.7,2503.8 L718.4,2495.1 L719.1,2461.6 L719.9,2459.4 L720.6,2432.3 L721.3,2489.3 L722.0,2563.9 L722.7,2473.6 L723.4,2472.8 L724.1,2405.4 L724.9,2474.9 L725.6,2399.0 L726.3,2503.8 L727.0,2469.8 L727.7,2447.2 L728.4,2488.1 L729.1,2485.5 L729.8,2458.3 L730.6,2449.1 L731.3,2516.1 L732.0,2451.7 L732.7,2451.5 L733.4,2471.3 L734.1,2466.1 L734.8,2455.0 L735.6,2479.9 L736.3,2487.4 L737.0,2510.6 L737.7,2493.5 L738.4,2478.1 L739.1,2481.6 L739.8,2442.8 L740.6,2432.9 L741.3,2525.4 L742.0,2474.6 L742.7,2531.1 L743.4,2470.5 L744.1,2485.5 L744.8,2484.3 L745.5,2497.8 L746.3,2471.9 L747.0,2465.5 L747.7,2546.9 L748.4,2486.8 L749.1,2510.8 L749.8,2472.7 L750.5,2477.7 L751.3,2420.6 L752.0,2428.3 L752.7,2457.6 L753.4,2450.4 L754.1,2418.5 L754.8,2417.9 L755.5,2470.1 L756.3,2448.7 L757.0,2479.1 L757.7,2439.3 L758.4,2447.7 L759.1,2503.8 L759.8,2449.9 L760.5,2412.9 L761.2,2439.6 L762.0,2460.8 L762.7,2457.8 L763.4,2479.0 L764.1,2459.6 L764.8,2420.8 L765.5,2423.0 L766.2,2479.1 L767.0,2460.0 L767.7,2475.4 L768.4,2429.6 L769.1,2467.6 L769.8,2517.7 L770.5,2449.8 L771.2,2434.2 L772.0,2432.9 L772.7,2469.3 L773.4,2440.5 L774.1,2448.4 L774.8,2478.4 L775.5,2457.3 L776.2,2459.3 L776.9,2499.2 L777.7,2453.4 L778.4,2453.8 L779.1,2493.4 L779.8,2456.5 L780.5,2412.9 L781.2,2460.8 L781.9,2493.7 L782.7,2510.0 L783.4,2469.8 L784.1,2489.2 L784.8,2510.7 L785.5,2515.9 L786.2,2500.5 L786.9,2494.1 L787.7,2461.5 L788.4,2511.0 L789.1,2472.7 L789.8,2436.0 L790.5,2446.1 L791.2,2462.8 L791.9,2495.0 L792.6,2458.5 L793.4,2510.1 L794.1,2447.4 L794.8,2537.7 L795.5,2497.8 L796.2,2445.1 L796.9,2484.4 L797.6,2455.8 L798.4,2433.8 L799.1,2433.6 L799.8,2471.0 L800.5,2510.6 L801.2,2432.9 L801.9,2461.6 L802.6,2510.1 L803.4,2471.9 L804.1,2505.5 L804.8,2445.2 L805.5,2518.7 L806.2,2518.0 L806.9,2543.9 L807.6,2455.2 L808.3,2457.8 L809.1,2537.5 L809.8,2498.1 L810.5,2514.3 L811.2,2496.9 L811.9,2469.9 L812.6,2507.6 L813.3,2516.7 L814.1,2484.3 L814.8,2489.2 L815.5,2509.5 L816.2,2498.0 L816.9,2502.4 L817.6,2546.9 L818.3,2486.3 L819.0,2507.4 L819.8,2449.1 L820.5,2512.1 L821.2,2520.4 L821.9,2514.9 L822.6,2442.2 L823.3,2471.0 L824.0,2526.0 L824.8,2462.5 L825.5,2481.3 L826.2,2492.9 L826.9,2474.0 L827.6,2494.0 L828.3,2513.6 L829.0,2481.3 L829.8,2551.2 L830.5,2556.2 L831.2,2508.8 L831.9,2536.2 L832.6,2529.1 L833.3,2515.8 L834.0,2520.6 L834.7,2480.3 L835.5,2524.0 L836.2,2462.5 L836.9,2456.0 L837.6,2489.3 L838.3,2485.1 L839.0,2482.2 L839.7,2440.6 L840.5,2511.1 L841.2,2534.6 L841.9,2487.9 L842.6,2457.1 L843.3,2468.7 L844.0,2506.7 L844.7,2489.8 L845.5,2473.0 L846.2,2521.5 L846.9,2442.2 L847.6,2489.0 L848.3,2482.8 L849.0,2475.3 L849.7,2483.6 L850.4,2493.2 L851.2,2461.0 L851.9,2562.4 L852.6,2490.3 L853.3,2487.8 L854.0,2504.1 L854.7,2504.9 L855.4,2478.3 L856.2,2491.0 L856.9,2489.9 L857.6,2532.2 L858.3,2471.8 L859.0,2519.4 L859.7,2546.6 L860.4,2492.4 L861.2,2460.7 L861.9,2471.9 L862.6,2466.2 L863.3,2508.2 L864.0,2478.4 L864.7,2460.1 L865.4,2488.8 L866.1,2507.6 L866.9,2480.9 L867.6,2451.3 L868.3,2486.8 L869.0,2557.7 L869.7,2479.7 L870.4,2492.8 L871.1,2462.8 L871.9,2483.6 L872.6,2481.9 L873.3,2542.3 L874.0,2472.2 L874.7,2518.7 L875.4,2439.1 L876.1,2463.0 L876.9,2490.4 L877.6,2472.7 L878.3,2528.5 L879.0,2505.7 L879.7,2548.4 L880.4,2545.9 L881.1,2564.4 L881.8,2544.0 L882.6,2580.3 L883.3,2582.5 L884.0,2532.3 L884.7,2517.2 L885.4,2453.0 L886.1,2614.7 L886.8,2495.6 L887.6,2516.7 L888.3,2580.2 L889.0,2551.1 L889.7,2589.9 L890.4,2612.7 L891.1,2580.8 L891.8,2503.8 L892.6,2539.1 L893.3,2615.2 L894.0,2644.0 L894.7,2582.0 L895.4,2516.1 L896.1,2557.4 L896.8,2566.1 L897.5,2511.5 L898.3,2525.8 L899.0,2516.0 L899.7,2549.4 L900.4,2594.2 L901.1,2544.0 L901.8,2583.1 L902.5,2526.8 L903.3,2555.7 L904.0,2553.6 L904.7,2578.5 L905.4,2522.3 L906.1,2623.7 L906.8,2591.6 L907.5,2618.1 L908.2,2538.3 L909.0,2583.1 L909.7,2549.7 L910.4,2634.8 L911.1,2575.8 L911.8,2548.9 L912.5,2585.5 L913.2,2589.5 L914.0,2580.9 L914.7,2613.3 L915.4,2590.4 L916.1,2543.9 L916.8,2567.2 L917.5,2606.9 L918.2,2573.4 L919.0,2595.3 L919.7,2636.3 L920.4,2565.4 L921.1,2554.6 L921.8,2626.3 L922.5,2631.7 L923.2,2613.4 L923.9,2594.8 L924.7,2625.6 L925.4,2539.2 L926.1,2645.7 L926.8,2599.5 L927.5,2588.9 L928.2,2648.6 L928.9,2589.4 L929.7,2592.4 L930.4,2625.1 L931.1,2600.1 L931.8,2614.5 L932.5,2644.5 L933.2,2643.9 L933.9,2629.1 L934.7,2599.1 L935.4,2641.0 L936.1,2573.0 L936.8,2562.8 L937.5,2564.4 L938.2,2565.4 L938.9,2639.4 L939.6,2597.1 L940.4,2598.5 L941.1,2617.4 L941.8,2569.7 L942.5,2605.5 L943.2,2611.4 L943.9,2612.8 L944.6,2583.1 L945.4,2586.9 L946.1,2582.4 L946.8,2606.3 L947.5,2611.7 L948.2,2600.4 L948.9,2565.4 L949.6,2595.9 L950.4,2622.2 L951.1,2606.6 L951.8,2610.7 L952.5,2619.9 L953.2,2651.0 L953.9,2639.2 L954.6,2623.1 L955.3,2679.4 L956.1,2655.6 L956.8,2631.6 L957.5,2650.6 L958.2,2679.4 L958.9,2663.5 L959.6,2643.3 L960.3,2654.6 L961.1,2627.7 L961.8,2607.0 L962.5,2672.9 L963.2,2679.4 L963.9,2596.2 L964.6,2646.4 L965.3,2597.4 L966.1,2679.4 L966.8,2653.8 L967.5,2638.9 L968.2,2661.9 L968.9,2615.9 L969.6,2638.7 L970.3,2625.3 L971.0,2632.9 L971.8,2612.6 L972.5,2623.9 L973.2,2605.5 L973.9,2629.8 L974.6,2620.3 L975.3,2654.8 L976.0,2616.9 L976.8,2629.2 L977.5,2634.0 L978.2,2628.2 L978.9,2649.2 L979.6,2642.2 L980.3,2653.6 L981.0,2608.5 L981.8,2616.4 L982.5,2560.8 L983.2,2657.9 L983.9,2644.1 L984.6,2611.9 L985.3,2633.4 L986.0,2628.5 L986.7,2654.3 L987.5,2690.2 L988.2,2677.9 L988.9,2589.3 L989.6,2606.3 L990.3,2596.2 L991.0,2636.2 L991.7,2657.9 L992.5,2623.3 L993.2,2618.6 L993.9,2608.6 L994.6,2606.9 L995.3,2653.8 L996.0,2602.4 L996.7,2665.6 L997.4,2636.1 L998.2,2615.5 L998.9,2624.6 L999.6,2629.9 L1000.3,2598.4 L1001.0,2583.9 L1001.7,2637.3 L1002.4,2610.1 L1003.2,2649.8 L1003.9,2631.3 L1004.6,2587.3 L1005.3,2628.5 L1006.0,2625.5 L1006.7,2641.6 L1007.4,2628.5 L1008.2,2631.0 L1008.9,2631.0 L1009.6,2624.8 L1010.3,2656.8 L1011.0,2656.4 L1011.7,2655.9 L1012.4,2646.0 L1013.1,2596.2 L1013.9,2654.8 L1014.6,2633.4 L1015.3,2650.7 L1016.0,2621.4 L1016.7,2624.3 L1017.4,2623.8 L1018.1,2600.8 L1018.9,2615.0 L1019.6,2619.7 L1020.3,2614.8 L1021.0,2601.7 L1021.7,2629.7 L1022.4,2620.1 L1023.1,2603.3 L1023.9,2604.8 L1024.6,2642.5 L1025.3,2604.8 L1026.0,2605.3 L1026.7,2609.3 L1027.4,2632.7 L1028.1,2644.5 L1028.8,2626.1 L1029.6,2644.2 L1030.3,2608.6 L1031.0,2608.0 L1031.7,2613.6 L1032.4,2633.1 L1033.1,2650.1 L1033.8,2677.9 L1034.6,2608.1 L1035.3,2599.3 L1036.0,2675.8 L1036.7,2642.8 L1037.4,2636.6 L1038.1,2637.2 L1038.8,2605.2 L1039.6,2675.6 L1040.3,2646.2 L1041.0,2655.3 L1041.7,2639.3 L1042.4,2619.1 L1043.1,2634.4 L1043.8,2626.1 L1044.5,2605.3 L1045.3,2580.8 L1046.0,2628.0 L1046.7,2585.7 L1047.4,2587.7 L1048.1,2599.6 L1048.8,2619.4 L1049.5,2606.6 L1050.3,2605.5 L1051.0,2632.0 L1051.7,2670.2 L1052.4,2628.9 L1053.1,2642.0 L1053.8,2641.4 L1054.5,2655.0 L1055.3,2661.7 L1056.0,2632.0 L1056.7,2660.7 L1057.4,2657.1 L1058.1,2617.8 L1058.8,2645.0 L1059.5,2662.7 L1060.2,2653.2 L1061.0,2653.4 L1061.7,2624.4 L1062.4,2635.0 L1063.1,2620.9 L1063.8,2622.8 L1064.5,2657.9 L1065.2,2641.7 L1066.0,2651.4 L1066.7,2643.4 L1067.4,2662.4 L1068.1,2659.0 L1068.8,2620.9 L1069.5,2656.1 L1070.2,2651.8 L1071.0,2642.6 L1071.7,2641.2 L1072.4,2649.1 L1073.1,2654.6 L1073.8,2668.3 L1074.5,2673.1 L1075.2,2665.3 L1075.9,2659.8 L1076.7,2639.9 L1077.4,2625.1 L1078.1,2642.3 L1078.8,2653.1 L1079.5,2681.0 L1080.2,2679.1 L1080.9,2627.1 L1081.7,2675.5 L1082.4,2675.9 L1083.1,2680.3 L1083.8,2678.4 L1084.5,2670.0 L1085.2,2677.1 L1085.9,2633.7 L1086.6,2618.5 L1087.4,2679.3 L1088.1,2681.1 L1088.8,2702.5 L1089.5,2655.2 L1090.2,2674.4 L1090.9,2652.3 L1091.6,2665.4 L1092.4,2646.8 L1093.1,2587.0 L1093.8,2697.5 L1094.5,2615.8 L1095.2,2607.3 L1095.9,2673.3 L1096.6,2658.1 L1097.4,2592.1 L1098.1,2681.5 L1098.8,2620.3 L1099.5,2661.5 L1100.2,2634.1 L1100.9,2678.7 L1101.6,2708.7 L1102.3,2644.5 L1103.1,2607.2 L1103.8,2647.3 L1104.5,2609.3 L1105.2,2642.7 L1105.9,2623.7 L1106.6,2622.0 L1107.3,2603.9 L1108.1,2672.5 L1108.8,2652.0 L1109.5,2645.8 L1110.2,2649.3 L1110.9,2682.5 L1111.6,2630.9 L1112.3,2640.0 L1113.1,2629.4 L1113.8,2643.1 L1114.5,2640.6 L1115.2,2651.8 L1115.9,2644.4 L1116.6,2676.3 L1117.3,2641.6 L1118.0,2679.8 L1118.8,2671.3 L1119.5,2636.3 L1120.2,2665.3 L1120.9,2652.0 L1121.6,2659.0 L1122.3,2673.7 L1123.0,2685.6 L1123.8,2676.5 L1124.5,2655.1 L1125.2,2634.5 L1125.9,2649.9 L1126.6,2653.8 L1127.3,2671.3 L1128.0,2636.1 L1128.8,2660.1 L1129.5,2661.2 L1130.2,2652.1 L1130.9,2678.1 L1131.6,2702.8 L1132.3,2664.2 L1133.0,2700.4 L1133.7,2664.6 L1134.5,2708.7 L1135.2,2678.4 L1135.9,2661.9 L1136.6,2668.4 L1137.3,2630.5 L1138.0,2630.1 L1138.7,2667.9 L1139.5,2686.9 L1140.2,2668.8 L1140.9,2661.3 L1141.6,2661.2 L1142.3,2682.2 L1143.0,2664.1 L1143.7,2657.6 L1144.5,2682.8 L1145.2,2651.5 L1145.9,2670.7 L1146.6,2685.1 L1147.3,2677.5 L1148.0,2675.2 L1148.7,2664.2 L1149.4,2674.6 L1150.2,2642.5 L1150.9,2688.7 L1151.6,2679.5 L1152.3,2678.9 L1153.0,2726.8 L1153.7,2687.8 L1154.4,2693.3 L1155.2,2726.8 L1155.9,2666.7 L1156.6,2673.8 L1157.3,2686.6 L1158.0,2702.4 L1158.7,2705.5 L1159.4,2694.1 L1160.2,2715.3 L1160.9,2658.3 L1161.6,2701.8 L1162.3,2737.5 L1163.0,2676.6 L1163.7,2639.2 L1164.4,2711.2 L1165.1,2631.2 L1165.9,2722.1 L1166.6,2663.7 L1167.3,2698.9 L1168.0,2697.7 L1168.7,2696.2 L1169.4,2658.2 L1170.1,2719.5 L1170.9,2712.1 L1171.6,2680.8 L1172.3,2690.1 L1173.0,2700.3 L1173.7,2694.2 L1174.4,2719.0 L1175.1,2696.9 L1175.8,2679.0 L1176.6,2701.9 L1177.3,2702.4 L1178.0,2692.3 L1178.7,2695.1 L1179.4,2686.5 L1180.1,2675.9 L1180.8,2691.1 L1181.6,2705.7 L1182.3,2677.2 L1183.0,2656.7 L1183.7,2663.1 L1184.4,2678.9 L1185.1,2704.0 L1185.8,2701.3 L1186.6,2686.2 L1187.3,2643.6 L1188.0,2684.2 L1188.7,2727.7 L1189.4,2710.0 L1190.1,2729.8 L1190.8,2725.8 L1191.5,2723.5 L1192.3,2658.8 L1193.0,2669.3 L1193.7,2697.3 L1194.4,2702.0 L1195.1,2681.7 L1195.8,2688.4 L1196.5,2708.5 L1197.3,2694.6 L1198.0,2675.2 L1198.7,2706.6 L1199.4,2679.0 L1200.1,2746.8 L1200.8,2725.7 L1201.5,2770.4 L1202.3,2714.9 L1203.0,2711.7 L1203.7,2733.0 L1204.4,2682.8 L1205.1,2805.3 L1205.8,2741.6 L1206.5,2787.4 L1207.2,2729.0 L1208.0,2734.2 L1208.7,2739.2 L1209.4,2732.2 L1210.1,2749.9 L1210.8,2736.6 L1211.5,2688.2 L1212.2,2746.3 L1213.0,2745.6 L1213.7,2710.0 L1214.4,2714.1 L1215.1,2704.5 L1215.8,2719.9 L1216.5,2749.9 L1217.2,2714.7 L1218.0,2698.1 L1218.7,2746.5 L1219.4,2755.9 L1220.1,2712.9 L1220.8,2694.8 L1221.5,2688.5 L1222.2,2682.1 L1222.9,2706.3 L1223.7,2687.8 L1224.4,2718.1 L1225.1,2748.4 L1225.8,2773.1 L1226.5,2749.3 L1227.2,2759.8 L1227.9,2802.5 L1228.7,2805.3 L1229.4,2740.4 L1230.1,2800.5 L1230.8,2738.1 L1231.5,2703.7 L1232.2,2766.0 L1232.9,2734.2 L1233.7,2743.6 L1234.4,2776.1 L1235.1,2745.9 L1235.8,2736.0 L1236.5,2780.7 L1237.2,2760.6 L1237.9,2702.7 L1238.6,2737.6 L1239.4,2756.8 L1240.1,2725.7 L1240.8,2740.2 L1241.5,2727.6 L1242.2,2697.5 L1242.9,2738.5 L1243.6,2730.8 L1244.4,2731.4 L1245.1,2698.0 L1245.8,2698.1 L1246.5,2724.7 L1247.2,2768.3 L1247.9,2722.8 L1248.6,2719.6 L1249.4,2698.9 L1250.1,2711.8 L1250.8,2727.2 L1251.5,2733.2 L1252.2,2731.1 L1252.9,2714.1 L1253.6,2726.1 L1254.3,2728.7 L1255.1,2719.8 L1255.8,2723.7 L1256.5,2723.5 L1257.2,2731.5 L1257.9,2700.6 L1258.6,2749.7 L1259.3,2759.1 L1260.1,2723.2 L1260.8,2706.7 L1261.5,2724.3 L1262.2,2713.1 L1262.9,2750.6 L1263.6,2706.3 L1264.3,2709.6 L1265.0,2760.6 L1265.8,2780.7 L1266.5,2771.1 L1267.2,2775.7 L1267.9,2737.9 L1268.6,2776.7 L1269.3,2729.1 L1270.0,2782.5 L1270.8,2831.5 L1271.5,2779.5 L1272.2,2764.6 L1272.9,2716.0 L1273.6,2774.7 L1274.3,2738.8 L1275.0,2747.7 L1275.8,2749.4 L1276.5,2793.0 L1277.2,2728.0 L1277.9,2738.8 L1278.6,2756.0 L1279.3,2779.9 L1280.0,2759.7 L1280.7,2762.2 L1281.5,2748.4 L1282.2,2786.1 L1282.9,2755.1 L1283.6,2779.1 L1284.3,2753.0 L1285.0,2780.9 L1285.7,2700.6 L1286.5,2805.3 L1287.2,2773.6 L1287.9,2740.5 L1288.6,2810.0 L1289.3,2781.4 L1290.0,2761.9 L1290.7,2780.4 L1291.5,2768.6 L1292.2,2817.7 L1292.9,2794.8 L1293.6,2714.4 L1294.3,2717.6 L1295.0,2748.3 L1295.7,2748.3 L1296.4,2821.0 L1297.2,2827.0 L1297.9,2828.4 L1298.6,2779.7 L1299.3,2742.6 L1300.0,2820.5 L1300.7,2719.0 L1301.4,2745.5 L1302.2,2751.6 L1302.9,2748.2 L1303.6,2720.5 L1304.3,2749.7 L1305.0,2759.7 L1305.7,2768.7 L1306.4,2725.5 L1307.2,2722.5 L1307.9,2763.3 L1308.6,2814.6 L1309.3,2753.2 L1310.0,2733.8 L1310.7,2749.9 L1311.4,2770.9 L1312.1,2779.0 L1312.9,2755.9 L1313.6,2766.9 L1314.3,2765.5 L1315.0,2726.8 L1315.7,2824.1 L1316.4,2787.3 L1317.1,2826.1 L1317.9,2798.4 L1318.6,2833.1 L1319.3,2833.4 L1320.0,2827.1 L1320.7,2830.9 L1321.4,2807.3 L1322.1,2775.3 L1322.9,2759.1 L1323.6,2825.6 L1324.3,2756.6 L1325.0,2848.0 L1325.7,2789.8 L1326.4,2795.3 L1327.1,2776.7 L1327.8,2807.9 L1328.6,2829.2 L1329.3,2800.7 L1330.0,2859.7 L1330.7,2831.7 L1331.4,2837.5 L1332.1,2863.9 L1332.8,2774.2 L1333.6,2780.3 L1334.3,2782.1 L1335.0,2841.1 L1335.7,2785.5 L1336.4,2739.1 L1337.1,2786.4 L1337.8,2760.1 L1338.6,2840.6 L1339.3,2810.5 L1340.0,2768.4 L1340.7,2796.4 L1341.4,2844.9 L1342.1,2827.4 L1342.8,2865.4 L1343.5,2834.3 L1344.3,2833.3 L1345.0,2835.4 L1345.7,2838.4 L1346.4,2873.4 L1347.1,2787.9 L1347.8,2824.4 L1348.5,2804.3 L1349.3,2843.9 L1350.0,2765.3 L1350.7,2814.2 L1351.4,2791.7 L1352.1,2828.4 L1352.8,2837.0 L1353.5,2843.8 L1354.2,2772.5 L1355.0,2835.3 L1355.7,2893.1 L1356.4,2807.0 L1357.1,2805.2 L1357.8,2764.1 L1358.5,2802.5 L1359.2,2814.9 L1360.0,2838.1 L1360.7,2764.6 L1361.4,2790.1 L1362.1,2762.5 L1362.8,2787.0 L1363.5,2774.0 L1364.2,2759.1 L1365.0,2790.8 L1365.7,2854.6 L1366.4,2853.0 L1367.1,2797.3 L1367.8,2792.6 L1368.5,2835.0 L1369.2,2800.3 L1369.9,2850.0 L1370.7,2815.1 L1371.4,2812.2 L1372.1,2805.7 L1372.8,2835.0 L1373.5,2818.0 L1374.2,2812.4 L1374.9,2799.7 L1375.7,2823.2 L1376.4,2800.9 L1377.1,2822.5 L1377.8,2789.9 L1378.5,2819.8 L1379.2,2891.6 L1379.9,2830.3 L1380.7,2812.0 L1381.4,2818.1 L1382.1,2884.0 L1382.8,2843.0 L1383.5,2836.1 L1384.2,2831.0 L1384.9,2908.0 L1385.6,2811.6 L1386.4,2795.2 L1387.1,2851.1 L1387.8,2796.1 L1388.5,2925.5 L1389.2,2840.2 L1389.9,2895.4 L1390.6,2851.2 L1391.4,2870.7 L1392.1,2918.8 L1392.8,2927.1 L1393.5,2873.7 L1394.2,2922.5 L1394.9,2800.7 L1395.6,2914.4 L1396.4,2818.2 L1397.1,2858.1 L1397.8,2914.6 L1398.5,2881.1 L1399.2,2873.6 L1399.9,2930.1 L1400.6,2909.2 L1401.3,2904.1 L1402.1,2853.1 L1402.8,2881.4 L1403.5,2891.4 L1404.2,2820.5 L1404.9,2822.0 L1405.6,2823.8 L1406.3,2914.7 L1407.1,2897.2 L1407.8,2888.9 L1408.5,2875.2 L1409.2,2880.1 L1409.9,2903.9 L1410.6,2904.0 L1411.3,2877.3 L1412.1,2900.8 L1412.8,2860.0 L1413.5,2876.8 L1414.2,2828.8 L1414.9,2850.6 L1415.6,2814.1 L1416.3,2823.5 L1417.0,2839.2 L1417.8,2799.2 L1418.5,2831.7 L1419.2,2920.2 L1419.9,2888.9 L1420.6,2895.5 L1421.3,2925.5 L1422.0,2876.9 L1422.8,2912.3 L1423.5,2884.5 L1424.2,2881.0 L1424.9,2880.4 L1425.6,2888.3 L1426.3,2883.6 L1427.0,2845.4 L1427.8,2875.0 L1428.5,2859.0 L1429.2,2885.0 L1429.9,2915.9 L1430.6,2919.3 L1431.3,2901.1 L1432.0,2894.4 L1432.7,2901.8 L1433.5,2893.7 L1434.2,2900.4 L1434.9,2843.8 L1435.6,2867.7 L1436.3,2869.6 L1437.0,2851.1 L1437.7,2904.4 L1438.5,2901.4 L1439.2,2893.7 L1439.9,2904.6 L1440.6,2885.9 L1441.3,2934.7 L1442.0,2915.9 L1442.7,2883.8 L1443.4,2933.2 L1444.2,2872.6 L1444.9,2867.0 L1445.6,2906.3 L1446.3,2932.7 L1447.0,2896.4 L1447.7,2909.9 L1448.4,2845.0 L1449.2,2931.7 L1449.9,2854.6 L1450.6,2869.0 L1451.3,2905.7 L1452.0,2867.4 L1452.7,2845.4 L1453.4,2883.1 L1454.2,2911.7 L1454.9,2974.8 L1455.6,2937.5 L1456.3,2896.5 L1457.0,2900.9 L1457.7,2853.2 L1458.4,2854.4 L1459.1,2868.9 L1459.9,2882.6 L1460.6,2896.7 L1461.3,2931.7 L1462.0,2905.0 L1462.7,2861.3 L1463.4,2883.8 L1464.1,2863.9 L1464.9,2881.1 L1465.6,2856.7 L1466.3,2869.7 L1467.0,2882.7 L1467.7,2916.2 L1468.4,2878.9 L1469.1,2857.8 L1469.9,2904.9 L1470.6,2858.2 L1471.3,2857.9 L1472.0,2904.3 L1472.7,2816.1 L1473.4,2886.0 L1474.1,2880.5 L1474.8,2873.2 L1475.6,2914.5 L1476.3,2885.6 L1477.0,2907.3 L1477.7,2882.3 L1478.4,2916.0 L1479.1,2929.2 L1479.8,2912.1 L1480.6,2880.3 L1481.3,2885.4 L1482.0,2956.3 L1482.7,2924.9 L1483.4,2918.9 L1484.1,2905.8 L1484.8,2906.3 L1485.6,2937.3 L1486.3,2901.3 L1487.0,2913.1 L1487.7,2931.2 L1488.4,2941.0 L1489.1,2925.1 L1489.8,2885.2 L1490.5,2873.1 L1491.3,2909.8 L1492.0,2871.4 L1492.7,2914.6 L1493.4,2895.9 L1494.1,2928.9 L1494.8,2903.5 L1495.5,2873.8 L1496.3,2883.6 L1497.0,2947.1 L1497.7,2890.5 L1498.4,2870.1 L1499.1,2917.2 L1499.8,2862.4 L1500.5,2877.4 L1501.3,2860.8 L1502.0,2907.8 L1502.7,2898.9 L1503.4,2882.8 L1504.1,2857.9 L1504.8,2883.8 L1505.5,2880.6 L1506.2,2890.3 L1507.0,2907.1 L1507.7,2940.9 L1508.4,2896.5 L1509.1,2924.3 L1509.8,2941.4 L1510.5,2851.5 L1511.2,2896.0 L1512.0,2852.4 L1512.7,2903.5 L1513.4,2858.8 L1514.1,2942.2 L1514.8,2895.6 L1515.5,2873.5 L1516.2,2902.9 L1517.0,2875.3 L1517.7,2865.6 L1518.4,2910.9 L1519.1,2883.4 L1519.8,2907.9 L1520.5,2895.7 L1521.2,2928.6 L1521.9,2900.2 L1522.7,2944.0 L1523.4,2909.0 L1524.1,2859.7 L1524.8,2876.6 L1525.5,2860.5 L1526.2,2860.8 L1526.9,2862.0 L1527.7,2871.6 L1528.4,2863.7 L1529.1,2882.3 L1529.8,2909.7 L1530.5,2866.3 L1531.2,2967.1 L1531.9,2913.7 L1532.6,2931.9 L1533.4,2889.0 L1534.1,2910.5 L1534.8,2908.6 L1535.5,2895.8 L1536.2,2889.1 L1536.9,2952.2 L1537.6,2938.4 L1538.4,2935.0 L1539.1,2899.5 L1539.8,2905.9 L1540.5,2891.2 L1541.2,2879.3 L1541.9,2916.0 L1542.6,2897.2 L1543.4,2875.0 L1544.1,2878.8 L1544.8,2894.6 L1545.5,2898.0 L1546.2,2874.3 L1546.9,2965.3 L1547.6,2858.2 L1548.3,2920.6 L1549.1,2968.6 L1549.8,2954.1 L1550.5,2931.2 L1551.2,2845.4 L1551.9,2909.5 L1552.6,2881.1 L1553.3,2940.2 L1554.1,2900.7 L1554.8,2900.9 L1555.5,2911.4 L1556.2,2909.8 L1556.9,2941.4 L1557.6,2961.4 L1558.3,2942.0 L1559.1,2913.4 L1559.8,2936.1 L1560.5,2953.5 L1561.2,2943.9 L1561.9,2965.6 L1562.6,2900.8 L1563.3,2900.1 L1564.0,2944.9 L1564.8,2916.2 L1565.5,2985.6 L1566.2,2944.0 L1566.9,2915.8 L1567.6,2935.3 L1568.3,2969.2 L1569.0,2923.4 L1569.8,2895.0 L1570.5,2915.0 L1571.2,2910.4 L1571.9,2879.3 L1572.6,2942.7 L1573.3,2920.0 L1574.0,2908.1 L1574.8,2869.8 L1575.5,2867.3 L1576.2,2893.1 L1576.9,2922.4 L1577.6,2893.0 L1578.3,2950.1 L1579.0,2891.8 L1579.7,2851.5 L1580.5,2859.4 L1581.2,2852.4 L1581.9,2916.1 L1582.6,2853.7 L1583.3,2892.6 L1584.0,2909.6 L1584.7,2854.5 L1585.5,2898.3 L1586.2,2931.0 L1586.9,2885.6 L1587.6,2887.4 L1588.3,2897.3 L1589.0,2925.2 L1589.7,2857.7 L1590.5,2944.0 L1591.2,2878.3 L1591.9,2884.4 L1592.6,2921.0 L1593.3,2875.1 L1594.0,2898.8 L1594.7,2966.4 L1595.4,2908.4 L1596.2,2919.0 L1596.9,2976.1 L1597.6,2963.7 L1598.3,2901.9 L1599.0,2889.8 L1599.7,2901.6 L1600.4,2902.9 L1601.2,2887.9 L1601.9,2917.7 L1602.6,2907.6 L1603.3,2930.5 L1604.0,2905.2 L1604.7,2960.5 L1605.4,2931.1 L1606.2,2958.5 L1606.9,2915.7 L1607.6,2909.5 L1608.3,2946.7 L1609.0,2924.8 L1609.7,2925.7 L1610.4,2950.5 L1611.1,2932.1 L1611.9,2948.3 L1612.6,2899.5 L1613.3,2918.2 L1614.0,2908.0 L1614.7,2874.4 L1615.4,2888.8 L1616.1,2915.8 L1616.9,2921.8 L1617.6,2918.3 L1618.3,2891.4 L1619.0,2903.4 L1619.7,2896.9 L1620.4,2914.8 L1621.1,2924.5 L1621.8,2940.2 L1622.6,2897.2 L1623.3,2904.3 L1624.0,2942.3 L1624.7,2943.5 L1625.4,2918.2 L1626.1,2920.4 L1626.8,2889.8 L1627.6,2884.1 L1628.3,2910.9 L1629.0,2923.7 L1629.7,2958.3 L1630.4,2917.5 L1631.1,2889.9 L1631.8,2965.3 L1632.6,2835.9 L1633.3,2892.6 L1634.0,2876.0 L1634.7,2898.8 L1635.4,2919.1 L1636.1,2944.0 L1636.8,2909.1 L1637.5,2889.8 L1638.3,2888.6 L1639.0,2887.0 L1639.7,2931.9 L1640.4,2927.2 L1641.1,2925.6 L1641.8,2880.6 L1642.5,2960.7 L1643.3,2913.5 L1644.0,2912.0 L1644.7,2960.3 L1645.4,2820.5 L1646.1,2915.2 L1646.8,2905.6 L1647.5,2909.6 L1648.3,2878.9 L1649.0,2886.8 L1649.7,2893.6 L1650.4,2880.6 L1651.1,2894.4 L1651.8,2894.7 L1652.5,2911.9 L1653.2,2903.4 L1654.0,2929.6 L1654.7,2902.9 L1655.4,2897.9 L1656.1,2905.3 L1656.8,2904.2 L1657.5,2930.1 L1658.2,2918.5 L1659.0,2875.5 L1659.7,2893.4 L1660.4,2928.3 L1661.1,2874.4 L1661.8,2957.6 L1662.5,2908.8 L1663.2,2929.4 L1664.0,2900.1 L1664.7,2949.9 L1665.4,2907.0 L1666.1,2876.5 L1666.8,2916.4 L1667.5,2969.0 L1668.2,2916.9 L1668.9,2919.5 L1669.7,2924.4 L1670.4,2974.5 L1671.1,2934.3 L1671.8,2918.9 L1672.5,2966.8 L1673.2,2941.1 L1673.9,2916.4 L1674.7,2928.3 L1675.4,2941.0 L1676.1,2880.6 L1676.8,2963.0 L1677.5,2936.0 L1678.2,2953.4 L1678.9,2926.9 L1679.7,2932.4 L1680.4,2947.8 L1681.1,2940.5 L1681.8,2932.5 L1682.5,2914.0 L1683.2,2939.8 L1683.9,2928.5 L1684.6,2946.2 L1685.4,2939.4 L1686.1,2926.2 L1686.8,2922.6 L1687.5,2901.5 L1688.2,2905.4 L1688.9,2957.6 L1689.6,2888.9 L1690.4,2909.9 L1691.1,2889.8 L1691.8,2901.8 L1692.5,2935.7 L1693.2,2919.2 L1693.9,2891.9 L1694.6,2961.7 L1695.4,2835.9 L1696.1,2888.5 L1696.8,2900.6 L1697.5,2856.9 L1698.2,2941.3 L1698.9,2896.4 L1699.6,2962.9 L1700.3,2889.8 L1701.1,2964.5 L1701.8,2938.3 L1702.5,2976.1 L1703.2,2939.7 L1703.9,2959.6 L1704.6,2880.6 L1705.3,2932.4 L1706.1,2909.1 L1706.8,2982.2 L1707.5,2976.9 L1708.2,2981.4 L1708.9,2820.5 L1709.6,2893.4 L1710.3,2901.1 L1711.0,2866.8 L1711.8,2891.2 L1712.5,2883.3 L1713.2,2896.0 L1713.9,2908.9 L1714.6,2902.1 L1715.3,2929.7 L1716.0,2959.8 L1716.8,2952.2 L1717.5,2945.1 L1718.2,2952.4 L1718.9,2939.0 L1719.6,2973.0 L1720.3,2917.9 L1721.0,2959.2 L1721.8,2906.6 L1722.5,2918.7 L1723.2,2947.0 L1723.9,2951.8 L1724.6,2944.3 L1725.3,2911.4 L1726.0,2951.1 L1726.7,2944.7 L1727.5,2930.3 L1728.2,2954.4 L1728.9,2947.8 L1729.6,2951.6 L1730.3,2929.7 L1731.0,2913.2 L1731.7,2940.8 L1732.5,2962.8 L1733.2,2913.9 L1733.9,2986.9 L1734.6,2944.8 L1735.3,2945.8 L1736.0,2937.3 L1736.7,2945.7 L1737.5,2933.3 L1738.2,2962.5 L1738.9,2981.2 L1739.6,2964.3 L1740.3,2927.4 L1741.0,2973.0 L1741.7,2945.6 L1742.4,2956.1 L1743.2,2978.6 L1743.9,2917.5 L1744.6,2938.4 L1745.3,2933.3 L1746.0,2932.4 L1746.7,2914.6 L1747.4,2931.3 L1748.2,2913.3 L1748.9,2935.2 L1749.6,2960.6 L1750.3,2976.1 L1751.0,2940.7 L1751.7,2975.7 L1752.4,2957.4 L1753.2,2975.3 L1753.9,2932.5 L1754.6,2975.0 L1755.3,2964.6 L1756.0,2951.2 L1756.7,2896.0 L1757.4,2907.1 L1758.1,2948.2 L1758.9,2939.1 L1759.6,2955.7 L1760.3,2927.5 L1761.0,2907.5 L1761.7,2909.3 L1762.4,2973.0 L1763.1,2931.6 L1763.9,2964.1 L1764.6,2925.2 L1765.3,2954.6 L1766.0,2945.4 L1766.7,2975.0 L1767.4,2951.9 L1768.1,2946.7 L1768.9,2926.8 L1769.6,2962.4 L1770.3,2971.0 L1771.0,2968.8 L1771.7,2969.1 L1772.4,2949.0 L1773.1,2961.6 L1773.8,2974.0 L1774.6,3003.8 L1775.3,2994.8 L1776.0,2980.9 L1776.7,2957.5 L1777.4,2952.4 L1778.1,2974.1 L1778.8,2911.4 L1779.6,2960.1 L1780.3,2913.4 L1781.0,2996.5 L1781.7,2959.1 L1782.4,2820.5 L1783.1,2948.3 L1783.8,2847.8 L1784.6,2896.5 L1785.3,2913.0 L1786.0,2957.1 L1786.7,2959.5 L1787.4,2920.6 L1788.1,2987.9 L1788.8,2943.4 L1789.5,2950.4 L1790.3,2985.3 L1791.0,2980.8 L1791.7,2944.7 L1792.4,2985.6 L1793.1,2936.0 L1793.8,2943.7 L1794.5,2958.3 L1795.3,2956.5 L1796.0,2964.2 L1796.7,2993.0 L1797.4,2980.0 L1798.1,2983.8 L1798.8,2947.6 L1799.5,2946.8 L1800.2,2962.1 L1801.0,3009.5 L1801.7,3015.2 L1802.4,3017.7 L1803.1,2981.4 L1803.8,2945.1 L1804.5,3013.1 L1805.2,2968.5 L1806.0,2942.2 L1806.7,3001.0 L1807.4,2951.9 L1808.1,2982.6 L1808.8,2994.6 L1809.5,2988.9 L1810.2,2954.9 L1811.0,2958.9 L1811.7,2970.6 L1812.4,2962.7 L1813.1,2944.1 L1813.8,2950.1 L1814.5,2973.6 L1815.2,2988.4 L1815.9,2938.1 L1816.7,2942.7 L1817.4,2964.8 L1818.1,2917.5 L1818.8,2964.5 L1819.5,2959.2 L1820.2,2937.9 L1820.9,2975.7 L1821.7,2954.5 L1822.4,2962.6 L1823.1,2957.0 L1823.8,2970.5 L1824.5,2985.3 L1825.2,2974.8 L1825.9,2952.1 L1826.7,2968.2 L1827.4,3003.8 L1828.1,2961.9 L1828.8,2972.4 L1829.5,2959.2 L1830.2,2936.0 L1830.9,2956.5 L1831.6,3003.8 L1832.4,2958.5 L1833.1,2992.0 L1833.8,2937.9 L1834.5,2953.2 L1835.2,2970.8 L1835.9,3036.2 L1836.6,2963.3 L1837.4,2945.9 L1838.1,2936.0 L1838.8,2972.7 L1839.5,3003.8 L1840.2,2984.0 L1840.9,2973.6 L1841.6,2958.8 L1842.4,2978.2 L1843.1,2986.1 L1843.8,2999.4 L1844.5,2936.0 L1845.2,2941.6 L1845.9,2963.9 L1846.6,2958.5 L1847.3,2959.5 L1848.1,2942.9 L1848.8,2997.6 L1849.5,2963.3 L1850.2,2946.7 L1850.9,2953.5 L1851.6,2968.4 L1852.3,2971.5 L1853.1,2965.5 L1853.8,2990.3 L1854.5,2998.4 L1855.2,2992.3 L1855.9,2966.3 L1856.6,2986.3 L1857.3,3009.0 L1858.1,2960.7 L1858.8,3010.0 L1859.5,2994.1 L1860.2,2979.3 L1860.9,2992.5 L1861.6,2971.5 L1862.3,3037.7 L1863.0,2977.1 L1863.8,2960.2 L1864.5,2994.5 L1865.2,3020.9 L1865.9,2967.1 L1866.6,2999.1 L1867.3,3013.1 L1868.0,2964.2 L1868.8,2995.0 L1869.5,2989.3 L1870.2,2993.4 L1870.9,2961.5 L1871.6,2988.1 L1872.3,3011.2 L1873.0,2970.3 L1873.8,2942.2 L1874.5,3003.7 L1875.2,3018.1 L1875.9,2937.0 L1876.6,3019.2 L1877.3,2967.6 L1878.0,2985.4 L1878.7,2968.9 L1879.5,2957.5 L1880.2,2965.4 L1880.9,2946.0 L1881.6,2979.4 L1882.3,2992.0 L1883.0,2985.1 L1883.7,3011.4 L1884.5,2985.1 L1885.2,3006.1 L1885.9,2916.0 L1886.6,2983.6 L1887.3,3022.3 L1888.0,2971.9 L1888.7,2961.1 L1889.4,2971.4 L1890.2,2943.9 L1890.9,2954.3 L1891.6,2950.5 L1892.3,2938.0 L1893.0,2922.9 L1893.7,2982.2 L1894.4,2972.8 L1895.2,2920.6 L1895.9,2936.1 L1896.6,2935.9 L1897.3,3000.0 L1898.0,2994.4 L1898.7,2936.8 L1899.4,2960.8 L1900.2,2961.6 L1900.9,3003.8 L1901.6,2962.2 L1902.3,2925.0 L1903.0,2933.7 L1903.7,2957.9 L1904.4,2894.4 L1905.1,2949.9 L1905.9,2927.3 L1906.6,2954.8 L1907.3,2966.8 L1908.0,2960.8 L1908.7,2971.4 L1909.4,2978.0 L1910.1,3010.0 L1910.9,2996.8 L1911.6,2932.1 L1912.3,2935.8 L1913.0,2966.0 L1913.7,2942.2 L1914.4,2998.9 L1915.1,2986.3 L1915.9,3016.1 L1916.6,2983.3 L1917.3,2998.4 L1918.0,3030.9 L1918.7,2930.4 L1919.4,3045.4 L1920.1,2926.8 L1920.8,2947.6 L1921.6,2975.0 L1922.3,2944.5 L1923.0,2911.6 L1923.7,2988.4 L1924.4,2820.5 L1925.1,2841.7 L1925.8,2924.8 L1926.6,2913.7 L1927.3,2925.0 L1928.0,2896.0 L1928.7,2925.5 L1929.4,2953.5 L1930.1,2911.4 L1930.8,2950.3 L1931.6,2910.5 L1932.3,2973.0 L1933.0,2956.5 L1933.7,2974.3 L1934.4,2863.4 L1935.1,2925.3 L1935.8,2901.6 L1936.5,2820.5 L1937.3,2959.8 L1938.0,2898.7 L1938.7,2947.8 L1939.4,2952.6 L1940.1,2912.7 L1940.8,2934.3 L1941.5,2911.4 L1942.3,2939.2 L1943.0,2966.1 L1943.7,2959.2 L1944.4,2926.8 L1945.1,2983.5 L1945.8,2975.4 L1946.5,2974.0 L1947.3,2985.3 L1948.0,2937.8 L1948.7,2956.5 L1949.4,2949.9 L1950.1,2941.4 L1950.8,2923.3 L1951.5,2956.6 L1952.2,2980.8 L1953.0,2953.5 L1953.7,2886.7 L1954.4,2955.6 L1955.1,2895.8 L1955.8,2963.9 L1956.5,2983.5 L1957.2,2972.1 L1958.0,3003.0 L1958.7,2956.6 L1959.4,2989.5 L1960.1,2972.4 L1960.8,2982.5 L1961.5,2932.9 L1962.2,2971.6 L1963.0,2988.6 L1963.7,3004.2 L1964.4,3014.6 L1965.1,3008.2 L1965.8,2978.4 L1966.5,2981.4 L1967.2,2962.7 L1967.9,2983.5 L1968.7,2969.8 L1969.4,2996.7 L1970.1,2986.2" stroke="#edb120" stroke-width="4.6"/>
<path d="M276.2,2264.0 L2037.1,3034.0" stroke="#ff0000" stroke-width="9.5" stroke-linecap="butt"/>
</g>
<text class="tk" transform="translate(275.7,3256.6) scale(1.0,1)" font-size="54" text-anchor="middle">0</text>
<text class="tk" transform="translate(632.5,3256.6) scale(1.0,1)" font-size="54" text-anchor="middle">500</text>
<text class="tk" transform="translate(989.2,3256.6) scale(1.0,1)" font-size="54" text-anchor="middle">1000</text>
<text class="tk" transform="translate(1346.0,3256.6) scale(1.0,1)" font-size="54" text-anchor="middle">1500</text>
<text class="tk" transform="translate(1702.7,3256.6) scale(1.0,1)" font-size="54" text-anchor="middle">2000</text>
<text class="tk" transform="translate(2059.4,3256.6) scale(1.0,1)" font-size="54" text-anchor="middle">2500</text>
<text class="tk" style="fill:#6a6a6a" transform="translate(182.6,3209.8) scale(1.33,1.15)" font-size="54" text-anchor="end">−</text>
<text class="tk" transform="translate(253.2,3202.2) scale(1.04,1)" font-size="54" text-anchor="end">0.2</text>
<text class="tk" transform="translate(253.2,3048.2) scale(1.04,1)" font-size="54" text-anchor="end">0</text>
<text class="tk" transform="translate(253.2,2894.2) scale(1.04,1)" font-size="54" text-anchor="end">0.2</text>
<text class="tk" transform="translate(253.2,2740.2) scale(1.04,1)" font-size="54" text-anchor="end">0.4</text>
<text class="tk" transform="translate(253.2,2586.2) scale(1.04,1)" font-size="54" text-anchor="end">0.6</text>
<text class="tk" transform="translate(253.2,2432.2) scale(1.04,1)" font-size="54" text-anchor="end">0.8</text>
<text class="tk" transform="translate(253.2,2278.2) scale(1.04,1)" font-size="54" text-anchor="end">1</text>
<text class="tk" transform="translate(253.2,2124.2) scale(1.04,1)" font-size="54" text-anchor="end">1.2</text>
<text class="tk" transform="translate(253.2,1970.2) scale(1.04,1)" font-size="54" text-anchor="end">1.4</text>
<text class="tk" transform="translate(253.2,1816.2) scale(1.04,1)" font-size="54" text-anchor="end">1.6</text>
<text class="sn" transform="translate(112.7,2496) rotate(-90)" font-size="59.5" text-anchor="middle">RUL</text>
<text class="sn" x="1167.5" y="3343.6" font-size="60.2" text-anchor="middle">Time Step</text>
<rect x="609" y="1844.8" width="1405.4" height="75.29999999999995" fill="#fff" stroke="#1e1e1e" stroke-width="2.5"/>
<path d="M621.8,1882.7 H784.6" stroke="#b447ff" stroke-width="4.4"/>
<text class="lg" x="794" y="1899.8" font-size="49.5">DANN</text>
<path d="M970,1882.7 H1132.9" stroke="#edb120" stroke-width="4.6"/>
<text class="lg" x="1141.7" y="1899.8" font-size="49.5">Improved DANN</text>
<path d="M1533,1882.7 H1695.4" stroke="#ff0000" stroke-width="9.5"/>
<text class="lg" x="1706" y="1899.8" font-size="49.5">Ground Truth</text>
<text class="cap" x="1051" y="3506" font-size="86" text-anchor="middle">(<tspan font-weight="bold">c</tspan>)</text>
</svg></body></html>
